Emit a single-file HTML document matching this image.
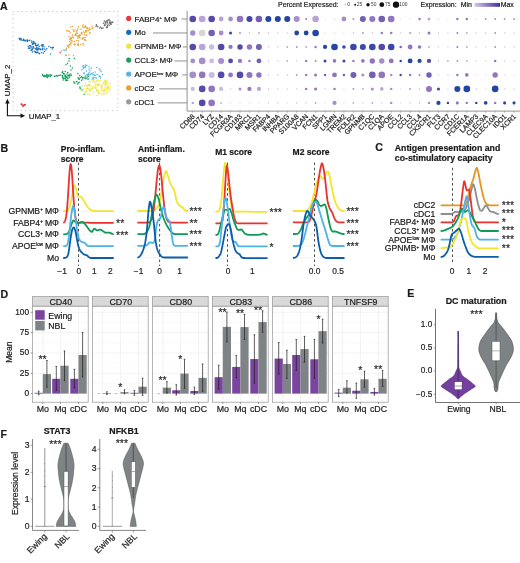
<!DOCTYPE html>
<html><head><meta charset="utf-8"><title>Figure</title>
<style>html,body{margin:0;padding:0;background:#fff;}svg{display:block;}text{stroke:#1a1a1a;stroke-width:0.2px;}</style></head>
<body>
<svg width="520" height="563" viewBox="0 0 520 563" font-family='"Liberation Sans", sans-serif' fill="#1a1a1a">
<defs><linearGradient id="gexp" x1="0" x2="1" y1="0" y2="0"><stop offset="0" stop-color="#d4c8ea"/><stop offset="0.5" stop-color="#8f78c6"/><stop offset="1" stop-color="#35359c"/></linearGradient></defs>
<text x="-0.1" y="9.5" font-size="10.6" font-weight="bold">A</text>
<rect x="13" y="11.5" width="104.9" height="99.2" fill="none" stroke="#b8b8b8" stroke-width="0.8" stroke-dasharray="1.2 3.15"/>
<path d="M7.4 102 V115.8 H21.5" fill="none" stroke="#111" stroke-width="1.1"/>
<path d="M7.4 98.8 L5.2 103.4 H9.6 Z" fill="#111"/>
<path d="M25.1 115.8 L20.5 113.6 V118 Z" fill="#111"/>
<text x="28.7" y="118.9" font-size="7.9">UMAP_1</text>
<text transform="translate(10.1,96.3) rotate(-90)" font-size="7.9">UMAP_2</text>
<circle cx="107.9" cy="24.0" r="0.76" fill="#6f6f6f"/>
<circle cx="107.5" cy="22.0" r="0.76" fill="#6f6f6f"/>
<circle cx="105.3" cy="22.9" r="0.76" fill="#6f6f6f"/>
<circle cx="112.2" cy="22.6" r="0.76" fill="#6f6f6f"/>
<circle cx="112.0" cy="22.3" r="0.76" fill="#6f6f6f"/>
<circle cx="110.0" cy="22.7" r="0.76" fill="#6f6f6f"/>
<circle cx="104.6" cy="25.1" r="0.76" fill="#6f6f6f"/>
<circle cx="110.6" cy="23.3" r="0.76" fill="#6f6f6f"/>
<circle cx="104.3" cy="21.1" r="0.76" fill="#6f6f6f"/>
<circle cx="105.3" cy="22.3" r="0.76" fill="#6f6f6f"/>
<circle cx="109.6" cy="22.2" r="0.76" fill="#6f6f6f"/>
<circle cx="109.9" cy="20.7" r="0.76" fill="#6f6f6f"/>
<circle cx="109.8" cy="23.3" r="0.76" fill="#6f6f6f"/>
<circle cx="107.6" cy="26.0" r="0.76" fill="#6f6f6f"/>
<circle cx="110.8" cy="24.6" r="0.76" fill="#6f6f6f"/>
<circle cx="106.0" cy="21.5" r="0.76" fill="#6f6f6f"/>
<circle cx="107.2" cy="22.7" r="0.76" fill="#6f6f6f"/>
<circle cx="110.9" cy="22.6" r="0.76" fill="#6f6f6f"/>
<circle cx="106.5" cy="20.9" r="0.76" fill="#6f6f6f"/>
<circle cx="107.6" cy="25.5" r="0.76" fill="#6f6f6f"/>
<circle cx="105.9" cy="23.9" r="0.76" fill="#6f6f6f"/>
<circle cx="109.0" cy="19.5" r="0.76" fill="#6f6f6f"/>
<circle cx="109.3" cy="25.2" r="0.76" fill="#6f6f6f"/>
<circle cx="103.5" cy="23.3" r="0.76" fill="#6f6f6f"/>
<circle cx="107.7" cy="20.8" r="0.76" fill="#6f6f6f"/>
<circle cx="110.2" cy="22.0" r="0.76" fill="#6f6f6f"/>
<circle cx="104.9" cy="25.1" r="0.76" fill="#6f6f6f"/>
<circle cx="111.1" cy="24.1" r="0.76" fill="#6f6f6f"/>
<circle cx="112.8" cy="22.2" r="0.76" fill="#6f6f6f"/>
<circle cx="108.2" cy="19.9" r="0.76" fill="#6f6f6f"/>
<circle cx="101.7" cy="28.6" r="0.76" fill="#6f6f6f"/>
<circle cx="100.5" cy="27.2" r="0.76" fill="#6f6f6f"/>
<circle cx="103.0" cy="28.0" r="0.76" fill="#6f6f6f"/>
<circle cx="99.7" cy="28.0" r="0.76" fill="#6f6f6f"/>
<circle cx="101.8" cy="28.2" r="0.76" fill="#6f6f6f"/>
<circle cx="97.9" cy="26.8" r="0.76" fill="#6f6f6f"/>
<circle cx="96.4" cy="24.8" r="0.76" fill="#6f6f6f"/>
<circle cx="96.0" cy="26.5" r="0.76" fill="#6f6f6f"/>
<circle cx="96.6" cy="25.6" r="0.76" fill="#6f6f6f"/>
<circle cx="106.9" cy="27.6" r="0.76" fill="#6f6f6f"/>
<circle cx="107.0" cy="27.4" r="0.76" fill="#6f6f6f"/>
<circle cx="107.2" cy="27.5" r="0.76" fill="#6f6f6f"/>
<circle cx="106.4" cy="27.1" r="0.76" fill="#6f6f6f"/>
<circle cx="104.5" cy="25.4" r="0.76" fill="#6f6f6f"/>
<circle cx="79.4" cy="37.2" r="0.76" fill="#e8a02c"/>
<circle cx="73.3" cy="30.0" r="0.76" fill="#e8a02c"/>
<circle cx="86.3" cy="32.1" r="0.76" fill="#e8a02c"/>
<circle cx="72.3" cy="36.1" r="0.76" fill="#e8a02c"/>
<circle cx="88.0" cy="30.2" r="0.76" fill="#e8a02c"/>
<circle cx="69.1" cy="31.4" r="0.76" fill="#e8a02c"/>
<circle cx="77.3" cy="30.4" r="0.76" fill="#e8a02c"/>
<circle cx="87.1" cy="28.1" r="0.76" fill="#e8a02c"/>
<circle cx="86.1" cy="27.2" r="0.76" fill="#e8a02c"/>
<circle cx="72.6" cy="35.0" r="0.76" fill="#e8a02c"/>
<circle cx="86.1" cy="35.6" r="0.76" fill="#e8a02c"/>
<circle cx="81.4" cy="32.7" r="0.76" fill="#e8a02c"/>
<circle cx="79.7" cy="34.9" r="0.76" fill="#e8a02c"/>
<circle cx="77.0" cy="33.5" r="0.76" fill="#e8a02c"/>
<circle cx="83.2" cy="32.0" r="0.76" fill="#e8a02c"/>
<circle cx="84.3" cy="34.7" r="0.76" fill="#e8a02c"/>
<circle cx="89.6" cy="33.1" r="0.76" fill="#e8a02c"/>
<circle cx="75.0" cy="30.1" r="0.76" fill="#e8a02c"/>
<circle cx="78.4" cy="36.4" r="0.76" fill="#e8a02c"/>
<circle cx="75.7" cy="34.0" r="0.76" fill="#e8a02c"/>
<circle cx="85.5" cy="25.9" r="0.76" fill="#e8a02c"/>
<circle cx="70.3" cy="33.1" r="0.76" fill="#e8a02c"/>
<circle cx="81.8" cy="33.2" r="0.76" fill="#e8a02c"/>
<circle cx="75.1" cy="35.2" r="0.76" fill="#e8a02c"/>
<circle cx="80.8" cy="29.3" r="0.76" fill="#e8a02c"/>
<circle cx="90.1" cy="33.1" r="0.76" fill="#e8a02c"/>
<circle cx="74.0" cy="31.5" r="0.76" fill="#e8a02c"/>
<circle cx="76.6" cy="31.7" r="0.76" fill="#e8a02c"/>
<circle cx="66.8" cy="30.7" r="0.76" fill="#e8a02c"/>
<circle cx="85.0" cy="27.3" r="0.76" fill="#e8a02c"/>
<circle cx="78.0" cy="36.5" r="0.76" fill="#e8a02c"/>
<circle cx="83.8" cy="37.7" r="0.76" fill="#e8a02c"/>
<circle cx="68.1" cy="30.7" r="0.76" fill="#e8a02c"/>
<circle cx="75.8" cy="35.1" r="0.76" fill="#e8a02c"/>
<circle cx="83.0" cy="25.1" r="0.76" fill="#e8a02c"/>
<circle cx="85.0" cy="26.6" r="0.76" fill="#e8a02c"/>
<circle cx="82.8" cy="26.1" r="0.76" fill="#e8a02c"/>
<circle cx="79.8" cy="37.3" r="0.76" fill="#e8a02c"/>
<circle cx="77.2" cy="33.0" r="0.76" fill="#e8a02c"/>
<circle cx="84.7" cy="32.7" r="0.76" fill="#e8a02c"/>
<circle cx="77.9" cy="38.2" r="0.76" fill="#e8a02c"/>
<circle cx="86.2" cy="30.6" r="0.76" fill="#e8a02c"/>
<circle cx="89.5" cy="29.1" r="0.76" fill="#e8a02c"/>
<circle cx="85.5" cy="30.7" r="0.76" fill="#e8a02c"/>
<circle cx="79.6" cy="35.5" r="0.76" fill="#e8a02c"/>
<circle cx="80.3" cy="35.2" r="0.76" fill="#e8a02c"/>
<circle cx="70.4" cy="27.0" r="0.76" fill="#e8a02c"/>
<circle cx="83.0" cy="27.6" r="0.76" fill="#e8a02c"/>
<circle cx="72.4" cy="26.5" r="0.76" fill="#e8a02c"/>
<circle cx="86.9" cy="35.1" r="0.76" fill="#e8a02c"/>
<circle cx="87.5" cy="28.4" r="0.76" fill="#e8a02c"/>
<circle cx="78.5" cy="26.8" r="0.76" fill="#e8a02c"/>
<circle cx="83.1" cy="38.0" r="0.76" fill="#e8a02c"/>
<circle cx="73.2" cy="37.8" r="0.76" fill="#e8a02c"/>
<circle cx="85.9" cy="31.2" r="0.76" fill="#e8a02c"/>
<circle cx="69.0" cy="36.2" r="0.76" fill="#e8a02c"/>
<circle cx="77.7" cy="28.9" r="0.76" fill="#e8a02c"/>
<circle cx="81.8" cy="34.1" r="0.76" fill="#e8a02c"/>
<circle cx="87.4" cy="28.2" r="0.76" fill="#e8a02c"/>
<circle cx="85.1" cy="37.4" r="0.76" fill="#e8a02c"/>
<circle cx="84.8" cy="39.8" r="0.76" fill="#e8a02c"/>
<circle cx="74.3" cy="44.4" r="0.76" fill="#e8a02c"/>
<circle cx="78.7" cy="41.1" r="0.76" fill="#e8a02c"/>
<circle cx="84.7" cy="39.5" r="0.76" fill="#e8a02c"/>
<circle cx="69.9" cy="39.5" r="0.76" fill="#e8a02c"/>
<circle cx="70.7" cy="43.0" r="0.76" fill="#e8a02c"/>
<circle cx="79.8" cy="37.8" r="0.76" fill="#e8a02c"/>
<circle cx="77.9" cy="44.0" r="0.76" fill="#e8a02c"/>
<circle cx="78.4" cy="45.5" r="0.76" fill="#e8a02c"/>
<circle cx="77.7" cy="44.7" r="0.76" fill="#e8a02c"/>
<circle cx="83.5" cy="45.0" r="0.76" fill="#e8a02c"/>
<circle cx="74.5" cy="44.0" r="0.76" fill="#e8a02c"/>
<circle cx="71.0" cy="37.4" r="0.76" fill="#e8a02c"/>
<circle cx="70.8" cy="43.5" r="0.76" fill="#e8a02c"/>
<circle cx="71.8" cy="40.5" r="0.76" fill="#e8a02c"/>
<circle cx="76.9" cy="40.4" r="0.76" fill="#e8a02c"/>
<circle cx="74.6" cy="41.5" r="0.76" fill="#e8a02c"/>
<circle cx="85.6" cy="40.6" r="0.76" fill="#e8a02c"/>
<circle cx="80.7" cy="44.5" r="0.76" fill="#e8a02c"/>
<circle cx="77.0" cy="35.7" r="0.76" fill="#e8a02c"/>
<circle cx="75.2" cy="44.7" r="0.76" fill="#e8a02c"/>
<circle cx="70.9" cy="38.5" r="0.76" fill="#e8a02c"/>
<circle cx="83.0" cy="43.5" r="0.76" fill="#e8a02c"/>
<circle cx="78.0" cy="43.9" r="0.76" fill="#e8a02c"/>
<circle cx="78.8" cy="35.9" r="0.76" fill="#e8a02c"/>
<circle cx="71.1" cy="38.4" r="0.76" fill="#e8a02c"/>
<circle cx="82.8" cy="38.2" r="0.76" fill="#e8a02c"/>
<circle cx="73.4" cy="37.5" r="0.76" fill="#e8a02c"/>
<circle cx="70.9" cy="40.1" r="0.76" fill="#e8a02c"/>
<circle cx="72.1" cy="41.9" r="0.76" fill="#e8a02c"/>
<circle cx="69.8" cy="41.4" r="0.76" fill="#e8a02c"/>
<circle cx="75.5" cy="34.7" r="0.76" fill="#e8a02c"/>
<circle cx="82.0" cy="39.3" r="0.76" fill="#e8a02c"/>
<circle cx="70.3" cy="38.2" r="0.76" fill="#e8a02c"/>
<circle cx="92.0" cy="26.3" r="0.76" fill="#e8a02c"/>
<circle cx="89.4" cy="27.9" r="0.76" fill="#e8a02c"/>
<circle cx="88.9" cy="30.6" r="0.76" fill="#e8a02c"/>
<circle cx="92.3" cy="28.0" r="0.76" fill="#e8a02c"/>
<circle cx="90.9" cy="29.2" r="0.76" fill="#e8a02c"/>
<circle cx="93.0" cy="28.5" r="0.76" fill="#e8a02c"/>
<circle cx="68.6" cy="47.4" r="0.76" fill="#e8a02c"/>
<circle cx="66.3" cy="48.4" r="0.76" fill="#e8a02c"/>
<circle cx="67.8" cy="46.1" r="0.76" fill="#e8a02c"/>
<circle cx="69.4" cy="44.6" r="0.76" fill="#e8a02c"/>
<circle cx="67.9" cy="45.9" r="0.76" fill="#e8a02c"/>
<circle cx="69.1" cy="45.9" r="0.76" fill="#e8a02c"/>
<circle cx="70.9" cy="45.0" r="0.76" fill="#e8a02c"/>
<circle cx="33.8" cy="41.8" r="0.76" fill="#1b6fb8"/>
<circle cx="20.1" cy="38.5" r="0.76" fill="#1b6fb8"/>
<circle cx="20.9" cy="40.0" r="0.76" fill="#1b6fb8"/>
<circle cx="31.7" cy="41.0" r="0.76" fill="#1b6fb8"/>
<circle cx="33.8" cy="42.4" r="0.76" fill="#1b6fb8"/>
<circle cx="19.6" cy="39.5" r="0.76" fill="#1b6fb8"/>
<circle cx="25.0" cy="41.1" r="0.76" fill="#1b6fb8"/>
<circle cx="29.7" cy="40.3" r="0.76" fill="#1b6fb8"/>
<circle cx="31.9" cy="42.4" r="0.76" fill="#1b6fb8"/>
<circle cx="26.0" cy="40.5" r="0.76" fill="#1b6fb8"/>
<circle cx="33.4" cy="41.4" r="0.76" fill="#1b6fb8"/>
<circle cx="27.0" cy="39.9" r="0.76" fill="#1b6fb8"/>
<circle cx="20.8" cy="38.8" r="0.76" fill="#1b6fb8"/>
<circle cx="23.6" cy="40.4" r="0.76" fill="#1b6fb8"/>
<circle cx="23.6" cy="39.2" r="0.76" fill="#1b6fb8"/>
<circle cx="23.7" cy="39.6" r="0.76" fill="#1b6fb8"/>
<circle cx="19.7" cy="38.9" r="0.76" fill="#1b6fb8"/>
<circle cx="22.0" cy="40.2" r="0.76" fill="#1b6fb8"/>
<circle cx="21.3" cy="39.0" r="0.76" fill="#1b6fb8"/>
<circle cx="27.5" cy="40.3" r="0.76" fill="#1b6fb8"/>
<circle cx="27.4" cy="41.4" r="0.76" fill="#1b6fb8"/>
<circle cx="25.1" cy="40.4" r="0.76" fill="#1b6fb8"/>
<circle cx="29.0" cy="40.8" r="0.76" fill="#1b6fb8"/>
<circle cx="19.2" cy="38.2" r="0.76" fill="#1b6fb8"/>
<circle cx="37.8" cy="45.5" r="0.76" fill="#1b6fb8"/>
<circle cx="38.7" cy="49.8" r="0.76" fill="#1b6fb8"/>
<circle cx="43.1" cy="45.0" r="0.76" fill="#1b6fb8"/>
<circle cx="35.6" cy="45.2" r="0.76" fill="#1b6fb8"/>
<circle cx="37.2" cy="51.1" r="0.76" fill="#1b6fb8"/>
<circle cx="33.8" cy="48.0" r="0.76" fill="#1b6fb8"/>
<circle cx="32.8" cy="48.2" r="0.76" fill="#1b6fb8"/>
<circle cx="46.8" cy="48.8" r="0.76" fill="#1b6fb8"/>
<circle cx="33.2" cy="46.5" r="0.76" fill="#1b6fb8"/>
<circle cx="42.7" cy="48.6" r="0.76" fill="#1b6fb8"/>
<circle cx="37.3" cy="48.3" r="0.76" fill="#1b6fb8"/>
<circle cx="32.2" cy="49.7" r="0.76" fill="#1b6fb8"/>
<circle cx="33.3" cy="47.3" r="0.76" fill="#1b6fb8"/>
<circle cx="36.8" cy="48.1" r="0.76" fill="#1b6fb8"/>
<circle cx="36.9" cy="49.7" r="0.76" fill="#1b6fb8"/>
<circle cx="35.8" cy="48.5" r="0.76" fill="#1b6fb8"/>
<circle cx="42.6" cy="49.7" r="0.76" fill="#1b6fb8"/>
<circle cx="37.5" cy="52.4" r="0.76" fill="#1b6fb8"/>
<circle cx="29.7" cy="45.7" r="0.76" fill="#1b6fb8"/>
<circle cx="33.9" cy="43.6" r="0.76" fill="#1b6fb8"/>
<circle cx="42.2" cy="46.8" r="0.76" fill="#1b6fb8"/>
<circle cx="32.3" cy="52.0" r="0.76" fill="#1b6fb8"/>
<circle cx="41.5" cy="52.8" r="0.76" fill="#1b6fb8"/>
<circle cx="36.5" cy="47.1" r="0.76" fill="#1b6fb8"/>
<circle cx="42.9" cy="44.8" r="0.76" fill="#1b6fb8"/>
<circle cx="32.5" cy="43.8" r="0.76" fill="#1b6fb8"/>
<circle cx="39.2" cy="46.6" r="0.76" fill="#1b6fb8"/>
<circle cx="31.0" cy="46.3" r="0.76" fill="#1b6fb8"/>
<circle cx="42.6" cy="45.0" r="0.76" fill="#1b6fb8"/>
<circle cx="41.5" cy="45.3" r="0.76" fill="#1b6fb8"/>
<circle cx="44.1" cy="46.7" r="0.76" fill="#1b6fb8"/>
<circle cx="36.4" cy="45.5" r="0.76" fill="#1b6fb8"/>
<circle cx="40.8" cy="49.3" r="0.76" fill="#1b6fb8"/>
<circle cx="35.3" cy="49.1" r="0.76" fill="#1b6fb8"/>
<circle cx="41.8" cy="45.5" r="0.76" fill="#1b6fb8"/>
<circle cx="32.9" cy="44.1" r="0.76" fill="#1b6fb8"/>
<circle cx="35.4" cy="44.3" r="0.76" fill="#1b6fb8"/>
<circle cx="45.9" cy="50.0" r="0.76" fill="#1b6fb8"/>
<circle cx="38.2" cy="44.4" r="0.76" fill="#1b6fb8"/>
<circle cx="30.2" cy="45.7" r="0.76" fill="#1b6fb8"/>
<circle cx="44.5" cy="51.5" r="0.76" fill="#1b6fb8"/>
<circle cx="37.2" cy="49.6" r="0.76" fill="#1b6fb8"/>
<circle cx="35.8" cy="52.5" r="0.76" fill="#1b6fb8"/>
<circle cx="38.9" cy="53.0" r="0.76" fill="#1b6fb8"/>
<circle cx="44.2" cy="49.0" r="0.76" fill="#1b6fb8"/>
<circle cx="32.2" cy="49.7" r="0.76" fill="#1b6fb8"/>
<circle cx="35.0" cy="43.3" r="0.76" fill="#1b6fb8"/>
<circle cx="32.5" cy="44.2" r="0.76" fill="#1b6fb8"/>
<circle cx="40.5" cy="49.8" r="0.76" fill="#1b6fb8"/>
<circle cx="36.4" cy="52.7" r="0.76" fill="#1b6fb8"/>
<circle cx="34.4" cy="51.5" r="0.76" fill="#1b6fb8"/>
<circle cx="39.8" cy="48.8" r="0.76" fill="#1b6fb8"/>
<circle cx="35.7" cy="52.3" r="0.76" fill="#1b6fb8"/>
<circle cx="35.6" cy="43.6" r="0.76" fill="#1b6fb8"/>
<circle cx="35.0" cy="51.5" r="0.76" fill="#1b6fb8"/>
<circle cx="31.1" cy="47.7" r="0.76" fill="#1b6fb8"/>
<circle cx="43.4" cy="52.9" r="0.76" fill="#1b6fb8"/>
<circle cx="39.4" cy="53.8" r="0.76" fill="#1b6fb8"/>
<circle cx="38.7" cy="48.2" r="0.76" fill="#1b6fb8"/>
<circle cx="29.0" cy="47.8" r="0.76" fill="#1b6fb8"/>
<circle cx="31.7" cy="49.4" r="0.76" fill="#1b6fb8"/>
<circle cx="28.2" cy="46.3" r="0.76" fill="#1b6fb8"/>
<circle cx="28.8" cy="48.4" r="0.76" fill="#1b6fb8"/>
<circle cx="31.0" cy="50.5" r="0.76" fill="#1b6fb8"/>
<circle cx="29.8" cy="48.4" r="0.76" fill="#1b6fb8"/>
<circle cx="53.1" cy="47.5" r="0.76" fill="#1b6fb8"/>
<circle cx="48.8" cy="46.6" r="0.76" fill="#1b6fb8"/>
<circle cx="53.3" cy="47.5" r="0.76" fill="#1b6fb8"/>
<circle cx="52.4" cy="49.0" r="0.76" fill="#1b6fb8"/>
<circle cx="50.7" cy="47.5" r="0.76" fill="#1b6fb8"/>
<circle cx="52.2" cy="47.6" r="0.76" fill="#1b6fb8"/>
<circle cx="66.4" cy="49.8" r="0.76" fill="#55b4e6"/>
<circle cx="65.1" cy="50.5" r="0.76" fill="#55b4e6"/>
<circle cx="63.8" cy="49.9" r="0.76" fill="#55b4e6"/>
<circle cx="61.5" cy="51.1" r="0.76" fill="#55b4e6"/>
<circle cx="21.8" cy="104.3" r="0.76" fill="#e8383d"/>
<circle cx="21.5" cy="104.3" r="0.76" fill="#e8383d"/>
<circle cx="22.0" cy="104.9" r="0.76" fill="#e8383d"/>
<circle cx="22.8" cy="105.9" r="0.76" fill="#e8383d"/>
<circle cx="23.1" cy="106.0" r="0.76" fill="#e8383d"/>
<circle cx="21.2" cy="104.0" r="0.76" fill="#e8383d"/>
<circle cx="25.0" cy="104.6" r="0.76" fill="#e8383d"/>
<circle cx="23.6" cy="105.7" r="0.76" fill="#e8383d"/>
<circle cx="24.2" cy="105.1" r="0.76" fill="#e8383d"/>
<circle cx="25.2" cy="104.6" r="0.76" fill="#e8383d"/>
<circle cx="24.6" cy="104.9" r="0.76" fill="#e8383d"/>
<circle cx="23.9" cy="105.1" r="0.76" fill="#e8383d"/>
<circle cx="60.1" cy="52.7" r="0.76" fill="#e8383d"/>
<circle cx="50.6" cy="54.0" r="0.76" fill="#1a9e5c"/>
<circle cx="66.0" cy="55.3" r="0.76" fill="#1a9e5c"/>
<circle cx="69.2" cy="58.5" r="0.76" fill="#1a9e5c"/>
<circle cx="74.5" cy="58.5" r="0.76" fill="#1a9e5c"/>
<circle cx="66.0" cy="64.8" r="0.76" fill="#1a9e5c"/>
<circle cx="67.5" cy="63.5" r="0.76" fill="#1a9e5c"/>
<circle cx="70.3" cy="65.9" r="0.76" fill="#1a9e5c"/>
<circle cx="72.4" cy="68.0" r="0.76" fill="#1a9e5c"/>
<circle cx="69.0" cy="61.0" r="0.76" fill="#1a9e5c"/>
<circle cx="71.0" cy="70.0" r="0.76" fill="#1a9e5c"/>
<circle cx="47.5" cy="77.6" r="0.76" fill="#1a9e5c"/>
<circle cx="44.3" cy="75.5" r="0.76" fill="#1a9e5c"/>
<circle cx="50.6" cy="75.0" r="0.76" fill="#1a9e5c"/>
<circle cx="44.8" cy="75.8" r="0.76" fill="#1a9e5c"/>
<circle cx="47.0" cy="76.3" r="0.76" fill="#1a9e5c"/>
<circle cx="45.7" cy="76.1" r="0.76" fill="#1a9e5c"/>
<circle cx="46.6" cy="76.7" r="0.76" fill="#1a9e5c"/>
<circle cx="42.5" cy="74.5" r="0.76" fill="#1a9e5c"/>
<circle cx="46.6" cy="74.4" r="0.76" fill="#1a9e5c"/>
<circle cx="43.5" cy="76.1" r="0.76" fill="#1a9e5c"/>
<circle cx="44.4" cy="76.3" r="0.76" fill="#1a9e5c"/>
<circle cx="48.8" cy="76.3" r="0.76" fill="#1a9e5c"/>
<circle cx="48.2" cy="75.7" r="0.76" fill="#1a9e5c"/>
<circle cx="42.7" cy="75.3" r="0.76" fill="#1a9e5c"/>
<circle cx="48.0" cy="75.1" r="0.76" fill="#1a9e5c"/>
<circle cx="46.1" cy="76.7" r="0.76" fill="#1a9e5c"/>
<circle cx="43.8" cy="76.2" r="0.76" fill="#1a9e5c"/>
<circle cx="50.8" cy="75.6" r="0.76" fill="#1a9e5c"/>
<circle cx="47.0" cy="75.5" r="0.76" fill="#1a9e5c"/>
<circle cx="50.4" cy="76.4" r="0.76" fill="#1a9e5c"/>
<circle cx="49.2" cy="75.1" r="0.76" fill="#1a9e5c"/>
<circle cx="46.4" cy="75.7" r="0.76" fill="#1a9e5c"/>
<circle cx="55.1" cy="76.2" r="0.76" fill="#1a9e5c"/>
<circle cx="58.4" cy="75.4" r="0.76" fill="#1a9e5c"/>
<circle cx="51.6" cy="75.3" r="0.76" fill="#1a9e5c"/>
<circle cx="57.2" cy="76.2" r="0.76" fill="#1a9e5c"/>
<circle cx="56.6" cy="75.6" r="0.76" fill="#1a9e5c"/>
<circle cx="54.4" cy="76.2" r="0.76" fill="#1a9e5c"/>
<circle cx="65.8" cy="80.4" r="0.76" fill="#1a9e5c"/>
<circle cx="63.4" cy="73.8" r="0.76" fill="#1a9e5c"/>
<circle cx="67.7" cy="77.9" r="0.76" fill="#1a9e5c"/>
<circle cx="62.1" cy="72.7" r="0.76" fill="#1a9e5c"/>
<circle cx="66.8" cy="76.9" r="0.76" fill="#1a9e5c"/>
<circle cx="60.4" cy="75.0" r="0.76" fill="#1a9e5c"/>
<circle cx="62.9" cy="77.2" r="0.76" fill="#1a9e5c"/>
<circle cx="65.0" cy="75.7" r="0.76" fill="#1a9e5c"/>
<circle cx="63.7" cy="78.8" r="0.76" fill="#1a9e5c"/>
<circle cx="70.8" cy="75.6" r="0.76" fill="#1a9e5c"/>
<circle cx="69.2" cy="74.2" r="0.76" fill="#1a9e5c"/>
<circle cx="65.6" cy="78.3" r="0.76" fill="#1a9e5c"/>
<circle cx="71.1" cy="75.6" r="0.76" fill="#1a9e5c"/>
<circle cx="65.1" cy="76.6" r="0.76" fill="#1a9e5c"/>
<circle cx="59.9" cy="75.5" r="0.76" fill="#1a9e5c"/>
<circle cx="62.4" cy="76.8" r="0.76" fill="#1a9e5c"/>
<circle cx="62.7" cy="71.9" r="0.76" fill="#1a9e5c"/>
<circle cx="65.6" cy="76.9" r="0.76" fill="#1a9e5c"/>
<circle cx="62.9" cy="78.3" r="0.76" fill="#1a9e5c"/>
<circle cx="64.4" cy="74.0" r="0.76" fill="#1a9e5c"/>
<circle cx="67.6" cy="72.4" r="0.76" fill="#1a9e5c"/>
<circle cx="62.4" cy="75.6" r="0.76" fill="#1a9e5c"/>
<circle cx="69.3" cy="75.9" r="0.76" fill="#1a9e5c"/>
<circle cx="67.1" cy="74.1" r="0.76" fill="#1a9e5c"/>
<circle cx="66.2" cy="80.0" r="0.76" fill="#1a9e5c"/>
<circle cx="63.2" cy="80.1" r="0.76" fill="#1a9e5c"/>
<circle cx="62.6" cy="75.8" r="0.76" fill="#1a9e5c"/>
<circle cx="65.9" cy="79.0" r="0.76" fill="#1a9e5c"/>
<circle cx="62.5" cy="71.8" r="0.76" fill="#1a9e5c"/>
<circle cx="67.8" cy="78.5" r="0.76" fill="#1a9e5c"/>
<circle cx="66.6" cy="80.6" r="0.76" fill="#1a9e5c"/>
<circle cx="66.4" cy="76.9" r="0.76" fill="#1a9e5c"/>
<circle cx="69.3" cy="77.5" r="0.76" fill="#1a9e5c"/>
<circle cx="70.9" cy="73.9" r="0.76" fill="#1a9e5c"/>
<circle cx="65.2" cy="71.4" r="0.76" fill="#1a9e5c"/>
<circle cx="69.1" cy="75.3" r="0.76" fill="#1a9e5c"/>
<circle cx="67.7" cy="80.3" r="0.76" fill="#1a9e5c"/>
<circle cx="65.6" cy="75.2" r="0.76" fill="#1a9e5c"/>
<circle cx="63.6" cy="73.4" r="0.76" fill="#1a9e5c"/>
<circle cx="62.6" cy="77.6" r="0.76" fill="#1a9e5c"/>
<circle cx="65.7" cy="76.2" r="0.76" fill="#1a9e5c"/>
<circle cx="64.5" cy="78.6" r="0.76" fill="#1a9e5c"/>
<circle cx="67.8" cy="75.8" r="0.76" fill="#1a9e5c"/>
<circle cx="68.6" cy="75.8" r="0.76" fill="#1a9e5c"/>
<circle cx="74.9" cy="83.1" r="0.76" fill="#1a9e5c"/>
<circle cx="79.6" cy="75.6" r="0.76" fill="#1a9e5c"/>
<circle cx="81.6" cy="80.2" r="0.76" fill="#1a9e5c"/>
<circle cx="74.3" cy="83.0" r="0.76" fill="#1a9e5c"/>
<circle cx="79.2" cy="82.3" r="0.76" fill="#1a9e5c"/>
<circle cx="78.8" cy="78.4" r="0.76" fill="#1a9e5c"/>
<circle cx="73.8" cy="81.8" r="0.76" fill="#1a9e5c"/>
<circle cx="78.1" cy="77.8" r="0.76" fill="#1a9e5c"/>
<circle cx="79.3" cy="79.3" r="0.76" fill="#1a9e5c"/>
<circle cx="80.4" cy="77.6" r="0.76" fill="#1a9e5c"/>
<circle cx="77.9" cy="73.5" r="0.76" fill="#1a9e5c"/>
<circle cx="76.5" cy="81.6" r="0.76" fill="#1a9e5c"/>
<circle cx="82.2" cy="77.8" r="0.76" fill="#1a9e5c"/>
<circle cx="77.6" cy="83.9" r="0.76" fill="#1a9e5c"/>
<circle cx="76.8" cy="81.8" r="0.76" fill="#1a9e5c"/>
<circle cx="82.8" cy="79.1" r="0.76" fill="#1a9e5c"/>
<circle cx="81.8" cy="76.7" r="0.76" fill="#1a9e5c"/>
<circle cx="78.8" cy="78.7" r="0.76" fill="#1a9e5c"/>
<circle cx="78.4" cy="83.0" r="0.76" fill="#1a9e5c"/>
<circle cx="83.2" cy="77.5" r="0.76" fill="#1a9e5c"/>
<circle cx="85.6" cy="78.0" r="0.76" fill="#1a9e5c"/>
<circle cx="84.6" cy="78.0" r="0.76" fill="#1a9e5c"/>
<circle cx="88.5" cy="76.4" r="0.76" fill="#1a9e5c"/>
<circle cx="88.1" cy="74.4" r="0.76" fill="#1a9e5c"/>
<circle cx="88.5" cy="74.5" r="0.76" fill="#1a9e5c"/>
<circle cx="85.3" cy="75.9" r="0.76" fill="#1a9e5c"/>
<circle cx="86.0" cy="78.7" r="0.76" fill="#1a9e5c"/>
<circle cx="87.2" cy="76.1" r="0.76" fill="#1a9e5c"/>
<circle cx="88.1" cy="79.6" r="0.76" fill="#1a9e5c"/>
<circle cx="87.0" cy="77.8" r="0.76" fill="#1a9e5c"/>
<circle cx="80.0" cy="86.9" r="0.76" fill="#1a9e5c"/>
<circle cx="84.2" cy="94.3" r="0.76" fill="#1a9e5c"/>
<circle cx="79.9" cy="87.9" r="0.76" fill="#1a9e5c"/>
<circle cx="82.1" cy="90.1" r="0.76" fill="#1a9e5c"/>
<circle cx="80.5" cy="88.8" r="0.76" fill="#1a9e5c"/>
<circle cx="89.0" cy="66.4" r="0.76" fill="#55b4e6"/>
<circle cx="100.1" cy="70.1" r="0.76" fill="#55b4e6"/>
<circle cx="100.6" cy="77.9" r="0.76" fill="#55b4e6"/>
<circle cx="89.2" cy="75.1" r="0.76" fill="#55b4e6"/>
<circle cx="84.3" cy="73.1" r="0.76" fill="#55b4e6"/>
<circle cx="94.3" cy="75.1" r="0.76" fill="#55b4e6"/>
<circle cx="92.5" cy="74.1" r="0.76" fill="#55b4e6"/>
<circle cx="101.1" cy="71.4" r="0.76" fill="#55b4e6"/>
<circle cx="88.4" cy="73.9" r="0.76" fill="#55b4e6"/>
<circle cx="102.3" cy="74.5" r="0.76" fill="#55b4e6"/>
<circle cx="93.0" cy="77.2" r="0.76" fill="#55b4e6"/>
<circle cx="86.9" cy="65.5" r="0.76" fill="#55b4e6"/>
<circle cx="99.5" cy="76.3" r="0.76" fill="#55b4e6"/>
<circle cx="99.3" cy="69.0" r="0.76" fill="#55b4e6"/>
<circle cx="95.4" cy="72.1" r="0.76" fill="#55b4e6"/>
<circle cx="91.3" cy="73.4" r="0.76" fill="#55b4e6"/>
<circle cx="96.3" cy="78.3" r="0.76" fill="#55b4e6"/>
<circle cx="82.9" cy="66.3" r="0.76" fill="#55b4e6"/>
<circle cx="83.6" cy="73.2" r="0.76" fill="#55b4e6"/>
<circle cx="86.5" cy="71.1" r="0.76" fill="#55b4e6"/>
<circle cx="96.7" cy="67.5" r="0.76" fill="#55b4e6"/>
<circle cx="100.1" cy="76.8" r="0.76" fill="#55b4e6"/>
<circle cx="89.1" cy="69.0" r="0.76" fill="#55b4e6"/>
<circle cx="89.3" cy="72.5" r="0.76" fill="#55b4e6"/>
<circle cx="94.1" cy="75.1" r="0.76" fill="#55b4e6"/>
<circle cx="85.2" cy="67.0" r="0.76" fill="#55b4e6"/>
<circle cx="93.2" cy="72.7" r="0.76" fill="#55b4e6"/>
<circle cx="86.9" cy="74.5" r="0.76" fill="#55b4e6"/>
<circle cx="95.1" cy="75.6" r="0.76" fill="#55b4e6"/>
<circle cx="95.0" cy="77.6" r="0.76" fill="#55b4e6"/>
<circle cx="90.0" cy="70.7" r="0.76" fill="#55b4e6"/>
<circle cx="99.0" cy="75.9" r="0.76" fill="#55b4e6"/>
<circle cx="83.5" cy="67.8" r="0.76" fill="#55b4e6"/>
<circle cx="97.1" cy="74.4" r="0.76" fill="#55b4e6"/>
<circle cx="91.1" cy="68.0" r="0.76" fill="#55b4e6"/>
<circle cx="90.7" cy="74.5" r="0.76" fill="#55b4e6"/>
<circle cx="85.2" cy="66.4" r="0.76" fill="#55b4e6"/>
<circle cx="81.9" cy="69.7" r="0.76" fill="#55b4e6"/>
<circle cx="85.6" cy="65.1" r="0.76" fill="#55b4e6"/>
<circle cx="83.5" cy="65.6" r="0.76" fill="#55b4e6"/>
<circle cx="85.2" cy="67.4" r="0.76" fill="#55b4e6"/>
<circle cx="83.6" cy="68.3" r="0.76" fill="#55b4e6"/>
<circle cx="88.2" cy="79.1" r="0.76" fill="#55b4e6"/>
<circle cx="93.3" cy="78.2" r="0.76" fill="#55b4e6"/>
<circle cx="92.1" cy="79.0" r="0.76" fill="#55b4e6"/>
<circle cx="88.6" cy="79.0" r="0.76" fill="#55b4e6"/>
<circle cx="93.7" cy="79.0" r="0.76" fill="#55b4e6"/>
<circle cx="100.4" cy="80.1" r="0.76" fill="#f0e442"/>
<circle cx="98.1" cy="90.5" r="0.76" fill="#f0e442"/>
<circle cx="110.0" cy="83.8" r="0.76" fill="#f0e442"/>
<circle cx="92.5" cy="88.6" r="0.76" fill="#f0e442"/>
<circle cx="104.4" cy="84.9" r="0.76" fill="#f0e442"/>
<circle cx="105.7" cy="83.4" r="0.76" fill="#f0e442"/>
<circle cx="98.5" cy="84.9" r="0.76" fill="#f0e442"/>
<circle cx="97.3" cy="84.2" r="0.76" fill="#f0e442"/>
<circle cx="84.7" cy="93.3" r="0.76" fill="#f0e442"/>
<circle cx="98.8" cy="84.7" r="0.76" fill="#f0e442"/>
<circle cx="98.4" cy="92.7" r="0.76" fill="#f0e442"/>
<circle cx="86.5" cy="88.4" r="0.76" fill="#f0e442"/>
<circle cx="101.8" cy="90.2" r="0.76" fill="#f0e442"/>
<circle cx="93.0" cy="80.8" r="0.76" fill="#f0e442"/>
<circle cx="107.3" cy="88.4" r="0.76" fill="#f0e442"/>
<circle cx="96.0" cy="86.4" r="0.76" fill="#f0e442"/>
<circle cx="98.6" cy="85.4" r="0.76" fill="#f0e442"/>
<circle cx="86.4" cy="85.5" r="0.76" fill="#f0e442"/>
<circle cx="89.7" cy="85.4" r="0.76" fill="#f0e442"/>
<circle cx="86.0" cy="92.0" r="0.76" fill="#f0e442"/>
<circle cx="85.1" cy="92.0" r="0.76" fill="#f0e442"/>
<circle cx="86.5" cy="90.7" r="0.76" fill="#f0e442"/>
<circle cx="108.1" cy="87.7" r="0.76" fill="#f0e442"/>
<circle cx="88.6" cy="89.0" r="0.76" fill="#f0e442"/>
<circle cx="96.5" cy="80.9" r="0.76" fill="#f0e442"/>
<circle cx="89.8" cy="89.5" r="0.76" fill="#f0e442"/>
<circle cx="91.1" cy="88.9" r="0.76" fill="#f0e442"/>
<circle cx="103.4" cy="91.1" r="0.76" fill="#f0e442"/>
<circle cx="104.9" cy="90.0" r="0.76" fill="#f0e442"/>
<circle cx="92.9" cy="88.2" r="0.76" fill="#f0e442"/>
<circle cx="92.9" cy="86.6" r="0.76" fill="#f0e442"/>
<circle cx="93.9" cy="81.2" r="0.76" fill="#f0e442"/>
<circle cx="92.4" cy="88.2" r="0.76" fill="#f0e442"/>
<circle cx="86.5" cy="88.8" r="0.76" fill="#f0e442"/>
<circle cx="101.3" cy="86.6" r="0.76" fill="#f0e442"/>
<circle cx="105.0" cy="80.8" r="0.76" fill="#f0e442"/>
<circle cx="93.7" cy="81.0" r="0.76" fill="#f0e442"/>
<circle cx="102.0" cy="94.9" r="0.76" fill="#f0e442"/>
<circle cx="81.0" cy="89.9" r="0.76" fill="#f0e442"/>
<circle cx="101.3" cy="85.8" r="0.76" fill="#f0e442"/>
<circle cx="98.8" cy="80.2" r="0.76" fill="#f0e442"/>
<circle cx="104.6" cy="89.0" r="0.76" fill="#f0e442"/>
<circle cx="95.9" cy="84.8" r="0.76" fill="#f0e442"/>
<circle cx="102.2" cy="84.8" r="0.76" fill="#f0e442"/>
<circle cx="98.1" cy="85.0" r="0.76" fill="#f0e442"/>
<circle cx="81.2" cy="89.4" r="0.76" fill="#f0e442"/>
<circle cx="98.4" cy="91.7" r="0.76" fill="#f0e442"/>
<circle cx="87.3" cy="88.7" r="0.76" fill="#f0e442"/>
<circle cx="102.5" cy="88.1" r="0.76" fill="#f0e442"/>
<circle cx="104.6" cy="93.7" r="0.76" fill="#f0e442"/>
<circle cx="89.1" cy="81.8" r="0.76" fill="#f0e442"/>
<circle cx="103.3" cy="93.5" r="0.76" fill="#f0e442"/>
<circle cx="104.8" cy="91.0" r="0.76" fill="#f0e442"/>
<circle cx="89.6" cy="85.0" r="0.76" fill="#f0e442"/>
<circle cx="103.6" cy="82.9" r="0.76" fill="#f0e442"/>
<circle cx="82.9" cy="85.7" r="0.76" fill="#f0e442"/>
<circle cx="108.7" cy="91.6" r="0.76" fill="#f0e442"/>
<circle cx="89.0" cy="85.0" r="0.76" fill="#f0e442"/>
<circle cx="97.9" cy="83.9" r="0.76" fill="#f0e442"/>
<circle cx="107.7" cy="86.5" r="0.76" fill="#f0e442"/>
<circle cx="87.9" cy="94.2" r="0.76" fill="#f0e442"/>
<circle cx="90.1" cy="89.8" r="0.76" fill="#f0e442"/>
<circle cx="95.7" cy="86.3" r="0.76" fill="#f0e442"/>
<circle cx="98.9" cy="84.0" r="0.76" fill="#f0e442"/>
<circle cx="85.6" cy="82.9" r="0.76" fill="#f0e442"/>
<circle cx="84.9" cy="85.8" r="0.76" fill="#f0e442"/>
<circle cx="95.8" cy="88.3" r="0.76" fill="#f0e442"/>
<circle cx="101.9" cy="88.1" r="0.76" fill="#f0e442"/>
<circle cx="88.1" cy="85.3" r="0.76" fill="#f0e442"/>
<circle cx="81.4" cy="88.9" r="0.76" fill="#f0e442"/>
<circle cx="101.2" cy="90.3" r="0.76" fill="#f0e442"/>
<circle cx="94.6" cy="87.2" r="0.76" fill="#f0e442"/>
<circle cx="105.2" cy="87.2" r="0.76" fill="#f0e442"/>
<circle cx="103.5" cy="90.2" r="0.76" fill="#f0e442"/>
<circle cx="98.5" cy="93.8" r="0.76" fill="#f0e442"/>
<circle cx="89.9" cy="86.7" r="0.76" fill="#f0e442"/>
<circle cx="88.0" cy="84.9" r="0.76" fill="#f0e442"/>
<circle cx="106.5" cy="92.8" r="0.76" fill="#f0e442"/>
<circle cx="96.5" cy="91.0" r="0.76" fill="#f0e442"/>
<circle cx="106.5" cy="90.6" r="0.76" fill="#f0e442"/>
<circle cx="104.9" cy="82.0" r="0.76" fill="#f0e442"/>
<circle cx="89.8" cy="91.0" r="0.76" fill="#f0e442"/>
<circle cx="108.4" cy="87.2" r="0.76" fill="#f0e442"/>
<circle cx="87.4" cy="87.0" r="0.76" fill="#f0e442"/>
<circle cx="89.3" cy="84.4" r="0.76" fill="#f0e442"/>
<circle cx="107.9" cy="84.2" r="0.76" fill="#f0e442"/>
<circle cx="96.9" cy="95.6" r="0.76" fill="#f0e442"/>
<circle cx="107.0" cy="88.5" r="0.76" fill="#f0e442"/>
<circle cx="90.0" cy="90.8" r="0.76" fill="#f0e442"/>
<circle cx="109.0" cy="89.2" r="0.76" fill="#f0e442"/>
<circle cx="107.5" cy="87.3" r="0.76" fill="#f0e442"/>
<circle cx="101.3" cy="86.4" r="0.76" fill="#f0e442"/>
<circle cx="100.3" cy="93.5" r="0.76" fill="#f0e442"/>
<circle cx="83.6" cy="89.0" r="0.76" fill="#f0e442"/>
<circle cx="98.2" cy="84.7" r="0.76" fill="#f0e442"/>
<circle cx="93.3" cy="92.4" r="0.76" fill="#f0e442"/>
<circle cx="110.1" cy="88.9" r="0.76" fill="#f0e442"/>
<circle cx="98.0" cy="81.1" r="0.76" fill="#f0e442"/>
<circle cx="110.2" cy="86.9" r="0.76" fill="#f0e442"/>
<circle cx="95.1" cy="82.6" r="0.76" fill="#f0e442"/>
<circle cx="94.9" cy="82.7" r="0.76" fill="#f0e442"/>
<circle cx="97.0" cy="90.5" r="0.76" fill="#f0e442"/>
<circle cx="96.5" cy="89.5" r="0.76" fill="#f0e442"/>
<circle cx="89.8" cy="94.6" r="0.76" fill="#f0e442"/>
<circle cx="90.5" cy="81.6" r="0.76" fill="#f0e442"/>
<circle cx="105.6" cy="81.7" r="0.76" fill="#f0e442"/>
<circle cx="103.7" cy="82.4" r="0.76" fill="#f0e442"/>
<circle cx="106.6" cy="81.0" r="0.76" fill="#f0e442"/>
<circle cx="105.7" cy="85.3" r="0.76" fill="#f0e442"/>
<circle cx="107.6" cy="82.7" r="0.76" fill="#f0e442"/>
<circle cx="106.2" cy="82.8" r="0.76" fill="#f0e442"/>
<circle cx="105.9" cy="84.3" r="0.76" fill="#f0e442"/>
<circle cx="105.9" cy="80.1" r="0.76" fill="#f0e442"/>
<circle cx="73.5" cy="55.5" r="0.76" fill="#e8a02c"/>
<circle cx="69.0" cy="55.0" r="0.76" fill="#e8a02c"/>
<circle cx="128.7" cy="18.40" r="2.6" fill="#e8383d"/>
<text x="134.5" y="21.50" font-size="8">FABP4<tspan font-size="4.2" dy="-2.6" dx="0.2">+</tspan><tspan dy="2.6" dx="-0.3" font-size="8"> M&#934;</tspan></text>
<line x1="181.5" y1="19.00" x2="187.2" y2="19.00" stroke="#868686" stroke-width="0.9"/>
<circle cx="128.7" cy="32.30" r="2.6" fill="#1b6fb8"/>
<text x="134.5" y="35.40" font-size="8">Mo</text>
<line x1="153.0" y1="32.98" x2="187.2" y2="32.98" stroke="#868686" stroke-width="0.9"/>
<circle cx="128.7" cy="46.20" r="2.6" fill="#f0e442"/>
<text x="134.5" y="49.30" font-size="8">GPNMB<tspan font-size="4.2" dy="-2.6" dx="0.2">+</tspan><tspan dy="2.6" dx="-0.3" font-size="8"> M&#934;</tspan></text>
<line x1="182.8" y1="46.96" x2="187.2" y2="46.96" stroke="#868686" stroke-width="0.9"/>
<circle cx="128.7" cy="60.10" r="2.6" fill="#1a9e5c"/>
<text x="134.5" y="63.20" font-size="8">CCL3<tspan font-size="4.2" dy="-2.6" dx="0.2">+</tspan><tspan dy="2.6" dx="-0.3" font-size="8"> M&#934;</tspan></text>
<line x1="174.3" y1="60.94" x2="187.2" y2="60.94" stroke="#868686" stroke-width="0.9"/>
<circle cx="128.7" cy="74.00" r="2.6" fill="#55b4e6"/>
<text x="134.5" y="77.10" font-size="8">APOE<tspan font-size="4.2" dy="-2.6" dx="0.2">low</tspan><tspan dy="2.6" dx="-0.3" font-size="8"> M&#934;</tspan></text>
<line x1="182.3" y1="74.92" x2="187.2" y2="74.92" stroke="#868686" stroke-width="0.9"/>
<circle cx="128.7" cy="87.90" r="2.6" fill="#e8a02c"/>
<text x="134.5" y="91.00" font-size="8">cDC2</text>
<line x1="159.2" y1="88.90" x2="187.2" y2="88.90" stroke="#868686" stroke-width="0.9"/>
<circle cx="128.7" cy="101.80" r="2.6" fill="#9a9a9a"/>
<text x="134.5" y="104.90" font-size="8">cDC1</text>
<line x1="157.7" y1="102.88" x2="187.2" y2="102.88" stroke="#868686" stroke-width="0.9"/>
<path d="M187.1 10.8 V111.1 H520" fill="none" stroke="#808080" stroke-width="0.85"/>
<line x1="192.76" y1="111.1" x2="192.76" y2="112.7" stroke="#8a8a8a" stroke-width="0.7"/>
<text transform="translate(195.26,116.9) rotate(-45)" text-anchor="end" font-size="7.0">CD68</text>
<line x1="202.21" y1="111.1" x2="202.21" y2="112.7" stroke="#8a8a8a" stroke-width="0.7"/>
<text transform="translate(204.71,116.9) rotate(-45)" text-anchor="end" font-size="7.0">CD74</text>
<line x1="211.66" y1="111.1" x2="211.66" y2="112.7" stroke="#8a8a8a" stroke-width="0.7"/>
<text transform="translate(214.16,116.9) rotate(-45)" text-anchor="end" font-size="7.0">LYZ</text>
<line x1="221.11" y1="111.1" x2="221.11" y2="112.7" stroke="#8a8a8a" stroke-width="0.7"/>
<text transform="translate(223.61,116.9) rotate(-45)" text-anchor="end" font-size="7.0">CD14</text>
<line x1="230.56" y1="111.1" x2="230.56" y2="112.7" stroke="#8a8a8a" stroke-width="0.7"/>
<text transform="translate(233.06,116.9) rotate(-45)" text-anchor="end" font-size="7.0">FCGR3A</text>
<line x1="240.01" y1="111.1" x2="240.01" y2="112.7" stroke="#8a8a8a" stroke-width="0.7"/>
<text transform="translate(242.51,116.9) rotate(-45)" text-anchor="end" font-size="7.0">CD163</text>
<line x1="249.46" y1="111.1" x2="249.46" y2="112.7" stroke="#8a8a8a" stroke-width="0.7"/>
<text transform="translate(251.96,116.9) rotate(-45)" text-anchor="end" font-size="7.0">MRC1</text>
<line x1="258.91" y1="111.1" x2="258.91" y2="112.7" stroke="#8a8a8a" stroke-width="0.7"/>
<text transform="translate(261.41,116.9) rotate(-45)" text-anchor="end" font-size="7.0">MSR1</text>
<line x1="268.36" y1="111.1" x2="268.36" y2="112.7" stroke="#8a8a8a" stroke-width="0.7"/>
<text transform="translate(270.86,116.9) rotate(-45)" text-anchor="end" font-size="7.0">FABP4</text>
<line x1="277.81" y1="111.1" x2="277.81" y2="112.7" stroke="#8a8a8a" stroke-width="0.7"/>
<text transform="translate(280.31,116.9) rotate(-45)" text-anchor="end" font-size="7.0">INHBA</text>
<line x1="287.26" y1="111.1" x2="287.26" y2="112.7" stroke="#8a8a8a" stroke-width="0.7"/>
<text transform="translate(289.76,116.9) rotate(-45)" text-anchor="end" font-size="7.0">PPARG</text>
<line x1="296.71" y1="111.1" x2="296.71" y2="112.7" stroke="#8a8a8a" stroke-width="0.7"/>
<text transform="translate(299.21,116.9) rotate(-45)" text-anchor="end" font-size="7.0">S100A8</text>
<line x1="306.16" y1="111.1" x2="306.16" y2="112.7" stroke="#8a8a8a" stroke-width="0.7"/>
<text transform="translate(308.66,116.9) rotate(-45)" text-anchor="end" font-size="7.0">VCAN</text>
<line x1="315.61" y1="111.1" x2="315.61" y2="112.7" stroke="#8a8a8a" stroke-width="0.7"/>
<text transform="translate(318.11,116.9) rotate(-45)" text-anchor="end" font-size="7.0">FCN1</text>
<line x1="325.06" y1="111.1" x2="325.06" y2="112.7" stroke="#8a8a8a" stroke-width="0.7"/>
<text transform="translate(327.56,116.9) rotate(-45)" text-anchor="end" font-size="7.0">SPP1</text>
<line x1="334.51" y1="111.1" x2="334.51" y2="112.7" stroke="#8a8a8a" stroke-width="0.7"/>
<text transform="translate(337.01,116.9) rotate(-45)" text-anchor="end" font-size="7.0">LGMN</text>
<line x1="343.96" y1="111.1" x2="343.96" y2="112.7" stroke="#8a8a8a" stroke-width="0.7"/>
<text transform="translate(346.46,116.9) rotate(-45)" text-anchor="end" font-size="7.0">TREM2</text>
<line x1="353.41" y1="111.1" x2="353.41" y2="112.7" stroke="#8a8a8a" stroke-width="0.7"/>
<text transform="translate(355.91,116.9) rotate(-45)" text-anchor="end" font-size="7.0">FOLR2</text>
<line x1="362.86" y1="111.1" x2="362.86" y2="112.7" stroke="#8a8a8a" stroke-width="0.7"/>
<text transform="translate(365.36,116.9) rotate(-45)" text-anchor="end" font-size="7.0">GPNMB</text>
<line x1="372.31" y1="111.1" x2="372.31" y2="112.7" stroke="#8a8a8a" stroke-width="0.7"/>
<text transform="translate(374.81,116.9) rotate(-45)" text-anchor="end" font-size="7.0">C1QC</text>
<line x1="381.76" y1="111.1" x2="381.76" y2="112.7" stroke="#8a8a8a" stroke-width="0.7"/>
<text transform="translate(384.26,116.9) rotate(-45)" text-anchor="end" font-size="7.0">C1QA</text>
<line x1="391.21" y1="111.1" x2="391.21" y2="112.7" stroke="#8a8a8a" stroke-width="0.7"/>
<text transform="translate(393.71,116.9) rotate(-45)" text-anchor="end" font-size="7.0">APOE</text>
<line x1="400.66" y1="111.1" x2="400.66" y2="112.7" stroke="#8a8a8a" stroke-width="0.7"/>
<text transform="translate(403.16,116.9) rotate(-45)" text-anchor="end" font-size="7.0">CCL2</text>
<line x1="410.11" y1="111.1" x2="410.11" y2="112.7" stroke="#8a8a8a" stroke-width="0.7"/>
<text transform="translate(412.61,116.9) rotate(-45)" text-anchor="end" font-size="7.0">CCL3</text>
<line x1="419.56" y1="111.1" x2="419.56" y2="112.7" stroke="#8a8a8a" stroke-width="0.7"/>
<text transform="translate(422.06,116.9) rotate(-45)" text-anchor="end" font-size="7.0">CCL4</text>
<line x1="429.01" y1="111.1" x2="429.01" y2="112.7" stroke="#8a8a8a" stroke-width="0.7"/>
<text transform="translate(431.51,116.9) rotate(-45)" text-anchor="end" font-size="7.0">CX3CR1</text>
<line x1="438.46" y1="111.1" x2="438.46" y2="112.7" stroke="#8a8a8a" stroke-width="0.7"/>
<text transform="translate(440.96,116.9) rotate(-45)" text-anchor="end" font-size="7.0">FLT3</text>
<line x1="447.91" y1="111.1" x2="447.91" y2="112.7" stroke="#8a8a8a" stroke-width="0.7"/>
<text transform="translate(450.41,116.9) rotate(-45)" text-anchor="end" font-size="7.0">CCR7</text>
<line x1="457.36" y1="111.1" x2="457.36" y2="112.7" stroke="#8a8a8a" stroke-width="0.7"/>
<text transform="translate(459.86,116.9) rotate(-45)" text-anchor="end" font-size="7.0">CD1C</text>
<line x1="466.81" y1="111.1" x2="466.81" y2="112.7" stroke="#8a8a8a" stroke-width="0.7"/>
<text transform="translate(469.31,116.9) rotate(-45)" text-anchor="end" font-size="7.0">FCER1A</text>
<line x1="476.26" y1="111.1" x2="476.26" y2="112.7" stroke="#8a8a8a" stroke-width="0.7"/>
<text transform="translate(478.76,116.9) rotate(-45)" text-anchor="end" font-size="7.0">LAMP3</text>
<line x1="485.71" y1="111.1" x2="485.71" y2="112.7" stroke="#8a8a8a" stroke-width="0.7"/>
<text transform="translate(488.21,116.9) rotate(-45)" text-anchor="end" font-size="7.0">CLEC9A</text>
<line x1="495.16" y1="111.1" x2="495.16" y2="112.7" stroke="#8a8a8a" stroke-width="0.7"/>
<text transform="translate(497.66,116.9) rotate(-45)" text-anchor="end" font-size="7.0">CLEC10A</text>
<line x1="504.61" y1="111.1" x2="504.61" y2="112.7" stroke="#8a8a8a" stroke-width="0.7"/>
<text transform="translate(507.11,116.9) rotate(-45)" text-anchor="end" font-size="7.0">IDO1</text>
<line x1="514.06" y1="111.1" x2="514.06" y2="112.7" stroke="#8a8a8a" stroke-width="0.7"/>
<text transform="translate(516.56,116.9) rotate(-45)" text-anchor="end" font-size="7.0">XCR1</text>
<circle cx="192.76" cy="19.00" r="3.32" fill="#5649a7"/>
<circle cx="202.21" cy="19.00" r="3.32" fill="#baa4d7"/>
<circle cx="211.66" cy="19.00" r="3.32" fill="#5649a7"/>
<circle cx="221.11" cy="19.00" r="2.42" fill="#baa4d7"/>
<circle cx="230.56" cy="19.00" r="2.42" fill="#a68ecb"/>
<circle cx="240.01" cy="19.00" r="3.32" fill="#9277be"/>
<circle cx="249.46" cy="19.00" r="3.02" fill="#3d47a5"/>
<circle cx="258.91" cy="19.00" r="3.32" fill="#7460b3"/>
<circle cx="268.36" cy="19.00" r="3.02" fill="#2545a2"/>
<circle cx="277.81" cy="19.00" r="3.02" fill="#2545a2"/>
<circle cx="287.26" cy="19.00" r="3.02" fill="#2545a2"/>
<circle cx="296.71" cy="19.00" r="3.02" fill="#a68ecb"/>
<circle cx="306.16" cy="19.00" r="0.92" fill="#9277be"/>
<circle cx="315.61" cy="19.00" r="3.32" fill="#baa4d7"/>
<circle cx="325.06" cy="19.00" r="0.62" fill="#d9d0e7"/>
<circle cx="334.51" cy="19.00" r="0.62" fill="#cabbe0"/>
<circle cx="343.96" cy="19.00" r="2.42" fill="#a68ecb"/>
<circle cx="353.41" cy="19.00" r="0.92" fill="#a68ecb"/>
<circle cx="362.86" cy="19.00" r="3.02" fill="#7460b3"/>
<circle cx="372.31" cy="19.00" r="3.02" fill="#9277be"/>
<circle cx="381.76" cy="19.00" r="3.32" fill="#7460b3"/>
<circle cx="391.21" cy="19.00" r="3.32" fill="#9277be"/>
<circle cx="400.66" cy="19.00" r="0.62" fill="#d9d0e7"/>
<circle cx="410.11" cy="19.00" r="0.62" fill="#d9d0e7"/>
<circle cx="419.56" cy="19.00" r="1.22" fill="#9277be"/>
<circle cx="429.01" cy="19.00" r="1.52" fill="#baa4d7"/>
<circle cx="438.46" cy="19.00" r="0.62" fill="#cabbe0"/>
<circle cx="447.91" cy="19.00" r="0.62" fill="#d9d0e7"/>
<circle cx="457.36" cy="19.00" r="1.22" fill="#9277be"/>
<circle cx="466.81" cy="19.00" r="1.22" fill="#9277be"/>
<circle cx="476.26" cy="19.00" r="0.62" fill="#cabbe0"/>
<circle cx="485.71" cy="19.00" r="0.92" fill="#a68ecb"/>
<circle cx="495.16" cy="19.00" r="0.92" fill="#a68ecb"/>
<circle cx="504.61" cy="19.00" r="0.92" fill="#a68ecb"/>
<circle cx="514.06" cy="19.00" r="0.92" fill="#a68ecb"/>
<circle cx="192.76" cy="32.98" r="2.72" fill="#a68ecb"/>
<circle cx="202.21" cy="32.98" r="3.32" fill="#d6d6d6"/>
<circle cx="211.66" cy="32.98" r="3.32" fill="#7460b3"/>
<circle cx="221.11" cy="32.98" r="2.42" fill="#a68ecb"/>
<circle cx="230.56" cy="32.98" r="1.52" fill="#3d47a5"/>
<circle cx="240.01" cy="32.98" r="0.92" fill="#a68ecb"/>
<circle cx="249.46" cy="32.98" r="0.62" fill="#baa4d7"/>
<circle cx="258.91" cy="32.98" r="0.92" fill="#baa4d7"/>
<circle cx="268.36" cy="32.98" r="0.62" fill="#baa4d7"/>
<circle cx="277.81" cy="32.98" r="0.62" fill="#cabbe0"/>
<circle cx="287.26" cy="32.98" r="0.62" fill="#cabbe0"/>
<circle cx="296.71" cy="32.98" r="2.42" fill="#2545a2"/>
<circle cx="306.16" cy="32.98" r="2.42" fill="#2545a2"/>
<circle cx="315.61" cy="32.98" r="3.32" fill="#2545a2"/>
<circle cx="325.06" cy="32.98" r="0.62" fill="#d9d0e7"/>
<circle cx="334.51" cy="32.98" r="0.62" fill="#d9d0e7"/>
<circle cx="343.96" cy="32.98" r="0.62" fill="#d9d0e7"/>
<circle cx="353.41" cy="32.98" r="0.62" fill="#baa4d7"/>
<circle cx="362.86" cy="32.98" r="0.92" fill="#a68ecb"/>
<circle cx="372.31" cy="32.98" r="0.62" fill="#baa4d7"/>
<circle cx="381.76" cy="32.98" r="1.22" fill="#9277be"/>
<circle cx="391.21" cy="32.98" r="1.22" fill="#9277be"/>
<circle cx="400.66" cy="32.98" r="0.62" fill="#cabbe0"/>
<circle cx="410.11" cy="32.98" r="0.92" fill="#a68ecb"/>
<circle cx="419.56" cy="32.98" r="0.62" fill="#baa4d7"/>
<circle cx="429.01" cy="32.98" r="1.52" fill="#9277be"/>
<circle cx="438.46" cy="32.98" r="0.62" fill="#baa4d7"/>
<circle cx="447.91" cy="32.98" r="0.62" fill="#cabbe0"/>
<circle cx="457.36" cy="32.98" r="0.92" fill="#9277be"/>
<circle cx="466.81" cy="32.98" r="0.92" fill="#baa4d7"/>
<circle cx="476.26" cy="32.98" r="0.62" fill="#cabbe0"/>
<circle cx="485.71" cy="32.98" r="0.62" fill="#baa4d7"/>
<circle cx="495.16" cy="32.98" r="0.92" fill="#a68ecb"/>
<circle cx="504.61" cy="32.98" r="0.62" fill="#cabbe0"/>
<circle cx="514.06" cy="32.98" r="0.62" fill="#cabbe0"/>
<circle cx="192.76" cy="46.96" r="3.32" fill="#5649a7"/>
<circle cx="202.21" cy="46.96" r="3.32" fill="#baa4d7"/>
<circle cx="211.66" cy="46.96" r="2.72" fill="#cabbe0"/>
<circle cx="221.11" cy="46.96" r="3.32" fill="#5649a7"/>
<circle cx="230.56" cy="46.96" r="2.12" fill="#9277be"/>
<circle cx="240.01" cy="46.96" r="2.72" fill="#5649a7"/>
<circle cx="249.46" cy="46.96" r="2.72" fill="#9277be"/>
<circle cx="258.91" cy="46.96" r="3.02" fill="#7460b3"/>
<circle cx="268.36" cy="46.96" r="0.62" fill="#cabbe0"/>
<circle cx="277.81" cy="46.96" r="0.62" fill="#cabbe0"/>
<circle cx="287.26" cy="46.96" r="0.92" fill="#baa4d7"/>
<circle cx="296.71" cy="46.96" r="0.92" fill="#a68ecb"/>
<circle cx="306.16" cy="46.96" r="0.92" fill="#baa4d7"/>
<circle cx="315.61" cy="46.96" r="1.22" fill="#9277be"/>
<circle cx="325.06" cy="46.96" r="2.12" fill="#2545a2"/>
<circle cx="334.51" cy="46.96" r="3.32" fill="#2545a2"/>
<circle cx="343.96" cy="46.96" r="1.82" fill="#3d47a5"/>
<circle cx="353.41" cy="46.96" r="3.32" fill="#3d47a5"/>
<circle cx="362.86" cy="46.96" r="3.02" fill="#3d47a5"/>
<circle cx="372.31" cy="46.96" r="3.32" fill="#3d47a5"/>
<circle cx="381.76" cy="46.96" r="3.32" fill="#5649a7"/>
<circle cx="391.21" cy="46.96" r="3.32" fill="#3d47a5"/>
<circle cx="400.66" cy="46.96" r="1.22" fill="#7460b3"/>
<circle cx="410.11" cy="46.96" r="2.42" fill="#9277be"/>
<circle cx="419.56" cy="46.96" r="1.82" fill="#9277be"/>
<circle cx="429.01" cy="46.96" r="0.92" fill="#baa4d7"/>
<circle cx="438.46" cy="46.96" r="0.62" fill="#cabbe0"/>
<circle cx="447.91" cy="46.96" r="0.62" fill="#cabbe0"/>
<circle cx="457.36" cy="46.96" r="0.92" fill="#9277be"/>
<circle cx="466.81" cy="46.96" r="0.92" fill="#baa4d7"/>
<circle cx="476.26" cy="46.96" r="0.62" fill="#cabbe0"/>
<circle cx="485.71" cy="46.96" r="0.62" fill="#cabbe0"/>
<circle cx="495.16" cy="46.96" r="0.92" fill="#a68ecb"/>
<circle cx="504.61" cy="46.96" r="0.62" fill="#cabbe0"/>
<circle cx="514.06" cy="46.96" r="0.62" fill="#cabbe0"/>
<circle cx="192.76" cy="60.94" r="2.42" fill="#a68ecb"/>
<circle cx="202.21" cy="60.94" r="3.32" fill="#a68ecb"/>
<circle cx="211.66" cy="60.94" r="2.42" fill="#cabbe0"/>
<circle cx="221.11" cy="60.94" r="3.02" fill="#a68ecb"/>
<circle cx="230.56" cy="60.94" r="2.42" fill="#5649a7"/>
<circle cx="240.01" cy="60.94" r="2.12" fill="#9277be"/>
<circle cx="249.46" cy="60.94" r="1.22" fill="#9277be"/>
<circle cx="258.91" cy="60.94" r="2.42" fill="#7460b3"/>
<circle cx="268.36" cy="60.94" r="0.62" fill="#baa4d7"/>
<circle cx="277.81" cy="60.94" r="0.62" fill="#cabbe0"/>
<circle cx="287.26" cy="60.94" r="0.92" fill="#baa4d7"/>
<circle cx="296.71" cy="60.94" r="0.62" fill="#cabbe0"/>
<circle cx="306.16" cy="60.94" r="1.22" fill="#9277be"/>
<circle cx="315.61" cy="60.94" r="0.92" fill="#9277be"/>
<circle cx="325.06" cy="60.94" r="1.52" fill="#3d47a5"/>
<circle cx="334.51" cy="60.94" r="1.82" fill="#9277be"/>
<circle cx="343.96" cy="60.94" r="1.52" fill="#3d47a5"/>
<circle cx="353.41" cy="60.94" r="1.22" fill="#9277be"/>
<circle cx="362.86" cy="60.94" r="1.82" fill="#9277be"/>
<circle cx="372.31" cy="60.94" r="2.72" fill="#9277be"/>
<circle cx="381.76" cy="60.94" r="2.72" fill="#a68ecb"/>
<circle cx="391.21" cy="60.94" r="2.42" fill="#9277be"/>
<circle cx="400.66" cy="60.94" r="1.22" fill="#2545a2"/>
<circle cx="410.11" cy="60.94" r="2.42" fill="#2545a2"/>
<circle cx="419.56" cy="60.94" r="2.12" fill="#2545a2"/>
<circle cx="429.01" cy="60.94" r="2.12" fill="#5649a7"/>
<circle cx="438.46" cy="60.94" r="0.62" fill="#baa4d7"/>
<circle cx="447.91" cy="60.94" r="0.92" fill="#baa4d7"/>
<circle cx="457.36" cy="60.94" r="0.92" fill="#a68ecb"/>
<circle cx="466.81" cy="60.94" r="0.92" fill="#baa4d7"/>
<circle cx="476.26" cy="60.94" r="0.62" fill="#cabbe0"/>
<circle cx="485.71" cy="60.94" r="0.62" fill="#cabbe0"/>
<circle cx="495.16" cy="60.94" r="1.22" fill="#9277be"/>
<circle cx="504.61" cy="60.94" r="0.62" fill="#cabbe0"/>
<circle cx="514.06" cy="60.94" r="0.62" fill="#cabbe0"/>
<circle cx="192.76" cy="74.92" r="3.32" fill="#a68ecb"/>
<circle cx="202.21" cy="74.92" r="3.32" fill="#9277be"/>
<circle cx="211.66" cy="74.92" r="3.02" fill="#cabbe0"/>
<circle cx="221.11" cy="74.92" r="3.32" fill="#5649a7"/>
<circle cx="230.56" cy="74.92" r="2.42" fill="#9277be"/>
<circle cx="240.01" cy="74.92" r="3.32" fill="#5649a7"/>
<circle cx="249.46" cy="74.92" r="3.02" fill="#9277be"/>
<circle cx="258.91" cy="74.92" r="2.72" fill="#9277be"/>
<circle cx="268.36" cy="74.92" r="0.62" fill="#baa4d7"/>
<circle cx="277.81" cy="74.92" r="0.62" fill="#baa4d7"/>
<circle cx="287.26" cy="74.92" r="0.62" fill="#baa4d7"/>
<circle cx="296.71" cy="74.92" r="0.92" fill="#a68ecb"/>
<circle cx="306.16" cy="74.92" r="1.22" fill="#9277be"/>
<circle cx="315.61" cy="74.92" r="1.52" fill="#9277be"/>
<circle cx="325.06" cy="74.92" r="1.22" fill="#7460b3"/>
<circle cx="334.51" cy="74.92" r="2.42" fill="#9277be"/>
<circle cx="343.96" cy="74.92" r="1.22" fill="#7460b3"/>
<circle cx="353.41" cy="74.92" r="3.02" fill="#7460b3"/>
<circle cx="362.86" cy="74.92" r="1.52" fill="#a68ecb"/>
<circle cx="372.31" cy="74.92" r="3.32" fill="#7460b3"/>
<circle cx="381.76" cy="74.92" r="3.32" fill="#9277be"/>
<circle cx="391.21" cy="74.92" r="1.22" fill="#a68ecb"/>
<circle cx="400.66" cy="74.92" r="1.22" fill="#3d47a5"/>
<circle cx="410.11" cy="74.92" r="1.22" fill="#9277be"/>
<circle cx="419.56" cy="74.92" r="0.92" fill="#9277be"/>
<circle cx="429.01" cy="74.92" r="2.72" fill="#7460b3"/>
<circle cx="438.46" cy="74.92" r="0.62" fill="#cabbe0"/>
<circle cx="447.91" cy="74.92" r="0.62" fill="#cabbe0"/>
<circle cx="457.36" cy="74.92" r="1.22" fill="#9277be"/>
<circle cx="466.81" cy="74.92" r="1.82" fill="#9277be"/>
<circle cx="476.26" cy="74.92" r="0.62" fill="#d9d0e7"/>
<circle cx="485.71" cy="74.92" r="0.62" fill="#d9d0e7"/>
<circle cx="495.16" cy="74.92" r="2.72" fill="#9277be"/>
<circle cx="504.61" cy="74.92" r="0.62" fill="#d9d0e7"/>
<circle cx="514.06" cy="74.92" r="0.62" fill="#d9d0e7"/>
<circle cx="192.76" cy="88.90" r="2.12" fill="#cabbe0"/>
<circle cx="202.21" cy="88.90" r="3.32" fill="#5649a7"/>
<circle cx="211.66" cy="88.90" r="3.32" fill="#9277be"/>
<circle cx="221.11" cy="88.90" r="2.12" fill="#cabbe0"/>
<circle cx="230.56" cy="88.90" r="0.62" fill="#cabbe0"/>
<circle cx="240.01" cy="88.90" r="1.52" fill="#a68ecb"/>
<circle cx="249.46" cy="88.90" r="2.12" fill="#9277be"/>
<circle cx="258.91" cy="88.90" r="2.12" fill="#baa4d7"/>
<circle cx="268.36" cy="88.90" r="0.62" fill="#baa4d7"/>
<circle cx="277.81" cy="88.90" r="0.62" fill="#cabbe0"/>
<circle cx="287.26" cy="88.90" r="0.62" fill="#cabbe0"/>
<circle cx="296.71" cy="88.90" r="0.62" fill="#cabbe0"/>
<circle cx="306.16" cy="88.90" r="1.22" fill="#9277be"/>
<circle cx="315.61" cy="88.90" r="1.52" fill="#9277be"/>
<circle cx="325.06" cy="88.90" r="0.62" fill="#cabbe0"/>
<circle cx="334.51" cy="88.90" r="1.22" fill="#9277be"/>
<circle cx="343.96" cy="88.90" r="0.62" fill="#d9d0e7"/>
<circle cx="353.41" cy="88.90" r="0.92" fill="#a68ecb"/>
<circle cx="362.86" cy="88.90" r="0.92" fill="#baa4d7"/>
<circle cx="372.31" cy="88.90" r="1.52" fill="#a68ecb"/>
<circle cx="381.76" cy="88.90" r="1.82" fill="#baa4d7"/>
<circle cx="391.21" cy="88.90" r="1.22" fill="#a68ecb"/>
<circle cx="400.66" cy="88.90" r="0.62" fill="#d9d0e7"/>
<circle cx="410.11" cy="88.90" r="0.92" fill="#a68ecb"/>
<circle cx="419.56" cy="88.90" r="0.62" fill="#baa4d7"/>
<circle cx="429.01" cy="88.90" r="3.02" fill="#9277be"/>
<circle cx="438.46" cy="88.90" r="1.52" fill="#3d47a5"/>
<circle cx="447.91" cy="88.90" r="0.62" fill="#d9d0e7"/>
<circle cx="457.36" cy="88.90" r="3.02" fill="#2545a2"/>
<circle cx="466.81" cy="88.90" r="3.32" fill="#2545a2"/>
<circle cx="476.26" cy="88.90" r="0.62" fill="#baa4d7"/>
<circle cx="485.71" cy="88.90" r="0.62" fill="#d9d0e7"/>
<circle cx="495.16" cy="88.90" r="3.32" fill="#2545a2"/>
<circle cx="504.61" cy="88.90" r="0.62" fill="#cabbe0"/>
<circle cx="514.06" cy="88.90" r="0.62" fill="#cabbe0"/>
<circle cx="192.76" cy="102.88" r="1.22" fill="#baa4d7"/>
<circle cx="202.21" cy="102.88" r="3.32" fill="#5649a7"/>
<circle cx="211.66" cy="102.88" r="3.32" fill="#9277be"/>
<circle cx="221.11" cy="102.88" r="0.92" fill="#baa4d7"/>
<circle cx="230.56" cy="102.88" r="0.62" fill="#d9d0e7"/>
<circle cx="240.01" cy="102.88" r="0.62" fill="#d9d0e7"/>
<circle cx="249.46" cy="102.88" r="0.62" fill="#d9d0e7"/>
<circle cx="258.91" cy="102.88" r="0.62" fill="#d9d0e7"/>
<circle cx="268.36" cy="102.88" r="0.62" fill="#baa4d7"/>
<circle cx="277.81" cy="102.88" r="0.62" fill="#cabbe0"/>
<circle cx="287.26" cy="102.88" r="0.62" fill="#d9d0e7"/>
<circle cx="296.71" cy="102.88" r="0.62" fill="#baa4d7"/>
<circle cx="306.16" cy="102.88" r="0.62" fill="#cabbe0"/>
<circle cx="315.61" cy="102.88" r="0.92" fill="#baa4d7"/>
<circle cx="325.06" cy="102.88" r="0.62" fill="#d9d0e7"/>
<circle cx="334.51" cy="102.88" r="2.12" fill="#a68ecb"/>
<circle cx="343.96" cy="102.88" r="0.62" fill="#d9d0e7"/>
<circle cx="353.41" cy="102.88" r="0.92" fill="#baa4d7"/>
<circle cx="362.86" cy="102.88" r="0.62" fill="#cabbe0"/>
<circle cx="372.31" cy="102.88" r="0.92" fill="#baa4d7"/>
<circle cx="381.76" cy="102.88" r="0.62" fill="#cabbe0"/>
<circle cx="391.21" cy="102.88" r="1.22" fill="#a68ecb"/>
<circle cx="400.66" cy="102.88" r="0.62" fill="#d9d0e7"/>
<circle cx="410.11" cy="102.88" r="0.62" fill="#cabbe0"/>
<circle cx="419.56" cy="102.88" r="0.62" fill="#baa4d7"/>
<circle cx="429.01" cy="102.88" r="1.22" fill="#a68ecb"/>
<circle cx="438.46" cy="102.88" r="2.12" fill="#2545a2"/>
<circle cx="447.91" cy="102.88" r="1.22" fill="#2545a2"/>
<circle cx="457.36" cy="102.88" r="1.52" fill="#9277be"/>
<circle cx="466.81" cy="102.88" r="1.22" fill="#9277be"/>
<circle cx="476.26" cy="102.88" r="1.22" fill="#2545a2"/>
<circle cx="485.71" cy="102.88" r="1.82" fill="#2545a2"/>
<circle cx="495.16" cy="102.88" r="1.22" fill="#9277be"/>
<circle cx="504.61" cy="102.88" r="1.52" fill="#2545a2"/>
<circle cx="514.06" cy="102.88" r="1.52" fill="#2545a2"/>
<text x="278" y="6.9" font-size="6.95">Percent Expressed:</text>
<circle cx="345.2" cy="4.7" r="0.45" fill="#111"/>
<text x="347.3" y="6.4" font-size="4.9" fill="#3a3a3a" style="stroke:none">0</text>
<circle cx="355.2" cy="4.7" r="0.95" fill="#111"/>
<text x="356.8" y="6.4" font-size="4.9" fill="#3a3a3a" style="stroke:none">25</text>
<circle cx="368.0" cy="4.7" r="1.70" fill="#111"/>
<text x="371.0" y="6.4" font-size="4.9" fill="#3a3a3a" style="stroke:none">50</text>
<circle cx="381.8" cy="4.7" r="2.40" fill="#111"/>
<text x="385.0" y="6.4" font-size="4.9" fill="#3a3a3a" style="stroke:none">75</text>
<circle cx="396.0" cy="4.7" r="3.15" fill="#111"/>
<text x="399.3" y="6.4" font-size="4.9" fill="#3a3a3a" style="stroke:none">100</text>
<text x="420.6" y="6.9" font-size="6.9">Expression:</text>
<text x="460.8" y="6.9" font-size="6.9">Min</text>
<rect x="474.5" y="2.9" width="25.5" height="3.9" fill="url(#gexp)"/>
<text x="500.8" y="6.9" font-size="6.9">Max</text>
<text x="0.5" y="151.7" font-size="10.6" font-weight="bold">B</text>
<text x="60.8" y="152" font-size="8.5" font-weight="bold">Pro-inflam.</text>
<text x="60.8" y="161.9" font-size="8.5" font-weight="bold">score</text>
<text x="138" y="152" font-size="8.5" font-weight="bold">Anti-inflam.</text>
<text x="138" y="161.9" font-size="8.5" font-weight="bold">score</text>
<text x="215.2" y="154.5" font-size="8.5" font-weight="bold">M1 score</text>
<text x="292.6" y="154.5" font-size="8.5" font-weight="bold">M2 score</text>
<text x="375.3" y="150.5" font-size="10.6" font-weight="bold">C</text>
<text x="394.8" y="151.3" font-size="8.75" font-weight="bold">Antigen presentation and</text>
<text x="394.8" y="160.9" font-size="8.75" font-weight="bold">co-stimulatory capacity</text>
<line x1="60.2" y1="211.2" x2="116.0" y2="211.2" stroke="#e9e9e9" stroke-width="0.6"/>
<line x1="60.2" y1="222.8" x2="116.0" y2="222.8" stroke="#e9e9e9" stroke-width="0.6"/>
<line x1="60.2" y1="234.3" x2="116.0" y2="234.3" stroke="#e9e9e9" stroke-width="0.6"/>
<line x1="60.2" y1="246.2" x2="116.0" y2="246.2" stroke="#e9e9e9" stroke-width="0.6"/>
<line x1="60.2" y1="258.0" x2="116.0" y2="258.0" stroke="#e9e9e9" stroke-width="0.6"/>
<line x1="78.5" y1="162.6" x2="78.5" y2="266.0" stroke="#444" stroke-width="0.95" stroke-dasharray="2.5 2.6"/>
<path d="M63.2 211.2 63.7 211.2 64.2 211.2 64.7 211.2 65.2 211.2 65.7 211.2 66.2 211.2 66.7 211.1 67.2 210.9 67.7 210.4 68.2 209.8 68.7 209.1 69.2 208.3 69.7 207.0 70.2 205.4 70.7 203.4 71.2 201.2 71.7 198.2 72.2 194.8 72.7 191.6 73.2 189.3 73.7 187.0 74.2 185.4 74.7 185.2 75.2 186.4 75.7 188.1 76.2 189.8 76.7 191.9 77.2 194.1 77.7 195.8 78.2 196.4 78.7 196.5 79.2 196.5 79.7 196.6 80.2 196.7 80.7 196.8 81.2 196.9 81.7 197.2 82.2 197.8 82.7 198.7 83.2 199.6 83.7 200.5 84.2 201.4 84.7 202.3 85.2 203.1 85.7 204.0 86.2 204.8 86.7 205.6 87.2 206.3 87.7 207.0 88.2 207.6 88.7 208.1 89.2 208.7 89.7 209.1 90.2 209.5 90.7 209.8 91.2 210.1 91.7 210.3 92.2 210.5 92.7 210.7 93.2 210.8 93.7 210.9 94.2 211.0 94.7 211.0 95.2 211.1 95.7 211.1 96.2 211.1 96.7 211.2 97.2 211.2 97.7 211.2 98.2 211.2 98.7 211.2 99.2 211.2 99.7 211.2 100.2 211.2 100.7 211.2 101.2 211.2 101.7 211.2 102.2 211.2 102.7 211.2 103.2 211.2 103.7 211.2 104.2 211.2 104.7 211.2 105.2 211.2 105.7 211.2 106.2 211.2 106.7 211.2 107.2 211.2 107.7 211.2 108.2 211.2 108.7 211.2 109.2 211.2 109.7 211.2 110.2 211.2 110.7 211.2 111.2 211.2 111.7 211.2 112.2 211.2 112.7 211.2 113.2 211.2 113.7 211.2" fill="none" stroke="#f3e52b" stroke-width="1.80" stroke-linejoin="round" stroke-linecap="butt"/>
<path d="M63.2 222.6 63.7 222.5 64.2 222.1 64.7 221.6 65.2 220.5 65.7 218.8 66.2 216.2 66.7 212.3 67.2 207.1 67.7 200.5 68.2 192.8 68.7 184.6 69.2 176.7 69.7 170.0 70.2 165.5 70.7 164.0 71.2 165.5 71.7 170.0 72.2 176.7 72.7 184.6 73.2 192.8 73.7 200.5 74.2 207.1 74.7 212.3 75.2 216.2 75.7 218.8 76.2 220.5 76.7 221.6 77.2 222.1 77.7 222.5 78.2 222.6 78.7 222.7 79.2 222.7 79.7 222.7 80.2 222.7 80.7 222.7 81.2 222.7 81.7 222.7 82.2 222.7 82.7 222.7 83.2 222.7 83.7 222.7 84.2 222.7 84.7 222.7 85.2 222.7 85.7 222.7 86.2 222.7 86.7 222.7 87.2 222.7 87.7 222.7 88.2 222.7 88.7 222.7 89.2 222.8 89.7 222.8 90.2 222.8 90.7 222.8 91.2 222.8 91.7 222.8 92.2 222.8 92.7 222.8 93.2 222.8 93.7 222.8 94.2 222.8 94.7 222.8 95.2 222.8 95.7 222.8 96.2 222.8 96.7 222.8 97.2 222.8 97.7 222.8 98.2 222.8 98.7 222.8 99.2 222.8 99.7 222.8 100.2 222.8 100.7 222.8 101.2 222.8 101.7 222.8 102.2 222.8 102.7 222.8 103.2 222.8 103.7 222.8 104.2 222.8 104.7 222.8 105.2 222.8 105.7 222.8 106.2 222.8 106.7 222.8 107.2 222.8 107.7 222.8 108.2 222.8 108.7 222.8 109.2 222.8 109.7 222.8 110.2 222.8 110.7 222.8 111.2 222.8 111.7 222.8 112.2 222.8 112.7 222.8 113.2 222.8 113.7 222.8" fill="none" stroke="#ea322f" stroke-width="1.80" stroke-linejoin="round" stroke-linecap="butt"/>
<path d="M63.2 234.3 63.7 234.3 64.2 234.3 64.7 234.3 65.2 234.3 65.7 234.2 66.2 234.2 66.7 234.1 67.2 233.8 67.7 233.4 68.2 232.8 68.7 232.1 69.2 231.3 69.7 229.9 70.2 228.2 70.7 226.5 71.2 225.1 71.7 223.8 72.2 222.4 72.7 221.3 73.2 220.6 73.7 220.5 74.2 220.8 74.7 221.2 75.2 221.7 75.7 222.1 76.2 222.5 76.7 222.9 77.2 223.3 77.7 223.5 78.2 223.5 78.7 223.4 79.2 223.1 79.7 222.8 80.2 222.6 80.7 222.4 81.2 222.2 81.7 222.0 82.2 222.0 82.7 222.0 83.2 222.3 83.7 222.7 84.2 223.3 84.7 223.8 85.2 224.4 85.7 225.0 86.2 225.6 86.7 226.3 87.2 227.1 87.7 227.8 88.2 228.4 88.7 229.1 89.2 229.8 89.7 230.4 90.2 230.9 90.7 231.3 91.2 231.7 91.7 231.9 92.2 231.8 92.7 230.9 93.2 230.0 93.7 229.1 94.2 228.7 94.7 228.8 95.2 229.2 95.7 229.6 96.2 229.9 96.7 230.3 97.2 230.4 97.7 230.4 98.2 230.2 98.7 229.9 99.2 229.8 99.7 229.7 100.2 229.7 100.7 229.7 101.2 229.9 101.7 230.2 102.2 230.6 102.7 231.0 103.2 231.3 103.7 231.6 104.2 232.0 104.7 232.4 105.2 232.6 105.7 232.7 106.2 232.7 106.7 232.7 107.2 232.6 107.7 232.6 108.2 232.6 108.7 232.6 109.2 232.7 109.7 232.8 110.2 232.9 110.7 233.1 111.2 233.4 111.7 233.6 112.2 233.8 112.7 234.0 113.2 234.2 113.7 234.3" fill="none" stroke="#109a55" stroke-width="1.80" stroke-linejoin="round" stroke-linecap="butt"/>
<path d="M63.2 246.2 63.7 246.1 64.2 246.1 64.7 246.1 65.2 246.1 65.7 246.0 66.2 245.8 66.7 245.4 67.2 244.7 67.7 243.2 68.2 241.2 68.7 238.0 69.2 234.0 69.7 229.2 70.2 224.6 70.7 219.8 71.2 215.5 71.7 212.0 72.2 208.9 72.7 206.9 73.2 205.8 73.7 206.5 74.2 208.4 74.7 211.6 75.2 215.4 75.7 219.5 76.2 223.5 76.7 227.3 77.2 230.9 77.7 233.6 78.2 235.8 78.7 237.5 79.2 238.9 79.7 239.9 80.2 240.6 80.7 241.2 81.2 241.6 81.7 242.0 82.2 242.2 82.7 242.3 83.2 242.4 83.7 242.4 84.2 242.6 84.7 242.8 85.2 243.3 85.7 243.9 86.2 244.5 86.7 245.0 87.2 245.5 87.7 245.9 88.2 246.1 88.7 246.1 89.2 246.1 89.7 246.1 90.2 246.2 90.7 246.2 91.2 246.2 91.7 246.2 92.2 246.2 92.7 246.2 93.2 246.2 93.7 246.2 94.2 246.2 94.7 246.2 95.2 246.2 95.7 246.2 96.2 246.2 96.7 246.2 97.2 246.2 97.7 246.2 98.2 246.2 98.7 246.2 99.2 246.2 99.7 246.2 100.2 246.2 100.7 246.2 101.2 246.2 101.7 246.2 102.2 246.2 102.7 246.2 103.2 246.2 103.7 246.2 104.2 246.2 104.7 246.2 105.2 246.2 105.7 246.2 106.2 246.2 106.7 246.2 107.2 246.2 107.7 246.2 108.2 246.2 108.7 246.2 109.2 246.2 109.7 246.2 110.2 246.2 110.7 246.2 111.2 246.2 111.7 246.2 112.2 246.2 112.7 246.2 113.2 246.2 113.7 246.2" fill="none" stroke="#4db2e8" stroke-width="1.80" stroke-linejoin="round" stroke-linecap="butt"/>
<path d="M63.2 258.0 63.7 258.0 64.2 258.0 64.7 257.9 65.2 257.8 65.7 257.7 66.2 257.5 66.7 257.2 67.2 256.7 67.7 255.7 68.2 254.2 68.7 251.7 69.2 248.5 69.7 244.8 70.2 241.2 70.7 237.4 71.2 234.2 71.7 231.7 72.2 229.7 72.7 228.5 73.2 227.8 73.7 227.4 74.2 227.8 74.7 229.0 75.2 230.4 75.7 232.5 76.2 234.9 76.7 237.6 77.2 240.6 77.7 243.4 78.2 245.5 78.7 247.1 79.2 248.5 79.7 249.6 80.2 250.5 80.7 251.2 81.2 251.9 81.7 252.4 82.2 252.9 82.7 253.4 83.2 253.8 83.7 254.2 84.2 254.5 84.7 254.7 85.2 254.8 85.7 255.0 86.2 255.1 86.7 255.3 87.2 255.5 87.7 256.0 88.2 256.6 88.7 257.0 89.2 257.3 89.7 257.6 90.2 257.9 90.7 258.0 91.2 258.0 91.7 258.0 92.2 258.0 92.7 258.0 93.2 258.0 93.7 258.0 94.2 258.0 94.7 258.0 95.2 258.0 95.7 258.0 96.2 258.0 96.7 258.0 97.2 258.0 97.7 258.0 98.2 258.0 98.7 258.0 99.2 258.0 99.7 258.0 100.2 258.0 100.7 258.0 101.2 258.0 101.7 258.0 102.2 258.0 102.7 258.0 103.2 258.0 103.7 258.0 104.2 258.0 104.7 258.0 105.2 258.0 105.7 258.0 106.2 258.0 106.7 258.0 107.2 258.0 107.7 258.0 108.2 258.0 108.7 258.0 109.2 258.0 109.7 258.0 110.2 258.0 110.7 258.0 111.2 258.0 111.7 258.0 112.2 258.0 112.7 258.0 113.2 258.0 113.7 258.0" fill="none" stroke="#0b5dab" stroke-width="1.80" stroke-linejoin="round" stroke-linecap="butt"/>
<text x="116.1" y="226.9" font-size="10.5" fill="#3a3a3a">**</text>
<text x="116.1" y="238.5" font-size="10.5" fill="#3a3a3a">***</text>
<line x1="134.4" y1="211.0" x2="190.0" y2="211.0" stroke="#e9e9e9" stroke-width="0.6"/>
<line x1="134.4" y1="222.6" x2="190.0" y2="222.6" stroke="#e9e9e9" stroke-width="0.6"/>
<line x1="134.4" y1="234.2" x2="190.0" y2="234.2" stroke="#e9e9e9" stroke-width="0.6"/>
<line x1="134.4" y1="245.8" x2="190.0" y2="245.8" stroke="#e9e9e9" stroke-width="0.6"/>
<line x1="134.4" y1="257.5" x2="190.0" y2="257.5" stroke="#e9e9e9" stroke-width="0.6"/>
<line x1="159.6" y1="162.6" x2="159.6" y2="266.0" stroke="#444" stroke-width="0.95" stroke-dasharray="2.5 2.6"/>
<path d="M137.4 211.0 137.9 211.0 138.4 211.0 138.9 211.0 139.4 211.0 139.9 211.0 140.4 211.0 140.9 211.0 141.4 211.0 141.9 211.0 142.4 211.0 142.9 211.0 143.4 211.0 143.9 211.0 144.4 211.0 144.9 211.0 145.4 211.0 145.9 211.0 146.4 211.0 146.9 211.0 147.4 211.0 147.9 211.0 148.4 211.0 148.9 211.0 149.4 211.0 149.9 211.0 150.4 211.0 150.9 211.0 151.4 210.9 151.9 210.8 152.4 210.7 152.9 210.6 153.4 210.5 153.9 210.2 154.4 209.8 154.9 209.5 155.4 209.1 155.9 208.7 156.4 208.4 156.9 208.0 157.4 207.5 157.9 206.9 158.4 206.0 158.9 204.8 159.4 203.3 159.9 201.4 160.4 198.8 160.9 195.7 161.4 192.6 161.9 189.4 162.4 185.8 162.9 182.3 163.4 179.4 163.9 177.3 164.4 175.3 164.9 173.5 165.4 172.1 165.9 171.2 166.4 171.2 166.9 172.3 167.4 173.9 167.9 175.7 168.4 177.3 168.9 179.0 169.4 180.8 169.9 182.4 170.4 183.6 170.9 184.5 171.4 185.3 171.9 186.0 172.4 186.8 172.9 187.7 173.4 188.6 173.9 189.7 174.4 190.9 174.9 192.7 175.4 195.4 175.9 198.2 176.4 200.2 176.9 201.6 177.4 202.8 177.9 203.7 178.4 204.4 178.9 205.0 179.4 205.5 179.9 205.9 180.4 206.2 180.9 206.5 181.4 206.7 181.9 207.0 182.4 207.3 182.9 207.8 183.4 208.4 183.9 209.1 184.4 209.6 184.9 210.1 185.4 210.6 185.9 210.9 186.4 211.0 186.9 211.0 187.4 211.0 187.9 211.0" fill="none" stroke="#f3e52b" stroke-width="1.80" stroke-linejoin="round" stroke-linecap="butt"/>
<path d="M137.4 222.6 137.9 222.6 138.4 222.6 138.9 222.6 139.4 222.6 139.9 222.6 140.4 222.6 140.9 222.6 141.4 222.6 141.9 222.6 142.4 222.6 142.9 222.6 143.4 222.6 143.9 222.6 144.4 222.6 144.9 222.6 145.4 222.6 145.9 222.6 146.4 222.6 146.9 222.6 147.4 222.5 147.9 222.5 148.4 222.4 148.9 222.3 149.4 222.1 149.9 221.8 150.4 221.3 150.9 220.6 151.4 219.7 151.9 218.4 152.4 216.6 152.9 214.4 153.4 211.5 153.9 208.1 154.4 204.0 154.9 199.4 155.4 194.3 155.9 189.0 156.4 183.6 156.9 178.4 157.4 173.8 157.9 169.9 158.4 167.2 158.9 165.7 159.4 165.5 159.9 166.8 160.4 169.3 160.9 172.9 161.4 177.4 161.9 182.5 162.4 187.9 162.9 193.3 163.4 198.4 163.9 203.1 164.4 207.3 164.9 210.9 165.4 213.8 165.9 216.2 166.4 218.0 166.9 219.4 167.4 220.5 167.9 221.2 168.4 221.7 168.9 222.0 169.4 222.2 169.9 222.4 170.4 222.5 170.9 222.5 171.4 222.6 171.9 222.6 172.4 222.6 172.9 222.6 173.4 222.6 173.9 222.6 174.4 222.6 174.9 222.6 175.4 222.6 175.9 222.6 176.4 222.6 176.9 222.6 177.4 222.6 177.9 222.6 178.4 222.6 178.9 222.6 179.4 222.6 179.9 222.6 180.4 222.6 180.9 222.6 181.4 222.6 181.9 222.6 182.4 222.6 182.9 222.6 183.4 222.6 183.9 222.6 184.4 222.6 184.9 222.6 185.4 222.6 185.9 222.6 186.4 222.6 186.9 222.6 187.4 222.6 187.9 222.6" fill="none" stroke="#ea322f" stroke-width="1.80" stroke-linejoin="round" stroke-linecap="butt"/>
<path d="M137.4 234.2 137.9 234.2 138.4 234.2 138.9 234.2 139.4 234.2 139.9 234.2 140.4 234.2 140.9 234.2 141.4 234.2 141.9 234.2 142.4 234.2 142.9 234.2 143.4 234.2 143.9 234.1 144.4 233.9 144.9 233.7 145.4 233.4 145.9 233.1 146.4 232.7 146.9 232.0 147.4 231.2 147.9 230.2 148.4 229.0 148.9 227.8 149.4 226.2 149.9 224.2 150.4 221.7 150.9 219.1 151.4 216.5 151.9 213.8 152.4 210.8 152.9 207.7 153.4 204.8 153.9 202.4 154.4 200.4 154.9 198.5 155.4 196.7 155.9 195.4 156.4 194.7 156.9 194.8 157.4 195.5 157.9 196.8 158.4 198.2 158.9 199.9 159.4 202.1 159.9 204.6 160.4 207.1 160.9 209.2 161.4 211.1 161.9 212.9 162.4 214.6 162.9 216.2 163.4 217.7 163.9 219.0 164.4 220.3 164.9 221.5 165.4 222.6 165.9 223.6 166.4 224.6 166.9 225.5 167.4 226.3 167.9 227.2 168.4 228.0 168.9 228.8 169.4 229.5 169.9 230.2 170.4 230.8 170.9 231.4 171.4 232.0 171.9 232.5 172.4 232.9 172.9 233.3 173.4 233.6 173.9 233.9 174.4 234.1 174.9 234.2 175.4 234.2 175.9 234.2 176.4 234.2 176.9 234.2 177.4 234.2 177.9 234.2 178.4 234.2 178.9 234.2 179.4 234.2 179.9 234.2 180.4 234.2 180.9 234.2 181.4 234.2 181.9 234.2 182.4 234.2 182.9 234.2 183.4 234.2 183.9 234.2 184.4 234.2 184.9 234.2 185.4 234.2 185.9 234.2 186.4 234.2 186.9 234.2 187.4 234.2 187.9 234.2" fill="none" stroke="#109a55" stroke-width="1.80" stroke-linejoin="round" stroke-linecap="butt"/>
<path d="M137.4 245.8 137.9 245.8 138.4 245.8 138.9 245.8 139.4 245.8 139.9 245.8 140.4 245.8 140.9 245.8 141.4 245.8 141.9 245.8 142.4 245.8 142.9 245.8 143.4 245.7 143.9 245.7 144.4 245.7 144.9 245.7 145.4 245.7 145.9 245.6 146.4 245.3 146.9 244.9 147.4 244.6 147.9 244.2 148.4 243.6 148.9 243.0 149.4 242.5 149.9 242.3 150.4 242.3 150.9 242.5 151.4 242.6 151.9 242.8 152.4 242.9 152.9 243.0 153.4 242.8 153.9 242.2 154.4 241.2 154.9 239.0 155.4 234.6 155.9 229.9 156.4 226.5 156.9 223.7 157.4 221.6 157.9 220.5 158.4 219.9 158.9 219.6 159.4 219.2 159.9 218.6 160.4 217.6 160.9 216.1 161.4 214.3 161.9 212.4 162.4 210.1 162.9 208.0 163.4 206.9 163.9 207.3 164.4 208.8 164.9 210.6 165.4 213.0 165.9 215.9 166.4 217.4 166.9 218.2 167.4 218.8 167.9 219.4 168.4 219.9 168.9 220.4 169.4 221.2 169.9 223.0 170.4 225.5 170.9 228.3 171.4 232.2 171.9 236.3 172.4 239.8 172.9 242.7 173.4 244.1 173.9 245.0 174.4 245.4 174.9 245.7 175.4 245.8 175.9 245.8 176.4 245.8 176.9 245.8 177.4 245.8 177.9 245.8 178.4 245.8 178.9 245.8 179.4 245.8 179.9 245.8 180.4 245.8 180.9 245.8 181.4 245.8 181.9 245.8 182.4 245.8 182.9 245.8 183.4 245.8 183.9 245.8 184.4 245.8 184.9 245.8 185.4 245.8 185.9 245.8 186.4 245.8 186.9 245.8 187.4 245.8 187.9 245.8" fill="none" stroke="#4db2e8" stroke-width="1.80" stroke-linejoin="round" stroke-linecap="butt"/>
<path d="M137.4 257.5 137.9 257.5 138.4 257.3 138.9 257.0 139.4 256.6 139.9 256.1 140.4 255.5 140.9 254.8 141.4 254.0 141.9 253.0 142.4 252.0 142.9 250.7 143.4 249.3 143.9 247.7 144.4 246.0 144.9 243.9 145.4 241.5 145.9 238.4 146.4 234.4 146.9 229.9 147.4 224.5 147.9 217.8 148.4 211.9 148.9 207.6 149.4 203.7 149.9 201.6 150.4 202.1 150.9 204.0 151.4 206.5 151.9 209.1 152.4 212.2 152.9 215.8 153.4 219.7 153.9 223.9 154.4 228.9 154.9 234.1 155.4 238.6 155.9 242.7 156.4 245.7 156.9 247.9 157.4 249.7 157.9 251.0 158.4 252.1 158.9 253.0 159.4 253.8 159.9 254.6 160.4 255.3 160.9 255.9 161.4 256.4 161.9 256.8 162.4 257.1 162.9 257.3 163.4 257.4 163.9 257.4 164.4 257.5 164.9 257.5 165.4 257.5 165.9 257.5 166.4 257.5 166.9 257.5 167.4 257.5 167.9 257.5 168.4 257.5 168.9 257.5 169.4 257.5 169.9 257.5 170.4 257.5 170.9 257.5 171.4 257.5 171.9 257.5 172.4 257.5 172.9 257.5 173.4 257.5 173.9 257.5 174.4 257.5 174.9 257.5 175.4 257.5 175.9 257.5 176.4 257.5 176.9 257.5 177.4 257.5 177.9 257.5 178.4 257.5 178.9 257.5 179.4 257.5 179.9 257.5 180.4 257.5 180.9 257.5 181.4 257.5 181.9 257.5 182.4 257.5 182.9 257.5 183.4 257.5 183.9 257.5 184.4 257.5 184.9 257.5 185.4 257.5 185.9 257.5 186.4 257.5 186.9 257.5 187.4 257.5 187.9 257.5" fill="none" stroke="#0b5dab" stroke-width="1.80" stroke-linejoin="round" stroke-linecap="butt"/>
<text x="189.5" y="215.2" font-size="10.5" fill="#3a3a3a">***</text>
<text x="189.5" y="226.8" font-size="10.5" fill="#3a3a3a">**</text>
<text x="189.5" y="238.4" font-size="10.5" fill="#3a3a3a">***</text>
<text x="189.5" y="250.0" font-size="10.5" fill="#3a3a3a">***</text>
<line x1="212.5" y1="211.8" x2="269.6" y2="211.8" stroke="#e9e9e9" stroke-width="0.6"/>
<line x1="212.5" y1="223.3" x2="269.6" y2="223.3" stroke="#e9e9e9" stroke-width="0.6"/>
<line x1="212.5" y1="234.9" x2="269.6" y2="234.9" stroke="#e9e9e9" stroke-width="0.6"/>
<line x1="212.5" y1="246.4" x2="269.6" y2="246.4" stroke="#e9e9e9" stroke-width="0.6"/>
<line x1="212.5" y1="258.1" x2="269.6" y2="258.1" stroke="#e9e9e9" stroke-width="0.6"/>
<line x1="227.5" y1="162.6" x2="227.5" y2="266.0" stroke="#444" stroke-width="0.95" stroke-dasharray="2.5 2.6"/>
<path d="M215.5 211.7 216.0 211.7 216.5 211.7 217.0 211.7 217.5 211.6 218.0 211.4 218.5 211.0 219.0 210.4 219.5 209.4 220.0 207.9 220.5 205.7 221.0 202.6 221.5 198.5 222.0 193.5 222.5 187.7 223.0 181.4 223.5 175.2 224.0 169.7 224.5 165.5 225.0 163.1 225.5 162.9 226.0 164.1 226.5 166.5 227.0 170.0 227.5 174.3 228.0 179.1 228.5 184.0 229.0 188.8 229.5 193.4 230.0 197.4 230.5 200.8 231.0 203.7 231.5 206.0 232.0 207.7 232.5 209.0 233.0 209.9 233.5 210.6 234.0 211.0 234.5 211.3 235.0 211.5 235.5 211.6 236.0 211.7 236.5 211.7 237.0 211.7 237.5 211.7 238.0 211.7 238.5 211.7 239.0 211.7 239.5 211.7 240.0 211.7 240.5 211.7 241.0 211.7 241.5 211.7 242.0 211.7 242.5 211.7 243.0 211.7 243.5 211.7 244.0 211.7 244.5 211.7 245.0 211.7 245.5 211.7 246.0 211.7 246.5 211.7 247.0 211.7 247.5 211.7 248.0 211.7 248.5 211.7 249.0 211.7 249.5 211.7 250.0 211.7 250.5 211.7 251.0 211.8 251.5 211.8 252.0 211.8 252.5 211.8 253.0 211.8 253.5 211.8 254.0 211.8 254.5 211.8 255.0 211.8 255.5 211.8 256.0 211.8 256.5 211.8 257.0 211.8 257.5 211.8 258.0 211.8 258.5 211.8 259.0 211.8 259.5 211.8 260.0 211.8 260.5 211.8 261.0 211.8 261.5 211.8 262.0 211.8 262.5 211.8 263.0 211.8 263.5 211.8 264.0 211.8 264.5 211.8 265.0 211.8 265.5 211.8 266.0 211.8 266.5 211.8 267.0 211.8 267.5 211.8" fill="none" stroke="#f3e52b" stroke-width="1.80" stroke-linejoin="round" stroke-linecap="butt"/>
<path d="M215.5 223.3 216.0 223.3 216.5 223.3 217.0 223.3 217.5 223.3 218.0 223.3 218.5 223.3 219.0 223.3 219.5 223.3 220.0 223.2 220.5 223.2 221.0 223.1 221.5 222.8 222.0 221.8 222.5 220.4 223.0 217.3 223.5 211.8 224.0 205.4 224.5 197.5 225.0 188.3 225.5 180.4 226.0 172.5 226.5 166.6 227.0 165.6 227.5 168.2 228.0 172.1 228.5 176.0 229.0 180.5 229.5 185.5 230.0 190.4 230.5 194.6 231.0 198.3 231.5 201.7 232.0 204.9 232.5 208.1 233.0 211.2 233.5 213.8 234.0 216.2 234.5 218.3 235.0 219.9 235.5 221.2 236.0 222.2 236.5 222.8 237.0 223.1 237.5 223.3 238.0 223.3 238.5 223.3 239.0 223.3 239.5 223.3 240.0 223.3 240.5 223.3 241.0 223.3 241.5 223.3 242.0 223.3 242.5 223.3 243.0 223.3 243.5 223.3 244.0 223.3 244.5 223.3 245.0 223.3 245.5 223.3 246.0 223.3 246.5 223.3 247.0 223.3 247.5 223.3 248.0 223.3 248.5 223.3 249.0 223.3 249.5 223.3 250.0 223.3 250.5 223.3 251.0 223.3 251.5 223.3 252.0 223.3 252.5 223.3 253.0 223.3 253.5 223.3 254.0 223.3 254.5 223.3 255.0 223.3 255.5 223.3 256.0 223.3 256.5 223.3 257.0 223.3 257.5 223.3 258.0 223.3 258.5 223.3 259.0 223.3 259.5 223.3 260.0 223.3 260.5 223.3 261.0 223.3 261.5 223.3 262.0 223.3 262.5 223.3 263.0 223.3 263.5 223.3 264.0 223.3 264.5 223.3 265.0 223.3 265.5 223.3 266.0 223.3 266.5 223.3 267.0 223.3 267.5 223.3" fill="none" stroke="#ea322f" stroke-width="1.80" stroke-linejoin="round" stroke-linecap="butt"/>
<path d="M215.5 234.9 216.0 234.9 216.5 234.9 217.0 234.8 217.5 234.7 218.0 234.2 218.5 233.0 219.0 231.7 219.5 230.0 220.0 228.1 220.5 226.0 221.0 223.9 221.5 221.6 222.0 219.4 222.5 217.4 223.0 215.5 223.5 213.6 224.0 211.8 224.5 210.5 225.0 209.9 225.5 209.9 226.0 209.9 226.5 209.8 227.0 209.8 227.5 209.8 228.0 209.6 228.5 209.3 229.0 209.1 229.5 209.0 230.0 209.2 230.5 210.2 231.0 211.6 231.5 212.9 232.0 214.5 232.5 216.3 233.0 218.2 233.5 219.9 234.0 221.5 234.5 222.9 235.0 224.2 235.5 225.4 236.0 226.7 236.5 228.0 237.0 228.9 237.5 229.4 238.0 229.6 238.5 229.8 239.0 229.9 239.5 229.9 240.0 229.9 240.5 229.7 241.0 229.5 241.5 229.5 242.0 229.7 242.5 230.4 243.0 231.2 243.5 231.9 244.0 232.5 244.5 233.1 245.0 233.6 245.5 234.0 246.0 234.2 246.5 234.4 247.0 234.5 247.5 234.6 248.0 234.7 248.5 234.7 249.0 234.8 249.5 234.8 250.0 234.8 250.5 234.8 251.0 234.8 251.5 234.8 252.0 234.8 252.5 234.8 253.0 234.8 253.5 234.8 254.0 234.8 254.5 234.8 255.0 234.8 255.5 234.8 256.0 234.8 256.5 234.8 257.0 234.8 257.5 234.8 258.0 234.8 258.5 234.7 259.0 234.7 259.5 234.7 260.0 234.6 260.5 234.5 261.0 234.4 261.5 234.3 262.0 234.0 262.5 233.7 263.0 233.5 263.5 233.6 264.0 233.7 264.5 233.9 265.0 234.0 265.5 234.2 266.0 234.4 266.5 234.6 267.0 234.8 267.5 234.9" fill="none" stroke="#109a55" stroke-width="1.80" stroke-linejoin="round" stroke-linecap="butt"/>
<path d="M215.5 246.4 216.0 246.4 216.5 246.4 217.0 246.4 217.5 246.3 218.0 246.2 218.5 245.9 219.0 245.3 219.5 244.2 220.0 242.3 220.5 238.4 221.0 233.7 221.5 229.1 222.0 224.2 222.5 219.2 223.0 213.8 223.5 208.6 224.0 204.4 224.5 200.9 225.0 198.7 225.5 197.6 226.0 198.6 226.5 200.8 227.0 203.7 227.5 206.6 228.0 210.3 228.5 214.4 229.0 218.7 229.5 222.7 230.0 226.3 230.5 229.7 231.0 232.9 231.5 235.6 232.0 238.1 232.5 240.0 233.0 240.9 233.5 241.4 234.0 241.6 234.5 241.8 235.0 241.8 235.5 241.9 236.0 242.5 236.5 243.4 237.0 244.3 237.5 245.2 238.0 245.8 238.5 246.1 239.0 246.2 239.5 246.4 240.0 246.4 240.5 246.4 241.0 246.4 241.5 246.4 242.0 246.4 242.5 246.4 243.0 246.4 243.5 246.4 244.0 246.4 244.5 246.4 245.0 246.4 245.5 246.4 246.0 246.4 246.5 246.4 247.0 246.4 247.5 246.4 248.0 246.4 248.5 246.4 249.0 246.4 249.5 246.4 250.0 246.4 250.5 246.4 251.0 246.4 251.5 246.4 252.0 246.4 252.5 246.4 253.0 246.4 253.5 246.4 254.0 246.4 254.5 246.4 255.0 246.4 255.5 246.4 256.0 246.4 256.5 246.4 257.0 246.4 257.5 246.4 258.0 246.4 258.5 246.4 259.0 246.4 259.5 246.4 260.0 246.4 260.5 246.4 261.0 246.4 261.5 246.4 262.0 246.4 262.5 246.4 263.0 246.4 263.5 246.4 264.0 246.4 264.5 246.4 265.0 246.4 265.5 246.4 266.0 246.4 266.5 246.4 267.0 246.4 267.5 246.4" fill="none" stroke="#4db2e8" stroke-width="1.80" stroke-linejoin="round" stroke-linecap="butt"/>
<path d="M215.5 258.1 216.0 258.0 216.5 258.0 217.0 257.9 217.5 257.8 218.0 257.4 218.5 256.9 219.0 256.2 219.5 255.6 220.0 254.8 220.5 253.8 221.0 252.2 221.5 250.2 222.0 247.9 222.5 245.4 223.0 242.8 223.5 240.1 224.0 237.4 224.5 234.8 225.0 232.2 225.5 229.6 226.0 227.4 226.5 226.2 227.0 225.3 227.5 224.8 228.0 224.4 228.5 224.1 229.0 224.1 229.5 225.0 230.0 226.5 230.5 228.3 231.0 230.3 231.5 233.1 232.0 236.3 232.5 239.4 233.0 241.8 233.5 244.0 234.0 245.9 234.5 247.6 235.0 249.3 235.5 250.7 236.0 251.5 236.5 252.2 237.0 252.7 237.5 253.1 238.0 253.4 238.5 253.7 239.0 253.9 239.5 254.2 240.0 254.8 240.5 255.7 241.0 256.4 241.5 257.0 242.0 257.5 242.5 257.8 243.0 257.9 243.5 258.0 244.0 258.0 244.5 258.0 245.0 258.1 245.5 258.1 246.0 258.1 246.5 258.1 247.0 258.1 247.5 258.1 248.0 258.1 248.5 258.1 249.0 258.1 249.5 258.1 250.0 258.1 250.5 258.1 251.0 258.1 251.5 258.1 252.0 258.1 252.5 258.1 253.0 258.1 253.5 258.1 254.0 258.1 254.5 258.1 255.0 258.1 255.5 258.1 256.0 258.1 256.5 258.1 257.0 258.1 257.5 258.1 258.0 258.1 258.5 258.1 259.0 258.1 259.5 258.1 260.0 258.1 260.5 258.1 261.0 258.1 261.5 258.1 262.0 258.1 262.5 258.1 263.0 258.1 263.5 258.1 264.0 258.1 264.5 258.1 265.0 258.1 265.5 258.1 266.0 258.1 266.5 258.1 267.0 258.1 267.5 258.1" fill="none" stroke="#0b5dab" stroke-width="1.80" stroke-linejoin="round" stroke-linecap="butt"/>
<text x="269.6" y="215.9" font-size="10.5" fill="#3a3a3a">***</text>
<text x="269.6" y="250.6" font-size="10.5" fill="#3a3a3a">*</text>
<line x1="290.0" y1="211.0" x2="346.7" y2="211.0" stroke="#e9e9e9" stroke-width="0.6"/>
<line x1="290.0" y1="222.4" x2="346.7" y2="222.4" stroke="#e9e9e9" stroke-width="0.6"/>
<line x1="290.0" y1="234.0" x2="346.7" y2="234.0" stroke="#e9e9e9" stroke-width="0.6"/>
<line x1="290.0" y1="246.0" x2="346.7" y2="246.0" stroke="#e9e9e9" stroke-width="0.6"/>
<line x1="290.0" y1="258.0" x2="346.7" y2="258.0" stroke="#e9e9e9" stroke-width="0.6"/>
<line x1="314.5" y1="162.6" x2="314.5" y2="266.0" stroke="#444" stroke-width="0.95" stroke-dasharray="2.5 2.6"/>
<path d="M293.0 211.0 293.5 211.0 294.0 211.0 294.5 211.0 295.0 211.0 295.5 211.0 296.0 211.0 296.5 211.0 297.0 211.0 297.5 211.0 298.0 211.0 298.5 211.0 299.0 211.0 299.5 211.0 300.0 211.0 300.5 211.0 301.0 211.0 301.5 211.0 302.0 211.0 302.5 211.0 303.0 211.0 303.5 211.0 304.0 211.0 304.5 211.0 305.0 211.0 305.5 211.0 306.0 211.0 306.5 211.0 307.0 210.8 307.5 210.4 308.0 209.8 308.5 209.0 309.0 208.3 309.5 207.5 310.0 206.5 310.5 205.3 311.0 204.1 311.5 202.7 312.0 201.3 312.5 199.7 313.0 197.8 313.5 195.8 314.0 193.8 314.5 191.6 315.0 189.3 315.5 187.2 316.0 185.3 316.5 183.5 317.0 181.9 317.5 180.5 318.0 179.3 318.5 178.2 319.0 177.1 319.5 176.3 320.0 176.0 320.5 176.2 321.0 176.6 321.5 177.1 322.0 178.0 322.5 179.0 323.0 179.0 323.5 178.5 324.0 177.7 324.5 176.8 325.0 175.7 325.5 174.3 326.0 173.1 326.5 172.4 327.0 171.8 327.5 171.5 328.0 171.5 328.5 172.4 329.0 173.9 329.5 175.5 330.0 177.8 330.5 180.6 331.0 183.5 331.5 186.0 332.0 188.5 332.5 190.9 333.0 193.2 333.5 195.5 334.0 197.5 334.5 199.4 335.0 201.0 335.5 202.5 336.0 203.8 336.5 204.9 337.0 205.9 337.5 206.8 338.0 207.5 338.5 208.1 339.0 208.7 339.5 209.2 340.0 209.6 340.5 209.9 341.0 210.3 341.5 210.6 342.0 210.8 342.5 211.0 343.0 211.0 343.5 211.0 344.0 211.0 344.5 211.0" fill="none" stroke="#f3e52b" stroke-width="1.80" stroke-linejoin="round" stroke-linecap="butt"/>
<path d="M293.0 222.4 293.5 222.4 294.0 222.4 294.5 222.4 295.0 222.4 295.5 222.4 296.0 222.4 296.5 222.4 297.0 222.4 297.5 222.4 298.0 222.4 298.5 222.4 299.0 222.4 299.5 222.4 300.0 222.4 300.5 222.4 301.0 222.4 301.5 222.4 302.0 222.4 302.5 222.4 303.0 222.4 303.5 222.4 304.0 222.4 304.5 222.4 305.0 222.4 305.5 222.4 306.0 222.4 306.5 222.4 307.0 222.4 307.5 222.4 308.0 222.4 308.5 222.2 309.0 221.7 309.5 220.9 310.0 219.9 310.5 218.8 311.0 217.2 311.5 215.0 312.0 212.4 312.5 210.0 313.0 207.9 313.5 205.9 314.0 204.0 314.5 202.1 315.0 200.1 315.5 198.1 316.0 196.1 316.5 193.7 317.0 190.8 317.5 187.4 318.0 183.8 318.5 180.3 319.0 177.0 319.5 173.8 320.0 170.8 320.5 168.3 321.0 166.1 321.5 164.1 322.0 163.3 322.5 164.1 323.0 166.0 323.5 168.3 324.0 171.0 324.5 174.5 325.0 178.3 325.5 182.6 326.0 187.4 326.5 192.4 327.0 197.5 327.5 200.9 328.0 203.1 328.5 204.9 329.0 206.4 329.5 207.8 330.0 209.0 330.5 210.0 331.0 210.6 331.5 211.3 332.0 212.2 332.5 213.2 333.0 214.5 333.5 215.9 334.0 217.3 334.5 218.4 335.0 219.4 335.5 220.2 336.0 220.8 336.5 221.3 337.0 221.7 337.5 222.0 338.0 222.2 338.5 222.4 339.0 222.4 339.5 222.4 340.0 222.4 340.5 222.4 341.0 222.4 341.5 222.4 342.0 222.4 342.5 222.4 343.0 222.4 343.5 222.4 344.0 222.4 344.5 222.4" fill="none" stroke="#ea322f" stroke-width="1.80" stroke-linejoin="round" stroke-linecap="butt"/>
<path d="M293.0 234.0 293.5 234.0 294.0 234.0 294.5 234.0 295.0 234.0 295.5 233.9 296.0 233.9 296.5 233.9 297.0 233.8 297.5 233.8 298.0 233.5 298.5 233.1 299.0 232.5 299.5 231.8 300.0 231.1 300.5 230.3 301.0 229.4 301.5 228.2 302.0 226.8 302.5 225.4 303.0 224.0 303.5 222.9 304.0 221.9 304.5 221.0 305.0 220.2 305.5 219.3 306.0 218.6 306.5 217.8 307.0 217.1 307.5 216.5 308.0 215.9 308.5 215.3 309.0 214.7 309.5 213.9 310.0 212.8 310.5 211.5 311.0 209.9 311.5 208.2 312.0 206.7 312.5 205.3 313.0 204.0 313.5 202.6 314.0 201.3 314.5 200.3 315.0 199.6 315.5 199.5 316.0 199.8 316.5 200.2 317.0 200.7 317.5 201.3 318.0 202.1 318.5 203.3 319.0 204.4 319.5 205.1 320.0 205.5 320.5 205.8 321.0 206.0 321.5 206.0 322.0 205.7 322.5 205.4 323.0 205.1 323.5 204.9 324.0 204.7 324.5 204.5 325.0 204.7 325.5 205.8 326.0 207.3 326.5 209.0 327.0 211.4 327.5 214.2 328.0 216.8 328.5 219.3 329.0 221.7 329.5 223.9 330.0 225.9 330.5 227.9 331.0 229.4 331.5 230.3 332.0 230.9 332.5 231.4 333.0 231.6 333.5 231.6 334.0 231.5 334.5 231.5 335.0 231.5 335.5 231.6 336.0 231.7 336.5 231.8 337.0 232.0 337.5 232.1 338.0 232.4 338.5 232.6 339.0 232.8 339.5 233.0 340.0 233.2 340.5 233.4 341.0 233.6 341.5 233.7 342.0 233.8 342.5 233.9 343.0 234.0 343.5 234.0 344.0 234.0 344.5 234.0" fill="none" stroke="#109a55" stroke-width="1.80" stroke-linejoin="round" stroke-linecap="butt"/>
<path d="M293.0 246.0 293.5 246.0 294.0 246.0 294.5 246.0 295.0 246.0 295.5 246.0 296.0 246.0 296.5 246.0 297.0 245.9 297.5 245.9 298.0 245.9 298.5 245.8 299.0 245.6 299.5 245.4 300.0 245.1 300.5 244.8 301.0 244.4 301.5 243.9 302.0 243.3 302.5 242.4 303.0 241.1 303.5 239.5 304.0 237.8 304.5 236.1 305.0 234.2 305.5 232.1 306.0 230.0 306.5 228.0 307.0 226.1 307.5 224.2 308.0 222.2 308.5 220.3 309.0 218.3 309.5 216.2 310.0 214.2 310.5 212.2 311.0 210.1 311.5 208.0 312.0 206.2 312.5 204.7 313.0 203.8 313.5 203.0 314.0 202.5 314.5 202.2 315.0 201.9 315.5 201.9 316.0 202.2 316.5 202.6 317.0 203.3 317.5 204.6 318.0 206.2 318.5 207.9 319.0 209.5 319.5 211.2 320.0 212.9 320.5 214.6 321.0 216.3 321.5 217.9 322.0 219.5 322.5 221.2 323.0 222.8 323.5 224.4 324.0 226.0 324.5 227.6 325.0 229.2 325.5 230.8 326.0 232.4 326.5 234.1 327.0 235.9 327.5 237.8 328.0 239.5 328.5 241.1 329.0 242.7 329.5 243.9 330.0 244.7 330.5 245.3 331.0 245.6 331.5 245.9 332.0 246.0 332.5 246.0 333.0 246.0 333.5 246.0 334.0 246.0 334.5 246.0 335.0 246.0 335.5 246.0 336.0 246.0 336.5 246.0 337.0 246.0 337.5 246.0 338.0 246.0 338.5 246.0 339.0 246.0 339.5 246.0 340.0 246.0 340.5 246.0 341.0 246.0 341.5 246.0 342.0 246.0 342.5 246.0 343.0 246.0 343.5 246.0 344.0 246.0 344.5 246.0" fill="none" stroke="#4db2e8" stroke-width="1.80" stroke-linejoin="round" stroke-linecap="butt"/>
<path d="M293.0 258.0 293.5 257.9 294.0 257.8 294.5 257.7 295.0 257.5 295.5 257.3 296.0 257.0 296.5 256.6 297.0 256.1 297.5 255.4 298.0 254.4 298.5 253.2 299.0 251.8 299.5 250.2 300.0 248.3 300.5 246.0 301.0 243.1 301.5 239.8 302.0 236.3 302.5 232.5 303.0 228.4 303.5 224.9 304.0 221.9 304.5 219.1 305.0 216.7 305.5 214.8 306.0 213.2 306.5 211.9 307.0 211.0 307.5 210.9 308.0 211.4 308.5 212.3 309.0 213.1 309.5 214.1 310.0 215.0 310.5 215.8 311.0 216.4 311.5 216.9 312.0 217.5 312.5 218.1 313.0 218.8 313.5 219.5 314.0 220.3 314.5 221.1 315.0 222.1 315.5 223.3 316.0 224.8 316.5 227.2 317.0 230.3 317.5 234.5 318.0 238.8 318.5 242.0 319.0 244.8 319.5 247.3 320.0 249.6 320.5 251.4 321.0 252.9 321.5 254.1 322.0 255.1 322.5 255.8 323.0 256.4 323.5 256.9 324.0 257.2 324.5 257.5 325.0 257.7 325.5 257.8 326.0 258.0 326.5 258.0 327.0 258.0 327.5 258.0 328.0 258.0 328.5 258.0 329.0 258.0 329.5 258.0 330.0 258.0 330.5 258.0 331.0 258.0 331.5 258.0 332.0 258.0 332.5 258.0 333.0 258.0 333.5 258.0 334.0 258.0 334.5 258.0 335.0 258.0 335.5 258.0 336.0 258.0 336.5 258.0 337.0 258.0 337.5 258.0 338.0 258.0 338.5 258.0 339.0 258.0 339.5 258.0 340.0 258.0 340.5 258.0 341.0 258.0 341.5 258.0 342.0 258.0 342.5 258.0 343.0 258.0 343.5 258.0 344.0 258.0 344.5 258.0" fill="none" stroke="#0b5dab" stroke-width="1.80" stroke-linejoin="round" stroke-linecap="butt"/>
<text x="346.5" y="215.2" font-size="10.5" fill="#3a3a3a">***</text>
<text x="346.5" y="226.6" font-size="10.5" fill="#3a3a3a">***</text>
<text x="346.5" y="238.2" font-size="10.5" fill="#3a3a3a">***</text>
<text x="346.5" y="250.2" font-size="10.5" fill="#3a3a3a">***</text>
<line x1="437.7" y1="205.3" x2="501.0" y2="205.3" stroke="#e9e9e9" stroke-width="0.6"/>
<line x1="437.7" y1="214.0" x2="501.0" y2="214.0" stroke="#e9e9e9" stroke-width="0.6"/>
<line x1="437.7" y1="222.3" x2="501.0" y2="222.3" stroke="#e9e9e9" stroke-width="0.6"/>
<line x1="437.7" y1="231.0" x2="501.0" y2="231.0" stroke="#e9e9e9" stroke-width="0.6"/>
<line x1="437.7" y1="239.6" x2="501.0" y2="239.6" stroke="#e9e9e9" stroke-width="0.6"/>
<line x1="437.7" y1="248.3" x2="501.0" y2="248.3" stroke="#e9e9e9" stroke-width="0.6"/>
<line x1="437.7" y1="256.9" x2="501.0" y2="256.9" stroke="#e9e9e9" stroke-width="0.6"/>
<line x1="452.5" y1="167.8" x2="452.5" y2="262.3" stroke="#444" stroke-width="0.95" stroke-dasharray="2.5 2.6"/>
<path d="M440.7 205.3 441.2 205.3 441.7 205.3 442.2 205.3 442.7 205.3 443.2 205.3 443.7 205.3 444.2 205.3 444.7 205.3 445.2 205.3 445.7 205.3 446.2 205.3 446.7 205.3 447.2 205.3 447.7 205.3 448.2 205.3 448.7 205.3 449.2 205.3 449.7 205.3 450.2 205.3 450.7 205.3 451.2 205.3 451.7 205.3 452.2 205.3 452.7 205.3 453.2 205.3 453.7 205.3 454.2 205.3 454.7 205.3 455.2 205.3 455.7 205.3 456.2 205.3 456.7 205.3 457.2 205.3 457.7 205.3 458.2 205.3 458.7 205.3 459.2 205.3 459.7 205.3 460.2 205.3 460.7 205.3 461.2 205.3 461.7 205.3 462.2 205.3 462.7 205.3 463.2 205.3 463.7 205.3 464.2 205.3 464.7 205.3 465.2 204.9 465.7 204.1 466.2 203.0 466.7 201.8 467.2 200.5 467.7 198.7 468.2 196.5 468.7 194.2 469.2 191.8 469.7 189.8 470.2 188.0 470.7 186.4 471.2 184.9 471.7 183.4 472.2 182.1 472.7 180.8 473.2 179.3 473.7 177.6 474.2 175.5 474.7 173.5 475.2 171.8 475.7 170.0 476.2 168.4 476.7 167.8 477.2 168.5 477.7 170.1 478.2 172.1 478.7 174.2 479.2 176.9 479.7 179.8 480.2 182.5 480.7 185.1 481.2 187.6 481.7 189.9 482.2 192.1 482.7 194.2 483.2 196.2 483.7 198.0 484.2 199.6 484.7 201.0 485.2 202.1 485.7 202.8 486.2 203.4 486.7 203.9 487.2 204.3 487.7 204.6 488.2 204.9 488.7 205.1 489.2 205.2 489.7 205.3 490.2 205.3 490.7 205.3 491.2 205.3 491.7 205.3 492.2 205.3 492.7 205.3 493.2 205.3 493.7 205.3 494.2 205.3 494.7 205.3 495.2 205.3 495.7 205.3 496.2 205.3 496.7 205.3 497.2 205.3 497.7 205.3 498.2 205.3 498.7 205.3" fill="none" stroke="#e8951d" stroke-width="1.80" stroke-linejoin="round" stroke-linecap="butt"/>
<path d="M440.7 214.0 441.2 214.0 441.7 214.0 442.2 214.0 442.7 214.0 443.2 214.0 443.7 214.0 444.2 214.0 444.7 214.0 445.2 214.0 445.7 214.0 446.2 214.0 446.7 214.0 447.2 214.0 447.7 214.0 448.2 214.0 448.7 214.0 449.2 214.0 449.7 214.0 450.2 214.0 450.7 214.0 451.2 214.0 451.7 214.0 452.2 213.7 452.7 213.4 453.2 213.0 453.7 212.7 454.2 212.4 454.7 212.1 455.2 211.8 455.7 211.6 456.2 211.6 456.7 211.8 457.2 212.0 457.7 212.2 458.2 212.2 458.7 212.0 459.2 211.9 459.7 211.8 460.2 211.7 460.7 211.7 461.2 211.6 461.7 211.6 462.2 211.5 462.7 211.3 463.2 211.1 463.7 210.8 464.2 210.5 464.7 210.1 465.2 209.5 465.7 208.5 466.2 207.4 466.7 206.2 467.2 205.0 467.7 203.7 468.2 202.3 468.7 200.8 469.2 199.1 469.7 197.0 470.2 194.8 470.7 192.7 471.2 190.7 471.7 188.7 472.2 186.6 472.7 185.0 473.2 184.2 473.7 184.7 474.2 186.2 474.7 188.3 475.2 190.3 475.7 192.8 476.2 195.5 476.7 198.0 477.2 200.3 477.7 202.5 478.2 204.4 478.7 206.2 479.2 207.9 479.7 209.4 480.2 210.2 480.7 210.5 481.2 210.7 481.7 210.8 482.2 210.6 482.7 209.8 483.2 208.9 483.7 208.2 484.2 207.5 484.7 206.7 485.2 206.0 485.7 205.5 486.2 205.3 486.7 205.6 487.2 206.5 487.7 207.5 488.2 208.4 488.7 209.4 489.2 210.4 489.7 211.0 490.2 211.3 490.7 211.6 491.2 211.7 491.7 211.8 492.2 211.9 492.7 211.9 493.2 212.0 493.7 212.1 494.2 212.4 494.7 212.6 495.2 212.9 495.7 213.2 496.2 213.4 496.7 213.6 497.2 213.8 497.7 213.9 498.2 214.0 498.7 214.0" fill="none" stroke="#8e8e8e" stroke-width="1.80" stroke-linejoin="round" stroke-linecap="butt"/>
<path d="M440.7 222.3 441.2 222.3 441.7 222.3 442.2 222.3 442.7 222.3 443.2 222.3 443.7 222.3 444.2 222.3 444.7 222.3 445.2 222.3 445.7 222.3 446.2 222.3 446.7 222.3 447.2 222.3 447.7 222.3 448.2 222.3 448.7 222.3 449.2 222.3 449.7 222.3 450.2 222.3 450.7 222.3 451.2 222.3 451.7 222.3 452.2 222.3 452.7 222.3 453.2 221.9 453.7 221.4 454.2 220.6 454.7 219.6 455.2 218.0 455.7 216.6 456.2 216.1 456.7 215.8 457.2 215.6 457.7 215.5 458.2 215.5 458.7 215.3 459.2 214.2 459.7 212.3 460.2 210.0 460.7 206.9 461.2 203.3 461.7 199.3 462.2 194.8 462.7 190.7 463.2 187.0 463.7 183.2 464.2 181.2 464.7 181.9 465.2 184.2 465.7 186.4 466.2 189.0 466.7 190.3 467.2 190.2 467.7 190.0 468.2 189.8 468.7 189.5 469.2 189.7 469.7 192.4 470.2 196.0 470.7 199.8 471.2 204.2 471.7 208.3 472.2 212.1 472.7 215.5 473.2 218.4 473.7 219.9 474.2 220.9 474.7 221.5 475.2 222.0 475.7 222.3 476.2 222.3 476.7 222.3 477.2 222.3 477.7 222.3 478.2 222.3 478.7 222.3 479.2 222.3 479.7 222.3 480.2 222.3 480.7 222.3 481.2 222.3 481.7 222.3 482.2 222.3 482.7 222.3 483.2 222.3 483.7 222.3 484.2 222.3 484.7 222.3 485.2 222.3 485.7 222.3 486.2 222.3 486.7 222.3 487.2 222.3 487.7 222.3 488.2 222.3 488.7 222.3 489.2 222.3 489.7 222.3 490.2 222.3 490.7 222.3 491.2 222.3 491.7 222.3 492.2 222.3 492.7 222.3 493.2 222.3 493.7 222.3 494.2 222.3 494.7 222.3 495.2 222.3 495.7 222.3 496.2 222.3 496.7 222.3 497.2 222.3 497.7 222.3 498.2 222.3 498.7 222.3" fill="none" stroke="#ea322f" stroke-width="1.80" stroke-linejoin="round" stroke-linecap="butt"/>
<path d="M440.7 231.0 441.2 231.0 441.7 230.9 442.2 230.8 442.7 230.8 443.2 230.7 443.7 230.6 444.2 230.4 444.7 230.3 445.2 230.1 445.7 229.9 446.2 229.7 446.7 229.4 447.2 229.2 447.7 229.0 448.2 228.8 448.7 228.6 449.2 228.4 449.7 228.1 450.2 227.9 450.7 227.7 451.2 227.4 451.7 227.1 452.2 226.8 452.7 226.4 453.2 225.9 453.7 225.3 454.2 224.6 454.7 223.9 455.2 223.2 455.7 222.4 456.2 221.6 456.7 220.7 457.2 219.8 457.7 218.8 458.2 217.7 458.7 216.4 459.2 215.0 459.7 213.7 460.2 212.5 460.7 211.0 461.2 209.6 461.7 208.7 462.2 208.6 462.7 209.1 463.2 209.9 463.7 210.7 464.2 211.7 464.7 212.0 465.2 211.8 465.7 211.6 466.2 211.3 466.7 210.9 467.2 210.6 467.7 210.3 468.2 210.2 468.7 210.6 469.2 211.3 469.7 212.1 470.2 212.8 470.7 213.6 471.2 214.6 471.7 215.6 472.2 216.6 472.7 217.6 473.2 218.5 473.7 219.5 474.2 220.5 474.7 221.5 475.2 222.5 475.7 223.6 476.2 224.6 476.7 225.7 477.2 226.8 477.7 227.7 478.2 228.5 478.7 229.3 479.2 229.9 479.7 230.3 480.2 230.6 480.7 230.8 481.2 230.9 481.7 231.0 482.2 231.0 482.7 231.0 483.2 231.0 483.7 231.0 484.2 231.0 484.7 231.0 485.2 231.0 485.7 231.0 486.2 231.0 486.7 231.0 487.2 231.0 487.7 231.0 488.2 231.0 488.7 231.0 489.2 231.0 489.7 231.0 490.2 231.0 490.7 231.0 491.2 231.0 491.7 231.0 492.2 231.0 492.7 231.0 493.2 231.0 493.7 231.0 494.2 231.0 494.7 231.0 495.2 231.0 495.7 231.0 496.2 231.0 496.7 231.0 497.2 231.0 497.7 231.0 498.2 231.0 498.7 231.0" fill="none" stroke="#109a55" stroke-width="1.80" stroke-linejoin="round" stroke-linecap="butt"/>
<path d="M440.7 239.6 441.2 239.6 441.7 239.6 442.2 239.6 442.7 239.6 443.2 239.6 443.7 239.6 444.2 239.6 444.7 239.6 445.2 239.6 445.7 239.6 446.2 239.6 446.7 239.6 447.2 239.6 447.7 239.6 448.2 239.6 448.7 239.6 449.2 239.6 449.7 239.6 450.2 239.6 450.7 239.6 451.2 239.6 451.7 239.4 452.2 239.2 452.7 239.0 453.2 238.7 453.7 238.4 454.2 238.0 454.7 237.5 455.2 237.0 455.7 236.4 456.2 235.7 456.7 234.8 457.2 233.8 457.7 232.6 458.2 231.3 458.7 229.8 459.2 228.1 459.7 226.3 460.2 224.4 460.7 222.4 461.2 220.4 461.7 218.3 462.2 216.1 462.7 213.8 463.2 211.5 463.7 209.0 464.2 206.3 464.7 203.4 465.2 201.0 465.7 198.9 466.2 197.1 466.7 196.3 467.2 198.0 467.7 201.4 468.2 204.6 468.7 208.2 469.2 211.5 469.7 214.6 470.2 217.5 470.7 220.4 471.2 223.0 471.7 224.5 472.2 225.5 472.7 226.2 473.2 226.7 473.7 227.1 474.2 227.9 474.7 229.1 475.2 230.7 475.7 232.4 476.2 234.4 476.7 236.0 477.2 237.0 477.7 237.8 478.2 238.4 478.7 238.8 479.2 239.2 479.7 239.5 480.2 239.6 480.7 239.6 481.2 239.6 481.7 239.6 482.2 239.6 482.7 239.6 483.2 239.6 483.7 239.6 484.2 239.6 484.7 239.6 485.2 239.6 485.7 239.6 486.2 239.6 486.7 239.6 487.2 239.6 487.7 239.6 488.2 239.6 488.7 239.6 489.2 239.6 489.7 239.6 490.2 239.6 490.7 239.6 491.2 239.6 491.7 239.6 492.2 239.6 492.7 239.6 493.2 239.6 493.7 239.6 494.2 239.6 494.7 239.6 495.2 239.6 495.7 239.6 496.2 239.6 496.7 239.6 497.2 239.6 497.7 239.6 498.2 239.6 498.7 239.6" fill="none" stroke="#4db2e8" stroke-width="1.80" stroke-linejoin="round" stroke-linecap="butt"/>
<path d="M440.7 248.3 441.2 248.2 441.7 248.2 442.2 248.1 442.7 248.0 443.2 247.9 443.7 247.9 444.2 247.8 444.7 247.6 445.2 247.5 445.7 247.5 446.2 247.4 446.7 247.4 447.2 247.4 447.7 247.5 448.2 247.6 448.7 247.6 449.2 247.6 449.7 247.4 450.2 246.9 450.7 246.4 451.2 245.8 451.7 245.3 452.2 244.6 452.7 243.9 453.2 243.1 453.7 242.2 454.2 241.3 454.7 240.3 455.2 239.2 455.7 238.1 456.2 236.8 456.7 235.4 457.2 234.0 457.7 232.4 458.2 230.6 458.7 228.8 459.2 226.7 459.7 224.4 460.2 222.5 460.7 220.9 461.2 219.5 461.7 218.8 462.2 218.5 462.7 218.3 463.2 218.2 463.7 218.2 464.2 218.2 464.7 218.3 465.2 218.4 465.7 218.7 466.2 220.1 466.7 222.1 467.2 224.5 467.7 227.6 468.2 230.1 468.7 232.3 469.2 234.4 469.7 236.2 470.2 237.8 470.7 239.3 471.2 240.6 471.7 241.7 472.2 242.6 472.7 243.5 473.2 244.1 473.7 244.7 474.2 245.2 474.7 245.6 475.2 246.0 475.7 246.4 476.2 246.7 476.7 247.1 477.2 247.4 477.7 247.7 478.2 248.0 478.7 248.2 479.2 248.3 479.7 248.3 480.2 248.3 480.7 248.3 481.2 248.3 481.7 248.3 482.2 248.3 482.7 248.3 483.2 248.3 483.7 248.3 484.2 248.3 484.7 248.3 485.2 248.3 485.7 248.3 486.2 248.3 486.7 248.3 487.2 248.3 487.7 248.3 488.2 248.3 488.7 248.3 489.2 248.3 489.7 248.3 490.2 248.3 490.7 248.3 491.2 248.3 491.7 248.3 492.2 248.3 492.7 248.3 493.2 248.3 493.7 248.3 494.2 248.3 494.7 248.3 495.2 248.3 495.7 248.3 496.2 248.3 496.7 248.3 497.2 248.3 497.7 248.3 498.2 248.3 498.7 248.3" fill="none" stroke="#f3e52b" stroke-width="1.80" stroke-linejoin="round" stroke-linecap="butt"/>
<path d="M440.7 256.9 441.2 256.9 441.7 256.9 442.2 256.8 442.7 256.6 443.2 256.4 443.7 256.1 444.2 255.6 444.7 255.1 445.2 254.6 445.7 254.0 446.2 253.3 446.7 252.6 447.2 251.7 447.7 250.6 448.2 249.2 448.7 247.5 449.2 245.6 449.7 243.6 450.2 241.0 450.7 238.2 451.2 236.0 451.7 234.8 452.2 234.0 452.7 233.5 453.2 233.2 453.7 232.9 454.2 232.6 454.7 232.1 455.2 231.7 455.7 231.2 456.2 230.8 456.7 230.3 457.2 229.8 457.7 229.4 458.2 229.0 458.7 228.7 459.2 228.8 459.7 229.5 460.2 230.6 460.7 231.8 461.2 233.0 461.7 234.5 462.2 236.2 462.7 238.1 463.2 239.8 463.7 241.4 464.2 242.9 464.7 244.3 465.2 245.7 465.7 247.0 466.2 248.4 466.7 249.7 467.2 250.9 467.7 251.8 468.2 252.7 468.7 253.4 469.2 254.0 469.7 254.5 470.2 255.0 470.7 255.3 471.2 255.6 471.7 255.9 472.2 256.2 472.7 256.3 473.2 256.5 473.7 256.6 474.2 256.7 474.7 256.8 475.2 256.8 475.7 256.9 476.2 256.9 476.7 256.9 477.2 256.9 477.7 256.9 478.2 256.9 478.7 256.9 479.2 256.9 479.7 256.9 480.2 256.9 480.7 256.9 481.2 256.9 481.7 256.9 482.2 256.9 482.7 256.9 483.2 256.9 483.7 256.9 484.2 256.9 484.7 256.9 485.2 256.9 485.7 256.9 486.2 256.9 486.7 256.9 487.2 256.9 487.7 256.9 488.2 256.9 488.7 256.9 489.2 256.9 489.7 256.9 490.2 256.9 490.7 256.9 491.2 256.9 491.7 256.9 492.2 256.9 492.7 256.9 493.2 256.9 493.7 256.9 494.2 256.9 494.7 256.9 495.2 256.9 495.7 256.9 496.2 256.9 496.7 256.9 497.2 256.9 497.7 256.9 498.2 256.9 498.7 256.9" fill="none" stroke="#0b5dab" stroke-width="1.80" stroke-linejoin="round" stroke-linecap="butt"/>
<text x="501.8" y="208.6" font-size="10.5" fill="#3a3a3a">***</text>
<text x="501.8" y="217.3" font-size="10.5" fill="#3a3a3a">***</text>
<text x="501.8" y="225.6" font-size="10.5" fill="#3a3a3a">*</text>
<text x="501.8" y="234.3" font-size="10.5" fill="#3a3a3a">***</text>
<text x="501.8" y="242.9" font-size="10.5" fill="#3a3a3a">***</text>
<text x="501.8" y="251.6" font-size="10.5" fill="#3a3a3a">**</text>
<text x="59.0" y="214.0" font-size="8.65" text-anchor="end">GPNMB<tspan font-size="4.5" dy="-2.7" dx="0.2">+</tspan><tspan dy="2.7" dx="-0.4"> M&#934;</tspan></text>
<text x="59.0" y="225.6" font-size="8.65" text-anchor="end">FABP4<tspan font-size="4.5" dy="-2.7" dx="0.2">+</tspan><tspan dy="2.7" dx="-0.4"> M&#934;</tspan></text>
<text x="59.0" y="237.2" font-size="8.65" text-anchor="end">CCL3<tspan font-size="4.5" dy="-2.7" dx="0.2">+</tspan><tspan dy="2.7" dx="-0.4"> M&#934;</tspan></text>
<text x="59.0" y="248.8" font-size="8.65" text-anchor="end">APOE<tspan font-size="4.5" dy="-2.7" dx="0.2">low</tspan><tspan dy="2.7" dx="-0.4"> M&#934;</tspan></text>
<text x="59.0" y="260.5" font-size="8.65" text-anchor="end">Mo</text>
<text x="435.3" y="208.2" font-size="8.65" text-anchor="end">cDC2</text>
<text x="435.3" y="216.9" font-size="8.65" text-anchor="end">cDC1</text>
<text x="435.3" y="225.2" font-size="8.65" text-anchor="end">FABP4<tspan font-size="4.5" dy="-2.7" dx="0.2">+</tspan><tspan dy="2.7" dx="-0.4"> M&#934;</tspan></text>
<text x="435.3" y="233.9" font-size="8.65" text-anchor="end">CCL3<tspan font-size="4.5" dy="-2.7" dx="0.2">+</tspan><tspan dy="2.7" dx="-0.4"> M&#934;</tspan></text>
<text x="435.3" y="242.5" font-size="8.65" text-anchor="end">APOE<tspan font-size="4.5" dy="-2.7" dx="0.2">low</tspan><tspan dy="2.7" dx="-0.4"> M&#934;</tspan></text>
<text x="435.3" y="251.2" font-size="8.65" text-anchor="end">GPNMB<tspan font-size="4.5" dy="-2.7" dx="0.2">+</tspan><tspan dy="2.7" dx="-0.4"> M&#934;</tspan></text>
<text x="435.3" y="259.8" font-size="8.65" text-anchor="end">Mo</text>
<text x="62.1" y="273.5" font-size="8.4" text-anchor="middle" fill="#2a2a2a">&#8722;1</text>
<text x="78.9" y="273.5" font-size="8.4" text-anchor="middle" fill="#2a2a2a">0</text>
<text x="94.4" y="273.5" font-size="8.4" text-anchor="middle" fill="#2a2a2a">1</text>
<text x="110.3" y="273.5" font-size="8.4" text-anchor="middle" fill="#2a2a2a">2</text>
<text x="138.6" y="273.5" font-size="8.4" text-anchor="middle" fill="#2a2a2a">&#8722;1</text>
<text x="159.6" y="273.5" font-size="8.4" text-anchor="middle" fill="#2a2a2a">0</text>
<text x="179.5" y="273.5" font-size="8.4" text-anchor="middle" fill="#2a2a2a">1</text>
<text x="228.0" y="273.5" font-size="8.4" text-anchor="middle" fill="#2a2a2a">0</text>
<text x="252.4" y="273.5" font-size="8.4" text-anchor="middle" fill="#2a2a2a">1</text>
<text x="314.5" y="273.5" font-size="8.4" text-anchor="middle" fill="#2a2a2a">0.0</text>
<text x="338.0" y="273.5" font-size="8.4" text-anchor="middle" fill="#2a2a2a">0.5</text>
<text x="452.2" y="273.5" font-size="8.4" text-anchor="middle" fill="#2a2a2a">0</text>
<text x="468.9" y="273.5" font-size="8.4" text-anchor="middle" fill="#2a2a2a">1</text>
<text x="485.0" y="273.5" font-size="8.4" text-anchor="middle" fill="#2a2a2a">2</text>
<text x="0.5" y="297.8" font-size="10.6" font-weight="bold">D</text>
<rect x="32.4" y="306.1" width="55.8" height="96.1" fill="#fff"/>
<line x1="32.4" y1="383.4" x2="88.2" y2="383.4" stroke="#f3f3f3" stroke-width="0.4"/>
<line x1="32.4" y1="363.1" x2="88.2" y2="363.1" stroke="#f3f3f3" stroke-width="0.4"/>
<line x1="32.4" y1="342.8" x2="88.2" y2="342.8" stroke="#f3f3f3" stroke-width="0.4"/>
<line x1="32.4" y1="322.5" x2="88.2" y2="322.5" stroke="#f3f3f3" stroke-width="0.4"/>
<line x1="32.4" y1="393.6" x2="88.2" y2="393.6" stroke="#ececec" stroke-width="0.6"/>
<line x1="32.4" y1="373.3" x2="88.2" y2="373.3" stroke="#ececec" stroke-width="0.6"/>
<line x1="32.4" y1="353.0" x2="88.2" y2="353.0" stroke="#ececec" stroke-width="0.6"/>
<line x1="32.4" y1="332.6" x2="88.2" y2="332.6" stroke="#ececec" stroke-width="0.6"/>
<line x1="32.4" y1="312.3" x2="88.2" y2="312.3" stroke="#ececec" stroke-width="0.6"/>
<line x1="42.8" y1="306.1" x2="42.8" y2="402.2" stroke="#e9e9e9" stroke-width="0.6"/>
<line x1="60.4" y1="306.1" x2="60.4" y2="402.2" stroke="#e9e9e9" stroke-width="0.6"/>
<line x1="78.5" y1="306.1" x2="78.5" y2="402.2" stroke="#e9e9e9" stroke-width="0.6"/>
<rect x="34.60" y="392.79" width="8.2" height="0.81" fill="#7a449f"/>
<path d="M38.70 391.16 V394.82 M37.90 391.16 H39.50 M37.90 394.82 H39.50" stroke="#1c1c1c" stroke-width="0.7" fill="none"/>
<rect x="42.80" y="374.09" width="8.2" height="19.51" fill="#7e8486"/>
<path d="M46.90 360.51 V387.18 M46.10 360.51 H47.70 M46.10 387.18 H47.70" stroke="#1c1c1c" stroke-width="0.7" fill="none"/>
<text x="42.5" y="362.8" font-size="10.5" text-anchor="middle" fill="#3a3a3a">**</text>
<rect x="52.20" y="378.80" width="8.2" height="14.80" fill="#7a449f"/>
<path d="M56.30 366.45 V390.75 M55.50 366.45 H57.10 M55.50 390.75 H57.10" stroke="#1c1c1c" stroke-width="0.7" fill="none"/>
<rect x="60.40" y="365.71" width="8.2" height="27.89" fill="#7e8486"/>
<path d="M64.50 350.92 V380.75 M63.70 350.92 H65.30 M63.70 380.75 H65.30" stroke="#1c1c1c" stroke-width="0.7" fill="none"/>
<rect x="70.30" y="378.80" width="8.2" height="14.80" fill="#7a449f"/>
<path d="M74.40 369.29 V387.91 M73.60 369.29 H75.20 M73.60 387.91 H75.20" stroke="#1c1c1c" stroke-width="0.7" fill="none"/>
<rect x="78.50" y="354.98" width="8.2" height="38.62" fill="#7e8486"/>
<path d="M82.60 332.38 V376.93 M81.80 332.38 H83.40 M81.80 376.93 H83.40" stroke="#1c1c1c" stroke-width="0.7" fill="none"/>
<rect x="32.4" y="306.1" width="55.8" height="96.1" fill="none" stroke="#9c9c9c" stroke-width="0.75"/>
<rect x="32.4" y="296.6" width="55.8" height="9.5" fill="#d9d9d9" stroke="#9c9c9c" stroke-width="0.75"/>
<text x="60.8" y="304.7" font-size="8.85" text-anchor="middle" fill="#1f1f1f">CD40</text>
<line x1="42.8" y1="402.2" x2="42.8" y2="404" stroke="#444" stroke-width="0.5"/>
<text x="42.8" y="411.9" font-size="8.8" text-anchor="middle" fill="#1f1f1f">Mo</text>
<line x1="60.4" y1="402.2" x2="60.4" y2="404" stroke="#444" stroke-width="0.5"/>
<text x="60.4" y="411.9" font-size="8.8" text-anchor="middle" fill="#1f1f1f">Mq</text>
<line x1="78.5" y1="402.2" x2="78.5" y2="404" stroke="#444" stroke-width="0.5"/>
<text x="78.5" y="411.9" font-size="8.8" text-anchor="middle" fill="#1f1f1f">cDC</text>
<rect x="92.4" y="306.1" width="55.8" height="96.1" fill="#fff"/>
<line x1="92.4" y1="383.4" x2="148.2" y2="383.4" stroke="#f3f3f3" stroke-width="0.4"/>
<line x1="92.4" y1="363.1" x2="148.2" y2="363.1" stroke="#f3f3f3" stroke-width="0.4"/>
<line x1="92.4" y1="342.8" x2="148.2" y2="342.8" stroke="#f3f3f3" stroke-width="0.4"/>
<line x1="92.4" y1="322.5" x2="148.2" y2="322.5" stroke="#f3f3f3" stroke-width="0.4"/>
<line x1="92.4" y1="393.6" x2="148.2" y2="393.6" stroke="#ececec" stroke-width="0.6"/>
<line x1="92.4" y1="373.3" x2="148.2" y2="373.3" stroke="#ececec" stroke-width="0.6"/>
<line x1="92.4" y1="353.0" x2="148.2" y2="353.0" stroke="#ececec" stroke-width="0.6"/>
<line x1="92.4" y1="332.6" x2="148.2" y2="332.6" stroke="#ececec" stroke-width="0.6"/>
<line x1="92.4" y1="312.3" x2="148.2" y2="312.3" stroke="#ececec" stroke-width="0.6"/>
<line x1="102.8" y1="306.1" x2="102.8" y2="402.2" stroke="#e9e9e9" stroke-width="0.6"/>
<line x1="120.4" y1="306.1" x2="120.4" y2="402.2" stroke="#e9e9e9" stroke-width="0.6"/>
<line x1="138.5" y1="306.1" x2="138.5" y2="402.2" stroke="#e9e9e9" stroke-width="0.6"/>
<line x1="97.80" y1="393.60" x2="99.60" y2="393.60" stroke="#666" stroke-width="0.5"/>
<rect x="102.80" y="393.19" width="8.2" height="0.70" fill="#7e8486"/>
<path d="M106.90 391.81 V394.41 M106.10 391.81 H107.70 M106.10 394.41 H107.70" stroke="#1c1c1c" stroke-width="0.7" fill="none"/>
<line x1="115.40" y1="393.60" x2="117.20" y2="393.60" stroke="#666" stroke-width="0.5"/>
<rect x="120.40" y="392.14" width="8.2" height="1.46" fill="#7e8486"/>
<path d="M124.50 389.78 V393.76 M123.70 389.78 H125.30 M123.70 393.76 H125.30" stroke="#1c1c1c" stroke-width="0.7" fill="none"/>
<text x="120.4" y="391.3" font-size="10.5" text-anchor="middle" fill="#3a3a3a">*</text>
<rect x="130.30" y="392.79" width="8.2" height="0.81" fill="#7a449f"/>
<path d="M134.40 390.59 V395.23 M133.60 390.59 H135.20 M133.60 395.23 H135.20" stroke="#1c1c1c" stroke-width="0.7" fill="none"/>
<rect x="138.50" y="386.69" width="8.2" height="6.91" fill="#7e8486"/>
<path d="M142.60 378.15 V395.47 M141.80 378.15 H143.40 M141.80 395.47 H143.40" stroke="#1c1c1c" stroke-width="0.7" fill="none"/>
<rect x="92.4" y="306.1" width="55.8" height="96.1" fill="none" stroke="#9c9c9c" stroke-width="0.75"/>
<rect x="92.4" y="296.6" width="55.8" height="9.5" fill="#d9d9d9" stroke="#9c9c9c" stroke-width="0.75"/>
<text x="120.8" y="304.7" font-size="8.85" text-anchor="middle" fill="#1f1f1f">CD70</text>
<line x1="102.8" y1="402.2" x2="102.8" y2="404" stroke="#444" stroke-width="0.5"/>
<text x="102.8" y="411.9" font-size="8.8" text-anchor="middle" fill="#1f1f1f">Mo</text>
<line x1="120.4" y1="402.2" x2="120.4" y2="404" stroke="#444" stroke-width="0.5"/>
<text x="120.4" y="411.9" font-size="8.8" text-anchor="middle" fill="#1f1f1f">Mq</text>
<line x1="138.5" y1="402.2" x2="138.5" y2="404" stroke="#444" stroke-width="0.5"/>
<text x="138.5" y="411.9" font-size="8.8" text-anchor="middle" fill="#1f1f1f">cDC</text>
<rect x="152.4" y="306.1" width="55.8" height="96.1" fill="#fff"/>
<line x1="152.4" y1="383.4" x2="208.2" y2="383.4" stroke="#f3f3f3" stroke-width="0.4"/>
<line x1="152.4" y1="363.1" x2="208.2" y2="363.1" stroke="#f3f3f3" stroke-width="0.4"/>
<line x1="152.4" y1="342.8" x2="208.2" y2="342.8" stroke="#f3f3f3" stroke-width="0.4"/>
<line x1="152.4" y1="322.5" x2="208.2" y2="322.5" stroke="#f3f3f3" stroke-width="0.4"/>
<line x1="152.4" y1="393.6" x2="208.2" y2="393.6" stroke="#ececec" stroke-width="0.6"/>
<line x1="152.4" y1="373.3" x2="208.2" y2="373.3" stroke="#ececec" stroke-width="0.6"/>
<line x1="152.4" y1="353.0" x2="208.2" y2="353.0" stroke="#ececec" stroke-width="0.6"/>
<line x1="152.4" y1="332.6" x2="208.2" y2="332.6" stroke="#ececec" stroke-width="0.6"/>
<line x1="152.4" y1="312.3" x2="208.2" y2="312.3" stroke="#ececec" stroke-width="0.6"/>
<line x1="162.8" y1="306.1" x2="162.8" y2="402.2" stroke="#e9e9e9" stroke-width="0.6"/>
<line x1="180.4" y1="306.1" x2="180.4" y2="402.2" stroke="#e9e9e9" stroke-width="0.6"/>
<line x1="198.5" y1="306.1" x2="198.5" y2="402.2" stroke="#e9e9e9" stroke-width="0.6"/>
<line x1="157.80" y1="393.60" x2="159.60" y2="393.60" stroke="#666" stroke-width="0.5"/>
<rect x="162.80" y="387.67" width="8.2" height="5.93" fill="#7e8486"/>
<path d="M166.90 381.65 V393.11 M166.10 381.65 H167.70 M166.10 393.11 H167.70" stroke="#1c1c1c" stroke-width="0.7" fill="none"/>
<text x="162.5" y="383.9" font-size="10.5" text-anchor="middle" fill="#3a3a3a">**</text>
<rect x="172.20" y="390.27" width="8.2" height="3.33" fill="#7a449f"/>
<path d="M176.30 384.74 V395.06 M175.50 384.74 H177.10 M175.50 395.06 H177.10" stroke="#1c1c1c" stroke-width="0.7" fill="none"/>
<rect x="180.40" y="373.60" width="8.2" height="20.00" fill="#7e8486"/>
<path d="M184.50 359.29 V388.32 M183.70 359.29 H185.30 M183.70 388.32 H185.30" stroke="#1c1c1c" stroke-width="0.7" fill="none"/>
<text x="180.4" y="362.7" font-size="10.5" text-anchor="middle" fill="#3a3a3a">*</text>
<rect x="190.30" y="391.00" width="8.2" height="2.60" fill="#7a449f"/>
<path d="M194.40 387.18 V394.33 M193.60 387.18 H195.20 M193.60 394.33 H195.20" stroke="#1c1c1c" stroke-width="0.7" fill="none"/>
<rect x="198.50" y="377.83" width="8.2" height="15.77" fill="#7e8486"/>
<path d="M202.60 364.01 V391.24 M201.80 364.01 H203.40 M201.80 391.24 H203.40" stroke="#1c1c1c" stroke-width="0.7" fill="none"/>
<rect x="152.4" y="306.1" width="55.8" height="96.1" fill="none" stroke="#9c9c9c" stroke-width="0.75"/>
<rect x="152.4" y="296.6" width="55.8" height="9.5" fill="#d9d9d9" stroke="#9c9c9c" stroke-width="0.75"/>
<text x="180.8" y="304.7" font-size="8.85" text-anchor="middle" fill="#1f1f1f">CD80</text>
<line x1="162.8" y1="402.2" x2="162.8" y2="404" stroke="#444" stroke-width="0.5"/>
<text x="162.8" y="411.9" font-size="8.8" text-anchor="middle" fill="#1f1f1f">Mo</text>
<line x1="180.4" y1="402.2" x2="180.4" y2="404" stroke="#444" stroke-width="0.5"/>
<text x="180.4" y="411.9" font-size="8.8" text-anchor="middle" fill="#1f1f1f">Mq</text>
<line x1="198.5" y1="402.2" x2="198.5" y2="404" stroke="#444" stroke-width="0.5"/>
<text x="198.5" y="411.9" font-size="8.8" text-anchor="middle" fill="#1f1f1f">cDC</text>
<rect x="212.4" y="306.1" width="55.8" height="96.1" fill="#fff"/>
<line x1="212.4" y1="383.4" x2="268.2" y2="383.4" stroke="#f3f3f3" stroke-width="0.4"/>
<line x1="212.4" y1="363.1" x2="268.2" y2="363.1" stroke="#f3f3f3" stroke-width="0.4"/>
<line x1="212.4" y1="342.8" x2="268.2" y2="342.8" stroke="#f3f3f3" stroke-width="0.4"/>
<line x1="212.4" y1="322.5" x2="268.2" y2="322.5" stroke="#f3f3f3" stroke-width="0.4"/>
<line x1="212.4" y1="393.6" x2="268.2" y2="393.6" stroke="#ececec" stroke-width="0.6"/>
<line x1="212.4" y1="373.3" x2="268.2" y2="373.3" stroke="#ececec" stroke-width="0.6"/>
<line x1="212.4" y1="353.0" x2="268.2" y2="353.0" stroke="#ececec" stroke-width="0.6"/>
<line x1="212.4" y1="332.6" x2="268.2" y2="332.6" stroke="#ececec" stroke-width="0.6"/>
<line x1="212.4" y1="312.3" x2="268.2" y2="312.3" stroke="#ececec" stroke-width="0.6"/>
<line x1="222.8" y1="306.1" x2="222.8" y2="402.2" stroke="#e9e9e9" stroke-width="0.6"/>
<line x1="240.4" y1="306.1" x2="240.4" y2="402.2" stroke="#e9e9e9" stroke-width="0.6"/>
<line x1="258.5" y1="306.1" x2="258.5" y2="402.2" stroke="#e9e9e9" stroke-width="0.6"/>
<rect x="214.60" y="377.18" width="8.2" height="16.42" fill="#7a449f"/>
<path d="M218.70 365.23 V389.05 M217.90 365.23 H219.50 M217.90 389.05 H219.50" stroke="#1c1c1c" stroke-width="0.7" fill="none"/>
<rect x="222.80" y="326.85" width="8.2" height="66.75" fill="#7e8486"/>
<path d="M226.90 312.06 V341.89 M226.10 312.06 H227.70 M226.10 341.89 H227.70" stroke="#1c1c1c" stroke-width="0.7" fill="none"/>
<text x="222.5" y="315.5" font-size="10.5" text-anchor="middle" fill="#3a3a3a">**</text>
<rect x="232.20" y="366.93" width="8.2" height="26.67" fill="#7a449f"/>
<path d="M236.30 355.47 V377.67 M235.50 355.47 H237.10 M235.50 377.67 H237.10" stroke="#1c1c1c" stroke-width="0.7" fill="none"/>
<rect x="240.40" y="327.10" width="8.2" height="66.50" fill="#7e8486"/>
<path d="M244.50 314.41 V339.45 M243.70 314.41 H245.30 M243.70 339.45 H245.30" stroke="#1c1c1c" stroke-width="0.7" fill="none"/>
<text x="240.1" y="316.7" font-size="10.5" text-anchor="middle" fill="#3a3a3a">**</text>
<rect x="250.30" y="359.05" width="8.2" height="34.55" fill="#7a449f"/>
<path d="M254.40 334.74 V383.11 M253.60 334.74 H255.20 M253.60 383.11 H255.20" stroke="#1c1c1c" stroke-width="0.7" fill="none"/>
<rect x="258.50" y="322.06" width="8.2" height="71.54" fill="#7e8486"/>
<path d="M262.60 310.84 V332.30 M261.80 310.84 H263.40 M261.80 332.30 H263.40" stroke="#1c1c1c" stroke-width="0.7" fill="none"/>
<text x="258.2" y="314.3" font-size="10.5" text-anchor="middle" fill="#3a3a3a">**</text>
<rect x="212.4" y="306.1" width="55.8" height="96.1" fill="none" stroke="#9c9c9c" stroke-width="0.75"/>
<rect x="212.4" y="296.6" width="55.8" height="9.5" fill="#d9d9d9" stroke="#9c9c9c" stroke-width="0.75"/>
<text x="240.8" y="304.7" font-size="8.85" text-anchor="middle" fill="#1f1f1f">CD83</text>
<line x1="222.8" y1="402.2" x2="222.8" y2="404" stroke="#444" stroke-width="0.5"/>
<text x="222.8" y="411.9" font-size="8.8" text-anchor="middle" fill="#1f1f1f">Mo</text>
<line x1="240.4" y1="402.2" x2="240.4" y2="404" stroke="#444" stroke-width="0.5"/>
<text x="240.4" y="411.9" font-size="8.8" text-anchor="middle" fill="#1f1f1f">Mq</text>
<line x1="258.5" y1="402.2" x2="258.5" y2="404" stroke="#444" stroke-width="0.5"/>
<text x="258.5" y="411.9" font-size="8.8" text-anchor="middle" fill="#1f1f1f">cDC</text>
<rect x="272.4" y="306.1" width="55.8" height="96.1" fill="#fff"/>
<line x1="272.4" y1="383.4" x2="328.2" y2="383.4" stroke="#f3f3f3" stroke-width="0.4"/>
<line x1="272.4" y1="363.1" x2="328.2" y2="363.1" stroke="#f3f3f3" stroke-width="0.4"/>
<line x1="272.4" y1="342.8" x2="328.2" y2="342.8" stroke="#f3f3f3" stroke-width="0.4"/>
<line x1="272.4" y1="322.5" x2="328.2" y2="322.5" stroke="#f3f3f3" stroke-width="0.4"/>
<line x1="272.4" y1="393.6" x2="328.2" y2="393.6" stroke="#ececec" stroke-width="0.6"/>
<line x1="272.4" y1="373.3" x2="328.2" y2="373.3" stroke="#ececec" stroke-width="0.6"/>
<line x1="272.4" y1="353.0" x2="328.2" y2="353.0" stroke="#ececec" stroke-width="0.6"/>
<line x1="272.4" y1="332.6" x2="328.2" y2="332.6" stroke="#ececec" stroke-width="0.6"/>
<line x1="272.4" y1="312.3" x2="328.2" y2="312.3" stroke="#ececec" stroke-width="0.6"/>
<line x1="282.8" y1="306.1" x2="282.8" y2="402.2" stroke="#e9e9e9" stroke-width="0.6"/>
<line x1="300.4" y1="306.1" x2="300.4" y2="402.2" stroke="#e9e9e9" stroke-width="0.6"/>
<line x1="318.5" y1="306.1" x2="318.5" y2="402.2" stroke="#e9e9e9" stroke-width="0.6"/>
<rect x="274.60" y="358.56" width="8.2" height="35.04" fill="#7a449f"/>
<path d="M278.70 342.54 V374.09 M277.90 342.54 H279.50 M277.90 374.09 H279.50" stroke="#1c1c1c" stroke-width="0.7" fill="none"/>
<rect x="282.80" y="364.01" width="8.2" height="29.59" fill="#7e8486"/>
<path d="M286.90 350.19 V378.32 M286.10 350.19 H287.70 M286.10 378.32 H287.70" stroke="#1c1c1c" stroke-width="0.7" fill="none"/>
<rect x="292.20" y="354.98" width="8.2" height="38.62" fill="#7a449f"/>
<path d="M296.30 339.45 V370.51 M295.50 339.45 H297.10 M295.50 370.51 H297.10" stroke="#1c1c1c" stroke-width="0.7" fill="none"/>
<rect x="300.40" y="349.05" width="8.2" height="44.55" fill="#7e8486"/>
<path d="M304.50 336.36 V362.14 M303.70 336.36 H305.30 M303.70 362.14 H305.30" stroke="#1c1c1c" stroke-width="0.7" fill="none"/>
<rect x="310.30" y="359.29" width="8.2" height="34.31" fill="#7a449f"/>
<path d="M314.40 339.45 V378.32 M313.60 339.45 H315.20 M313.60 378.32 H315.20" stroke="#1c1c1c" stroke-width="0.7" fill="none"/>
<rect x="318.50" y="331.16" width="8.2" height="62.44" fill="#7e8486"/>
<path d="M322.60 319.21 V343.03 M321.80 319.21 H323.40 M321.80 343.03 H323.40" stroke="#1c1c1c" stroke-width="0.7" fill="none"/>
<text x="318.5" y="322.6" font-size="10.5" text-anchor="middle" fill="#3a3a3a">*</text>
<rect x="272.4" y="306.1" width="55.8" height="96.1" fill="none" stroke="#9c9c9c" stroke-width="0.75"/>
<rect x="272.4" y="296.6" width="55.8" height="9.5" fill="#d9d9d9" stroke="#9c9c9c" stroke-width="0.75"/>
<text x="300.8" y="304.7" font-size="8.85" text-anchor="middle" fill="#1f1f1f">CD86</text>
<line x1="282.8" y1="402.2" x2="282.8" y2="404" stroke="#444" stroke-width="0.5"/>
<text x="282.8" y="411.9" font-size="8.8" text-anchor="middle" fill="#1f1f1f">Mo</text>
<line x1="300.4" y1="402.2" x2="300.4" y2="404" stroke="#444" stroke-width="0.5"/>
<text x="300.4" y="411.9" font-size="8.8" text-anchor="middle" fill="#1f1f1f">Mq</text>
<line x1="318.5" y1="402.2" x2="318.5" y2="404" stroke="#444" stroke-width="0.5"/>
<text x="318.5" y="411.9" font-size="8.8" text-anchor="middle" fill="#1f1f1f">cDC</text>
<rect x="332.4" y="306.1" width="55.8" height="96.1" fill="#fff"/>
<line x1="332.4" y1="383.4" x2="388.2" y2="383.4" stroke="#f3f3f3" stroke-width="0.4"/>
<line x1="332.4" y1="363.1" x2="388.2" y2="363.1" stroke="#f3f3f3" stroke-width="0.4"/>
<line x1="332.4" y1="342.8" x2="388.2" y2="342.8" stroke="#f3f3f3" stroke-width="0.4"/>
<line x1="332.4" y1="322.5" x2="388.2" y2="322.5" stroke="#f3f3f3" stroke-width="0.4"/>
<line x1="332.4" y1="393.6" x2="388.2" y2="393.6" stroke="#ececec" stroke-width="0.6"/>
<line x1="332.4" y1="373.3" x2="388.2" y2="373.3" stroke="#ececec" stroke-width="0.6"/>
<line x1="332.4" y1="353.0" x2="388.2" y2="353.0" stroke="#ececec" stroke-width="0.6"/>
<line x1="332.4" y1="332.6" x2="388.2" y2="332.6" stroke="#ececec" stroke-width="0.6"/>
<line x1="332.4" y1="312.3" x2="388.2" y2="312.3" stroke="#ececec" stroke-width="0.6"/>
<line x1="342.8" y1="306.1" x2="342.8" y2="402.2" stroke="#e9e9e9" stroke-width="0.6"/>
<line x1="360.4" y1="306.1" x2="360.4" y2="402.2" stroke="#e9e9e9" stroke-width="0.6"/>
<line x1="378.5" y1="306.1" x2="378.5" y2="402.2" stroke="#e9e9e9" stroke-width="0.6"/>
<rect x="334.60" y="392.62" width="8.2" height="0.98" fill="#7a449f"/>
<path d="M338.70 389.54 V396.69 M337.90 389.54 H339.50 M337.90 396.69 H339.50" stroke="#1c1c1c" stroke-width="0.7" fill="none"/>
<rect x="342.80" y="387.67" width="8.2" height="5.93" fill="#7e8486"/>
<path d="M346.90 380.75 V393.11 M346.10 380.75 H347.70 M346.10 393.11 H347.70" stroke="#1c1c1c" stroke-width="0.7" fill="none"/>
<rect x="352.20" y="390.75" width="8.2" height="2.85" fill="#7a449f"/>
<path d="M356.30 383.11 V398.40 M355.50 383.11 H357.10 M355.50 398.40 H357.10" stroke="#1c1c1c" stroke-width="0.7" fill="none"/>
<rect x="360.40" y="379.29" width="8.2" height="14.31" fill="#7e8486"/>
<path d="M364.50 371.16 V387.18 M363.70 371.16 H365.30 M363.70 387.18 H365.30" stroke="#1c1c1c" stroke-width="0.7" fill="none"/>
<text x="360.4" y="373.9" font-size="10.5" text-anchor="middle" fill="#3a3a3a">*</text>
<rect x="370.30" y="391.97" width="8.2" height="1.63" fill="#7a449f"/>
<path d="M374.40 388.32 V395.06 M373.60 388.32 H375.20 M373.60 395.06 H375.20" stroke="#1c1c1c" stroke-width="0.7" fill="none"/>
<rect x="378.50" y="378.80" width="8.2" height="14.80" fill="#7e8486"/>
<path d="M382.60 370.51 V386.45 M381.80 370.51 H383.40 M381.80 386.45 H383.40" stroke="#1c1c1c" stroke-width="0.7" fill="none"/>
<text x="378.2" y="373.2" font-size="10.5" text-anchor="middle" fill="#3a3a3a">**</text>
<rect x="332.4" y="306.1" width="55.8" height="96.1" fill="none" stroke="#9c9c9c" stroke-width="0.75"/>
<rect x="332.4" y="296.6" width="55.8" height="9.5" fill="#d9d9d9" stroke="#9c9c9c" stroke-width="0.75"/>
<text x="360.8" y="304.7" font-size="8.85" text-anchor="middle" fill="#1f1f1f">TNFSF9</text>
<line x1="342.8" y1="402.2" x2="342.8" y2="404" stroke="#444" stroke-width="0.5"/>
<text x="342.8" y="411.9" font-size="8.8" text-anchor="middle" fill="#1f1f1f">Mo</text>
<line x1="360.4" y1="402.2" x2="360.4" y2="404" stroke="#444" stroke-width="0.5"/>
<text x="360.4" y="411.9" font-size="8.8" text-anchor="middle" fill="#1f1f1f">Mq</text>
<line x1="378.5" y1="402.2" x2="378.5" y2="404" stroke="#444" stroke-width="0.5"/>
<text x="378.5" y="411.9" font-size="8.8" text-anchor="middle" fill="#1f1f1f">cDC</text>
<line x1="30.8" y1="393.6" x2="32.4" y2="393.6" stroke="#444" stroke-width="0.6"/>
<text x="29.1" y="395.9" font-size="8.3" text-anchor="end" fill="#1f1f1f">0</text>
<line x1="30.8" y1="373.3" x2="32.4" y2="373.3" stroke="#444" stroke-width="0.6"/>
<text x="29.1" y="375.6" font-size="8.3" text-anchor="end" fill="#1f1f1f">25</text>
<line x1="30.8" y1="353.0" x2="32.4" y2="353.0" stroke="#444" stroke-width="0.6"/>
<text x="29.1" y="355.3" font-size="8.3" text-anchor="end" fill="#1f1f1f">50</text>
<line x1="30.8" y1="332.6" x2="32.4" y2="332.6" stroke="#444" stroke-width="0.6"/>
<text x="29.1" y="334.9" font-size="8.3" text-anchor="end" fill="#1f1f1f">75</text>
<line x1="30.8" y1="312.3" x2="32.4" y2="312.3" stroke="#444" stroke-width="0.6"/>
<text x="29.1" y="314.6" font-size="8.3" text-anchor="end" fill="#1f1f1f">100</text>
<text transform="translate(12.3,352.1) rotate(-90)" font-size="8.5" text-anchor="middle" fill="#1f1f1f">Mean</text>
<rect x="35.2" y="310.2" width="9.5" height="9.5" fill="#7a449f"/>
<rect x="35.2" y="320.9" width="9.5" height="9.5" fill="#7e8486"/>
<text x="48.3" y="318.5" font-size="8.75">Ewing</text>
<text x="48.3" y="329.2" font-size="8.75">NBL</text>
<text x="407.3" y="297.0" font-size="10.6" font-weight="bold">E</text>
<text x="476.2" y="303.8" font-size="8.85" text-anchor="middle" font-weight="bold">DC maturation</text>
<text x="476.4" y="317.6" font-size="10.5" text-anchor="middle" fill="#3a3a3a">***</text>
<path d="M457.9 331.2 L457.9 331.8 L457.9 332.3 L457.9 332.9 L457.9 333.5 L457.9 334.0 L457.9 334.6 L457.9 335.2 L457.9 335.7 L457.9 336.3 L457.9 336.9 L457.9 337.4 L457.9 338.0 L457.9 338.6 L457.9 339.2 L457.9 339.7 L457.9 340.3 L457.9 340.9 L457.9 341.4 L457.9 342.0 L457.9 342.6 L457.9 343.1 L457.9 343.7 L457.9 344.3 L457.9 344.8 L457.8 345.4 L457.8 346.0 L457.8 346.5 L457.8 347.1 L457.8 347.7 L457.8 348.2 L457.8 348.8 L457.8 349.4 L457.8 349.9 L457.8 350.5 L457.8 351.1 L457.8 351.7 L457.8 352.2 L457.8 352.8 L457.8 353.4 L457.8 353.9 L457.8 354.5 L457.8 355.1 L457.8 355.6 L457.8 356.2 L457.8 356.8 L457.8 357.3 L457.8 357.9 L457.8 358.5 L457.8 359.0 L457.8 359.6 L457.7 360.2 L457.7 360.7 L457.7 361.3 L457.7 361.9 L457.7 362.4 L457.7 363.0 L457.7 363.6 L457.7 364.1 L457.7 364.7 L457.7 365.3 L457.7 365.9 L457.6 366.4 L457.6 367.0 L457.6 367.6 L457.5 368.1 L457.2 368.7 L457.0 369.3 L456.7 369.8 L456.4 370.4 L456.1 371.0 L455.9 371.5 L455.6 372.1 L455.4 372.7 L455.2 373.2 L455.0 373.8 L454.7 374.4 L454.4 374.9 L454.0 375.5 L453.5 376.1 L452.9 376.6 L452.2 377.2 L451.3 377.8 L450.4 378.3 L449.6 378.9 L448.8 379.5 L448.1 380.1 L447.3 380.6 L446.6 381.2 L445.9 381.8 L445.2 382.3 L444.5 382.9 L443.8 383.5 L443.1 384.0 L442.5 384.6 L441.9 385.2 L441.3 385.7 L441.1 386.3 L441.6 386.9 L442.3 387.4 L443.2 388.0 L444.1 388.6 L445.0 389.1 L445.8 389.7 L446.7 390.3 L447.6 390.8 L448.5 391.4 L449.3 392.0 L450.2 392.6 L451.1 393.1 L451.9 393.7 L452.7 394.3 L453.4 394.8 L454.2 395.4 L454.8 396.0 L455.5 396.5 L456.1 397.1 L456.6 397.7 L457.1 398.2 L457.9 398.8 L458.5 398.8 L459.3 398.2 L459.8 397.7 L460.3 397.1 L460.9 396.5 L461.6 396.0 L462.2 395.4 L463.0 394.8 L463.7 394.3 L464.5 393.7 L465.3 393.1 L466.2 392.6 L467.1 392.0 L467.9 391.4 L468.8 390.8 L469.7 390.3 L470.6 389.7 L471.4 389.1 L472.3 388.6 L473.2 388.0 L474.1 387.4 L474.8 386.9 L475.3 386.3 L475.1 385.7 L474.5 385.2 L473.9 384.6 L473.3 384.0 L472.6 383.5 L471.9 382.9 L471.2 382.3 L470.5 381.8 L469.8 381.2 L469.1 380.6 L468.3 380.1 L467.6 379.5 L466.8 378.9 L466.0 378.3 L465.1 377.8 L464.2 377.2 L463.5 376.6 L462.9 376.1 L462.4 375.5 L462.0 374.9 L461.7 374.4 L461.4 373.8 L461.2 373.2 L461.0 372.7 L460.8 372.1 L460.5 371.5 L460.3 371.0 L460.0 370.4 L459.7 369.8 L459.4 369.3 L459.2 368.7 L458.9 368.1 L458.8 367.6 L458.8 367.0 L458.8 366.4 L458.7 365.9 L458.7 365.3 L458.7 364.7 L458.7 364.1 L458.7 363.6 L458.7 363.0 L458.7 362.4 L458.7 361.9 L458.7 361.3 L458.7 360.7 L458.7 360.2 L458.6 359.6 L458.6 359.0 L458.6 358.5 L458.6 357.9 L458.6 357.3 L458.6 356.8 L458.6 356.2 L458.6 355.6 L458.6 355.1 L458.6 354.5 L458.6 353.9 L458.6 353.4 L458.6 352.8 L458.6 352.2 L458.6 351.7 L458.6 351.1 L458.6 350.5 L458.6 349.9 L458.6 349.4 L458.6 348.8 L458.6 348.2 L458.6 347.7 L458.6 347.1 L458.6 346.5 L458.6 346.0 L458.6 345.4 L458.5 344.8 L458.5 344.3 L458.5 343.7 L458.5 343.1 L458.5 342.6 L458.5 342.0 L458.5 341.4 L458.5 340.9 L458.5 340.3 L458.5 339.7 L458.5 339.2 L458.5 338.6 L458.5 338.0 L458.5 337.4 L458.5 336.9 L458.5 336.3 L458.5 335.7 L458.5 335.2 L458.5 334.6 L458.5 334.0 L458.5 333.5 L458.5 332.9 L458.5 332.3 L458.5 331.8 L458.5 331.2Z" fill="#743f9f" stroke="#43246a" stroke-width="0.55" stroke-linejoin="round"/>
<path d="M495.6 312.8 L495.6 313.5 L495.6 314.1 L495.6 314.8 L495.5 315.5 L495.5 316.1 L495.5 316.8 L495.4 317.5 L495.4 318.1 L495.3 318.8 L495.2 319.4 L494.9 320.1 L494.7 320.8 L494.5 321.4 L494.2 322.1 L493.8 322.8 L493.3 323.4 L492.7 324.1 L492.1 324.8 L491.6 325.4 L491.0 326.1 L490.5 326.8 L489.9 327.4 L489.4 328.1 L488.9 328.8 L488.4 329.4 L487.9 330.1 L487.4 330.7 L486.9 331.4 L486.4 332.1 L486.0 332.7 L485.5 333.4 L485.0 334.1 L484.5 334.7 L484.0 335.4 L483.6 336.1 L483.1 336.7 L482.7 337.4 L482.3 338.1 L481.8 338.7 L481.4 339.4 L481.0 340.1 L480.6 340.7 L480.3 341.4 L480.1 342.0 L479.9 342.7 L479.7 343.4 L479.5 344.0 L479.3 344.7 L479.2 345.4 L479.1 346.0 L479.0 346.7 L478.9 347.4 L478.9 348.0 L478.8 348.7 L478.8 349.4 L478.8 350.0 L478.9 350.7 L479.1 351.4 L479.2 352.0 L479.4 352.7 L479.6 353.3 L479.8 354.0 L480.1 354.7 L480.3 355.3 L480.6 356.0 L480.9 356.7 L481.3 357.3 L481.7 358.0 L482.1 358.7 L482.4 359.3 L482.8 360.0 L483.2 360.7 L483.6 361.3 L484.0 362.0 L484.5 362.7 L484.9 363.3 L485.3 364.0 L485.6 364.6 L486.0 365.3 L486.3 366.0 L486.7 366.6 L487.0 367.3 L487.3 368.0 L487.6 368.6 L487.9 369.3 L488.3 370.0 L488.6 370.6 L488.9 371.3 L489.2 372.0 L489.5 372.6 L489.8 373.3 L490.1 374.0 L490.4 374.6 L490.7 375.3 L491.0 375.9 L491.3 376.6 L491.6 377.3 L491.9 377.9 L492.2 378.6 L492.5 379.3 L492.8 379.9 L493.0 380.6 L493.3 381.3 L493.5 381.9 L493.6 382.6 L493.8 383.3 L493.9 383.9 L494.0 384.6 L494.1 385.3 L494.1 385.9 L494.1 386.6 L494.2 387.2 L494.2 387.9 L494.3 388.6 L494.4 389.2 L494.6 389.9 L494.8 390.6 L495.1 391.2 L495.8 391.9 L496.4 391.9 L497.1 391.2 L497.4 390.6 L497.6 389.9 L497.8 389.2 L497.9 388.6 L498.0 387.9 L498.0 387.2 L498.1 386.6 L498.1 385.9 L498.1 385.3 L498.2 384.6 L498.3 383.9 L498.4 383.3 L498.6 382.6 L498.7 381.9 L498.9 381.3 L499.2 380.6 L499.4 379.9 L499.7 379.3 L500.0 378.6 L500.3 377.9 L500.6 377.3 L500.9 376.6 L501.2 375.9 L501.5 375.3 L501.8 374.6 L502.1 374.0 L502.4 373.3 L502.7 372.6 L503.0 372.0 L503.3 371.3 L503.6 370.6 L503.9 370.0 L504.3 369.3 L504.6 368.6 L504.9 368.0 L505.2 367.3 L505.5 366.6 L505.9 366.0 L506.2 365.3 L506.6 364.6 L506.9 364.0 L507.3 363.3 L507.7 362.7 L508.2 362.0 L508.6 361.3 L509.0 360.7 L509.4 360.0 L509.8 359.3 L510.1 358.7 L510.5 358.0 L510.9 357.3 L511.3 356.7 L511.6 356.0 L511.9 355.3 L512.1 354.7 L512.4 354.0 L512.6 353.3 L512.8 352.7 L513.0 352.0 L513.1 351.4 L513.3 350.7 L513.4 350.0 L513.4 349.4 L513.4 348.7 L513.3 348.0 L513.3 347.4 L513.2 346.7 L513.1 346.0 L513.0 345.4 L512.9 344.7 L512.7 344.0 L512.5 343.4 L512.3 342.7 L512.1 342.0 L511.9 341.4 L511.6 340.7 L511.2 340.1 L510.8 339.4 L510.4 338.7 L509.9 338.1 L509.5 337.4 L509.1 336.7 L508.6 336.1 L508.2 335.4 L507.7 334.7 L507.2 334.1 L506.7 333.4 L506.2 332.7 L505.8 332.1 L505.3 331.4 L504.8 330.7 L504.3 330.1 L503.8 329.4 L503.3 328.8 L502.8 328.1 L502.3 327.4 L501.7 326.8 L501.2 326.1 L500.6 325.4 L500.1 324.8 L499.5 324.1 L498.9 323.4 L498.4 322.8 L498.0 322.1 L497.7 321.4 L497.5 320.8 L497.3 320.1 L497.0 319.4 L496.9 318.8 L496.8 318.1 L496.8 317.5 L496.7 316.8 L496.7 316.1 L496.7 315.5 L496.6 314.8 L496.6 314.1 L496.6 313.5 L496.6 312.8Z" fill="#7d8385" stroke="#3c3f41" stroke-width="0.55" stroke-linejoin="round"/>
<line x1="458.2" y1="331.2" x2="458.2" y2="398" stroke="#43246a" stroke-width="0.8"/>
<rect x="454.3" y="381.7" width="7.8" height="8.1" fill="#fff" stroke="#43246a" stroke-width="0.5"/>
<line x1="454.3" y1="386" x2="462.1" y2="386" stroke="#777" stroke-width="0.7"/>
<line x1="496.1" y1="313.5" x2="496.1" y2="388" stroke="#54585a" stroke-width="1.0"/>
<rect x="492.0" y="341.3" width="8.0" height="19.5" fill="#fff" stroke="#54585a" stroke-width="0.5"/>
<line x1="492.0" y1="350.9" x2="500.0" y2="350.9" stroke="#999" stroke-width="0.7"/>
<path d="M435.5 308.8 V402.5 H520" fill="none" stroke="#5a5a5a" stroke-width="0.85"/>
<line x1="433.8" y1="324.8" x2="435.5" y2="324.8" stroke="#555" stroke-width="0.6"/>
<text x="432.2" y="327.1" font-size="8.2" text-anchor="end" fill="#1f1f1f">1.0</text>
<line x1="433.8" y1="347.8" x2="435.5" y2="347.8" stroke="#555" stroke-width="0.6"/>
<text x="432.2" y="350.1" font-size="8.2" text-anchor="end" fill="#1f1f1f">0.5</text>
<line x1="433.8" y1="370.9" x2="435.5" y2="370.9" stroke="#555" stroke-width="0.6"/>
<text x="432.2" y="373.2" font-size="8.2" text-anchor="end" fill="#1f1f1f">0.0</text>
<line x1="433.8" y1="394.3" x2="435.5" y2="394.3" stroke="#555" stroke-width="0.6"/>
<text x="432.2" y="396.6" font-size="8.2" text-anchor="end" fill="#1f1f1f">&#8722;0.5</text>
<line x1="458.3" y1="402.5" x2="458.3" y2="404.3" stroke="#555" stroke-width="0.6"/>
<text x="458.9" y="412.1" font-size="8.6" text-anchor="middle" fill="#1f1f1f">Ewing</text>
<line x1="496.2" y1="402.5" x2="496.2" y2="404.3" stroke="#555" stroke-width="0.6"/>
<text x="497.8" y="412.1" font-size="8.6" text-anchor="middle" fill="#1f1f1f">NBL</text>
<text x="0.5" y="438.2" font-size="10.6" font-weight="bold">F</text>
<text x="57" y="434" font-size="8.8" text-anchor="middle" font-weight="bold">STAT3</text>
<text x="124" y="434" font-size="8.8" text-anchor="middle" font-weight="bold">NFKB1</text>
<text x="55.4" y="447.8" font-size="10.5" text-anchor="middle" fill="#3a3a3a">***</text>
<text x="121.9" y="447.4" font-size="10.5" text-anchor="middle" fill="#3a3a3a">***</text>
<text transform="translate(18.4,483.4) rotate(-90)" font-size="8.7" text-anchor="middle" fill="#1f1f1f">Expression level</text>
<path d="M44.8 448.2 V526.3" stroke="#8a8a8a" stroke-width="0.9" fill="none"/><path d="M35.2 526.3 H54.5 M43.8 486.5 H45.9" stroke="#555" stroke-width="0.6" fill="none"/>
<circle cx="44.8" cy="463.4" r="0.35" fill="#444"/>
<circle cx="44.8" cy="470.9" r="0.35" fill="#444"/>
<circle cx="44.8" cy="475.9" r="0.35" fill="#444"/>
<circle cx="44.8" cy="482.2" r="0.35" fill="#444"/>
<path d="M63.9 443.2 L63.5 444.1 L63.1 445.1 L62.7 446.0 L62.3 446.9 L62.0 447.9 L61.6 448.8 L61.3 449.7 L61.0 450.7 L60.7 451.6 L60.4 452.5 L60.2 453.5 L59.9 454.4 L59.7 455.4 L59.4 456.3 L59.2 457.2 L59.0 458.2 L58.8 459.1 L58.6 460.0 L58.4 461.0 L58.3 461.9 L58.1 462.8 L58.0 463.8 L57.9 464.7 L57.9 465.6 L57.9 466.6 L58.0 467.5 L58.0 468.4 L58.1 469.4 L58.2 470.3 L58.3 471.2 L58.4 472.2 L58.4 473.1 L58.5 474.0 L58.6 475.0 L58.8 475.9 L58.9 476.9 L59.0 477.8 L59.1 478.7 L59.3 479.7 L59.5 480.6 L59.6 481.5 L59.8 482.5 L60.0 483.4 L60.2 484.3 L60.4 485.3 L60.7 486.2 L60.9 487.1 L61.1 488.1 L61.4 489.0 L61.6 489.9 L61.8 490.9 L62.1 491.8 L62.3 492.7 L62.5 493.7 L62.8 494.6 L63.0 495.6 L63.2 496.5 L63.4 497.4 L63.5 498.4 L63.6 499.3 L63.7 500.2 L63.7 501.2 L63.8 502.1 L63.8 503.0 L63.8 504.0 L63.8 504.9 L63.8 505.8 L63.8 506.8 L63.7 507.7 L63.7 508.6 L63.6 509.6 L63.3 510.5 L62.9 511.4 L62.5 512.4 L62.1 513.3 L61.6 514.2 L61.1 515.2 L60.5 516.1 L59.8 517.1 L59.2 518.0 L58.7 518.9 L58.1 519.9 L57.6 520.8 L57.2 521.7 L56.8 522.7 L56.6 523.6 L56.4 524.5 L56.3 525.5 L56.2 526.4 L75.8 526.4 L75.7 525.5 L75.6 524.5 L75.4 523.6 L75.2 522.7 L74.8 521.7 L74.4 520.8 L73.9 519.9 L73.3 518.9 L72.8 518.0 L72.2 517.1 L71.5 516.1 L70.9 515.2 L70.4 514.2 L69.9 513.3 L69.5 512.4 L69.1 511.4 L68.7 510.5 L68.4 509.6 L68.3 508.6 L68.3 507.7 L68.2 506.8 L68.2 505.8 L68.2 504.9 L68.2 504.0 L68.2 503.0 L68.2 502.1 L68.3 501.2 L68.3 500.2 L68.4 499.3 L68.5 498.4 L68.6 497.4 L68.8 496.5 L69.0 495.6 L69.2 494.6 L69.5 493.7 L69.7 492.7 L69.9 491.8 L70.2 490.9 L70.4 489.9 L70.6 489.0 L70.9 488.1 L71.1 487.1 L71.3 486.2 L71.6 485.3 L71.8 484.3 L72.0 483.4 L72.2 482.5 L72.4 481.5 L72.5 480.6 L72.7 479.7 L72.9 478.7 L73.0 477.8 L73.1 476.9 L73.2 475.9 L73.4 475.0 L73.5 474.0 L73.6 473.1 L73.6 472.2 L73.7 471.2 L73.8 470.3 L73.9 469.4 L74.0 468.4 L74.0 467.5 L74.1 466.6 L74.1 465.6 L74.1 464.7 L74.0 463.8 L73.9 462.8 L73.7 461.9 L73.6 461.0 L73.4 460.0 L73.2 459.1 L73.0 458.2 L72.8 457.2 L72.6 456.3 L72.3 455.4 L72.1 454.4 L71.8 453.5 L71.6 452.5 L71.3 451.6 L71.0 450.7 L70.7 449.7 L70.4 448.8 L70.0 447.9 L69.7 446.9 L69.3 446.0 L68.9 445.1 L68.5 444.1 L68.1 443.2Z" fill="#7e8486" stroke="#4a4d4f" stroke-width="0.45" stroke-linejoin="round"/>
<line x1="66.0" y1="443.3" x2="66.0" y2="471.5" stroke="#4a4d4f" stroke-width="0.9"/>
<rect x="64.0" y="471.5" width="4.1" height="54.4" fill="#fff" stroke="#4a4d4f" stroke-width="0.45"/>
<line x1="64.0" y1="486.5" x2="68.1" y2="486.5" stroke="#8a8a8a" stroke-width="0.7"/>
<path d="M32.5 439 V530.4 H79" fill="none" stroke="#555" stroke-width="0.7"/>
<line x1="30.6" y1="445.2" x2="32.6" y2="445.2" stroke="#555" stroke-width="0.6"/>
<text x="29.5" y="447.9" font-size="8.6" text-anchor="end" fill="#1f1f1f">3</text>
<line x1="30.6" y1="472.3" x2="32.6" y2="472.3" stroke="#555" stroke-width="0.6"/>
<text x="29.5" y="475.0" font-size="8.6" text-anchor="end" fill="#1f1f1f">2</text>
<line x1="30.6" y1="499.2" x2="32.6" y2="499.2" stroke="#555" stroke-width="0.6"/>
<text x="29.5" y="501.9" font-size="8.6" text-anchor="end" fill="#1f1f1f">1</text>
<line x1="30.6" y1="526.3" x2="32.6" y2="526.3" stroke="#555" stroke-width="0.6"/>
<text x="29.5" y="529.0" font-size="8.6" text-anchor="end" fill="#1f1f1f">0</text>
<line x1="44.8" y1="530.4" x2="44.8" y2="532.4" stroke="#555" stroke-width="0.6"/>
<text transform="translate(47.5,537.0) rotate(-45)" font-size="8.8" text-anchor="end" fill="#1f1f1f">Ewing</text>
<line x1="66.0" y1="530.4" x2="66.0" y2="532.4" stroke="#555" stroke-width="0.6"/>
<text transform="translate(70.3,537.0) rotate(-45)" font-size="8.8" text-anchor="end" fill="#1f1f1f">NBL</text>
<path d="M112.3 470.9 V526.3" stroke="#8a8a8a" stroke-width="0.7" fill="none"/><path d="M102.8 526.3 H122.1 M111.2 497.9 H113.4" stroke="#555" stroke-width="0.6" fill="none"/>
<circle cx="112.3" cy="475.9" r="0.35" fill="#444"/>
<circle cx="112.3" cy="480.2" r="0.35" fill="#444"/>
<circle cx="112.3" cy="487.2" r="0.35" fill="#444"/>
<circle cx="112.3" cy="492.2" r="0.35" fill="#444"/>
<path d="M131.6 443.2 L131.2 444.1 L130.9 445.1 L130.5 446.0 L130.1 446.9 L129.7 447.9 L129.2 448.8 L128.8 449.7 L128.3 450.7 L127.8 451.6 L127.3 452.5 L126.7 453.5 L126.2 454.4 L125.8 455.4 L125.3 456.3 L124.9 457.2 L124.5 458.2 L124.1 459.1 L123.8 460.0 L123.5 461.0 L123.3 461.9 L123.2 462.8 L123.1 463.8 L123.1 464.7 L123.3 465.6 L123.5 466.6 L123.7 467.5 L123.9 468.4 L124.1 469.4 L124.4 470.3 L124.6 471.2 L124.9 472.2 L125.1 473.1 L125.4 474.0 L125.6 475.0 L125.9 475.9 L126.1 476.9 L126.3 477.8 L126.6 478.7 L126.8 479.7 L127.1 480.6 L127.3 481.5 L127.5 482.5 L127.8 483.4 L128.0 484.3 L128.3 485.3 L128.5 486.2 L128.8 487.1 L129.0 488.1 L129.3 489.0 L129.5 489.9 L129.7 490.9 L130.0 491.8 L130.2 492.7 L130.4 493.7 L130.6 494.6 L130.8 495.6 L130.9 496.5 L131.1 497.4 L131.2 498.4 L131.4 499.3 L131.5 500.2 L131.6 501.2 L131.8 502.1 L131.9 503.0 L132.0 504.0 L132.2 504.9 L132.4 505.8 L132.5 506.8 L132.7 507.7 L132.8 508.6 L132.9 509.6 L133.0 510.5 L133.0 511.4 L132.9 512.4 L132.7 513.3 L132.5 514.2 L132.3 515.2 L132.0 516.1 L131.8 517.1 L131.6 518.0 L131.3 518.9 L131.1 519.9 L130.9 520.8 L130.8 521.7 L130.6 522.7 L130.5 523.6 L130.4 524.5 L130.3 525.5 L130.2 526.4 L136.4 526.4 L136.3 525.5 L136.2 524.5 L136.1 523.6 L136.0 522.7 L135.8 521.7 L135.7 520.8 L135.5 519.9 L135.3 518.9 L135.0 518.0 L134.8 517.1 L134.6 516.1 L134.3 515.2 L134.1 514.2 L133.9 513.3 L133.7 512.4 L133.6 511.4 L133.6 510.5 L133.7 509.6 L133.8 508.6 L133.9 507.7 L134.1 506.8 L134.2 505.8 L134.4 504.9 L134.6 504.0 L134.7 503.0 L134.8 502.1 L135.0 501.2 L135.1 500.2 L135.2 499.3 L135.4 498.4 L135.5 497.4 L135.7 496.5 L135.8 495.6 L136.0 494.6 L136.2 493.7 L136.4 492.7 L136.6 491.8 L136.9 490.9 L137.1 489.9 L137.3 489.0 L137.6 488.1 L137.8 487.1 L138.1 486.2 L138.3 485.3 L138.6 484.3 L138.8 483.4 L139.1 482.5 L139.3 481.5 L139.5 480.6 L139.8 479.7 L140.0 478.7 L140.3 477.8 L140.5 476.9 L140.7 475.9 L141.0 475.0 L141.2 474.0 L141.5 473.1 L141.7 472.2 L142.0 471.2 L142.2 470.3 L142.5 469.4 L142.7 468.4 L142.9 467.5 L143.1 466.6 L143.3 465.6 L143.5 464.7 L143.5 463.8 L143.4 462.8 L143.3 461.9 L143.1 461.0 L142.8 460.0 L142.5 459.1 L142.1 458.2 L141.7 457.2 L141.3 456.3 L140.8 455.4 L140.4 454.4 L139.9 453.5 L139.3 452.5 L138.8 451.6 L138.3 450.7 L137.8 449.7 L137.4 448.8 L136.9 447.9 L136.5 446.9 L136.1 446.0 L135.7 445.1 L135.4 444.1 L135.0 443.2Z" fill="#7e8486" stroke="#4a4d4f" stroke-width="0.45" stroke-linejoin="round"/>
<line x1="133.3" y1="443.3" x2="133.3" y2="498" stroke="#4a4d4f" stroke-width="0.9"/>
<rect x="131.3" y="461.7" width="4.1" height="25.6" fill="#fff" stroke="#4a4d4f" stroke-width="0.45"/>
<line x1="131.3" y1="471.5" x2="135.4" y2="471.5" stroke="#8a8a8a" stroke-width="0.7"/>
<path d="M99.8 439 V530.4 H146" fill="none" stroke="#555" stroke-width="0.7"/>
<line x1="97.8" y1="449.3" x2="99.8" y2="449.3" stroke="#555" stroke-width="0.6"/>
<text x="96.5" y="452.0" font-size="8.6" text-anchor="end" fill="#1f1f1f">4</text>
<line x1="97.8" y1="468.6" x2="99.8" y2="468.6" stroke="#555" stroke-width="0.6"/>
<text x="96.5" y="471.3" font-size="8.6" text-anchor="end" fill="#1f1f1f">3</text>
<line x1="97.8" y1="487.8" x2="99.8" y2="487.8" stroke="#555" stroke-width="0.6"/>
<text x="96.5" y="490.5" font-size="8.6" text-anchor="end" fill="#1f1f1f">2</text>
<line x1="97.8" y1="507.1" x2="99.8" y2="507.1" stroke="#555" stroke-width="0.6"/>
<text x="96.5" y="509.8" font-size="8.6" text-anchor="end" fill="#1f1f1f">1</text>
<line x1="97.8" y1="526.3" x2="99.8" y2="526.3" stroke="#555" stroke-width="0.6"/>
<text x="96.5" y="529.0" font-size="8.6" text-anchor="end" fill="#1f1f1f">0</text>
<line x1="112.3" y1="530.4" x2="112.3" y2="532.4" stroke="#555" stroke-width="0.6"/>
<text transform="translate(115.0,537.0) rotate(-45)" font-size="8.8" text-anchor="end" fill="#1f1f1f">Ewing</text>
<line x1="133.3" y1="530.4" x2="133.3" y2="532.4" stroke="#555" stroke-width="0.6"/>
<text transform="translate(137.6,537.0) rotate(-45)" font-size="8.8" text-anchor="end" fill="#1f1f1f">NBL</text>
</svg>
</body></html>
